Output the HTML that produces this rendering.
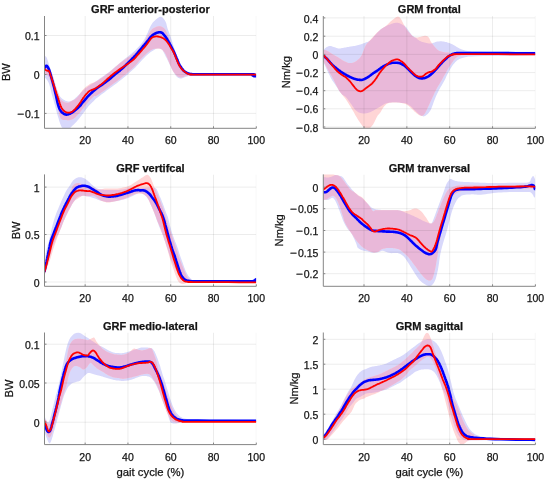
<!DOCTYPE html><html><head><meta charset="utf-8"><style>html,body{margin:0;padding:0;background:#fff;}svg{display:block;filter:blur(0.35px);}text{font-family:"Liberation Sans",sans-serif;fill:#141414;stroke:#141414;stroke-width:0.25px;}</style></head><body>
<svg width="550" height="484" viewBox="0 0 550 484">
<rect width="550" height="484" fill="#fff"/>
<defs>
<clipPath id="c0"><rect x="44.50" y="16.00" width="211.80" height="112.30"/></clipPath>
<clipPath id="bb0"><path d="M44.5,56.5 44.6,56.5 44.7,56.4 44.9,56.3 45.1,56.2 45.3,56.2 45.5,56.3 45.7,56.4 45.9,56.6 46.2,56.8 46.4,57.2 46.7,57.6 47.0,58.3 47.3,59.2 47.7,60.3 48.1,61.5 48.5,62.8 48.9,64.3 49.4,65.7 49.9,67.2 50.4,68.8 51.0,70.5 51.6,72.2 52.1,73.9 52.7,75.7 53.3,77.6 53.8,79.6 54.4,81.6 55.0,83.6 55.5,85.4 56.0,87.0 56.5,88.3 56.9,89.5 57.3,90.4 57.7,91.3 58.1,92.2 58.5,93.0 58.8,93.8 59.1,94.5 59.4,95.2 59.7,95.9 60.1,96.5 60.7,97.2 61.4,97.9 62.3,98.7 63.3,99.4 64.3,100.1 65.3,100.7 66.3,101.1 67.2,101.3 68.2,101.4 69.1,101.4 70.0,101.2 71.0,101.0 71.9,100.6 72.8,100.1 73.8,99.4 74.7,98.7 75.6,97.8 76.6,97.0 77.5,96.1 78.4,95.2 79.4,94.3 80.3,93.3 81.2,92.3 82.2,91.4 83.1,90.5 84.0,89.7 84.9,88.9 85.8,88.1 86.8,87.4 87.7,86.7 88.6,86.0 89.6,85.4 90.6,84.8 91.6,84.2 92.6,83.6 93.5,83.1 94.2,82.7 94.6,82.4 94.8,82.2 94.9,82.1 95.0,82.0 95.5,81.6 96.4,80.9 97.9,79.9 99.8,78.6 102.0,77.1 104.3,75.5 106.6,73.8 108.8,72.2 110.9,70.5 112.9,68.8 115.0,67.0 117.1,65.2 119.1,63.4 121.2,61.7 123.3,60.0 125.5,58.3 127.6,56.7 129.7,55.0 131.7,53.4 133.6,51.8 135.3,50.2 136.9,48.6 138.4,47.1 139.8,45.5 141.1,44.0 142.3,42.5 143.3,41.1 144.2,39.7 144.9,38.3 145.6,36.9 146.3,35.5 147.0,34.0 147.8,32.4 148.5,30.6 149.3,28.8 150.1,27.0 150.9,25.4 151.8,23.9 152.8,22.6 153.8,21.4 154.9,20.4 155.9,19.4 156.9,18.7 157.8,18.0 158.6,17.5 159.3,17.1 159.9,16.8 160.5,16.7 161.2,16.8 161.8,17.0 162.5,17.5 163.2,18.2 163.9,19.1 164.6,20.0 165.2,21.0 165.7,22.0 166.1,22.9 166.4,23.8 166.6,24.8 166.8,25.8 167.1,26.8 167.4,28.0 167.8,29.2 168.3,30.6 168.9,32.0 169.4,33.4 170.0,34.9 170.5,36.4 171.0,37.9 171.5,39.5 172.0,41.2 172.5,42.8 173.0,44.6 173.6,46.3 174.2,48.1 174.8,50.0 175.5,52.0 176.1,53.9 176.8,55.8 177.4,57.5 178.0,59.1 178.6,60.7 179.3,62.2 179.9,63.6 180.5,64.9 181.1,66.1 181.7,67.2 182.3,68.1 182.9,69.0 183.5,69.8 184.1,70.5 184.8,71.1 185.5,71.6 186.3,72.1 187.1,72.5 188.0,72.8 188.9,73.1 189.8,73.3 190.2,73.5 190.0,73.6 189.8,73.7 190.3,73.7 192.2,73.8 196.0,73.8 202.8,73.8 212.2,73.9 223.0,73.9 233.8,73.9 243.2,73.9 250.0,73.8 253.9,73.7 255.9,73.6 256.5,73.4 256.4,73.2 256.2,73.1 256.3,73.0 256.3,78.0 256.2,77.7 256.4,77.2 256.5,76.6 255.9,76.0 253.9,75.5 250.0,75.2 243.2,75.0 233.8,74.9 223.0,74.9 212.2,74.9 202.8,74.9 196.0,75.0 192.2,75.1 190.3,75.2 189.8,75.3 190.0,75.4 190.2,75.6 189.8,75.8 188.9,76.0 188.0,76.3 187.1,76.5 186.3,76.8 185.5,77.1 184.8,77.3 184.1,77.5 183.5,77.8 182.9,78.1 182.3,78.3 181.7,78.4 181.1,78.5 180.5,78.5 179.9,78.4 179.3,78.3 178.6,78.1 178.0,77.7 177.4,77.3 176.8,76.7 176.1,76.0 175.5,75.2 174.9,74.3 174.2,73.3 173.6,72.3 173.0,71.2 172.4,70.1 171.8,68.9 171.2,67.6 170.6,66.3 169.9,64.9 169.1,63.3 168.3,61.6 167.4,59.8 166.6,58.1 165.7,56.4 165.0,55.0 164.4,53.8 163.9,52.7 163.4,51.7 162.9,50.8 162.4,50.1 161.8,49.5 161.1,49.0 160.4,48.7 159.6,48.5 158.7,48.4 157.8,48.5 156.8,48.7 155.7,49.1 154.5,49.7 153.3,50.4 152.0,51.2 150.7,52.1 149.5,53.0 148.3,54.0 147.1,55.0 146.0,56.1 144.8,57.3 143.6,58.5 142.3,59.8 141.0,61.2 139.6,62.7 138.3,64.2 136.8,65.8 135.3,67.4 133.6,69.1 131.7,70.8 129.7,72.6 127.6,74.4 125.5,76.2 123.3,78.0 121.2,79.7 119.1,81.3 117.1,82.9 115.0,84.4 112.9,85.9 110.9,87.5 108.8,89.0 106.6,90.6 104.3,92.4 102.0,94.1 99.8,95.7 97.9,97.2 96.4,98.3 95.5,99.1 95.0,99.5 94.9,99.7 94.8,99.9 94.6,100.1 94.2,100.6 93.5,101.3 92.6,102.1 91.6,103.0 90.6,104.0 89.6,105.0 88.6,106.1 87.7,107.2 86.8,108.4 85.8,109.6 84.9,110.9 84.0,112.2 83.1,113.4 82.2,114.6 81.2,115.9 80.3,117.1 79.4,118.3 78.4,119.5 77.5,120.6 76.5,121.7 75.5,122.7 74.5,123.7 73.5,124.7 72.6,125.5 71.9,126.2 71.4,126.7 71.1,127.1 70.8,127.4 70.6,127.6 70.4,127.8 70.0,128.0 69.5,128.2 68.9,128.4 68.2,128.6 67.6,128.8 66.9,128.9 66.3,129.0 65.7,129.0 65.1,129.1 64.6,129.0 64.0,128.9 63.5,128.8 63.0,128.5 62.6,128.2 62.2,127.8 61.8,127.4 61.5,126.8 61.1,126.1 60.7,125.1 60.2,123.8 59.7,122.2 59.1,120.5 58.6,118.6 58.0,116.7 57.5,115.0 57.0,113.3 56.6,111.7 56.2,110.0 55.8,108.4 55.3,106.8 54.9,105.1 54.4,103.4 53.9,101.8 53.5,100.1 53.0,98.4 52.5,96.7 52.0,95.0 51.5,93.2 51.1,91.3 50.6,89.5 50.2,87.6 49.7,86.0 49.3,84.6 48.9,83.5 48.5,82.6 48.1,81.8 47.8,81.2 47.4,80.6 47.0,80.0 46.6,79.4 46.1,78.8 45.6,78.3 45.2,77.9 44.8,77.5 44.5,77.2Z"/></clipPath>
<clipPath id="c1"><rect x="323.30" y="16.00" width="212.10" height="112.30"/></clipPath>
<clipPath id="bb1"><path d="M323.3,50.0 323.6,49.7 324.1,49.3 324.6,48.7 325.2,48.2 325.8,47.7 326.4,47.3 326.9,47.0 327.5,46.7 328.0,46.4 328.5,46.2 329.1,46.0 329.6,45.9 330.1,45.9 330.6,46.0 331.1,46.1 331.6,46.3 332.2,46.5 332.9,46.7 333.7,47.0 334.6,47.3 335.5,47.6 336.5,48.0 337.5,48.2 338.4,48.4 339.3,48.4 340.2,48.4 341.1,48.3 342.0,48.1 342.9,48.0 343.8,47.8 344.7,47.6 345.6,47.5 346.6,47.3 347.5,47.1 348.4,46.9 349.3,46.7 350.2,46.6 351.1,46.4 352.0,46.3 352.9,46.2 353.8,46.1 354.7,45.9 355.6,45.7 356.5,45.5 357.4,45.3 358.4,45.0 359.3,44.8 360.2,44.5 361.1,44.2 362.0,43.9 363.0,43.6 363.9,43.3 364.8,42.9 365.6,42.6 366.4,42.3 367.1,42.1 367.8,41.9 368.5,41.6 369.2,41.2 370.0,40.6 370.9,39.8 371.8,38.9 372.7,37.9 373.6,36.8 374.6,35.7 375.5,34.7 376.4,33.7 377.3,32.8 378.2,31.8 379.1,30.9 380.0,30.1 380.9,29.3 381.8,28.6 382.7,28.0 383.6,27.4 384.6,26.9 385.5,26.5 386.4,26.0 387.3,25.6 388.2,25.1 389.2,24.8 390.1,24.4 391.0,24.1 391.8,23.8 392.6,23.5 393.4,23.3 394.1,23.1 394.9,22.9 395.5,22.8 396.2,22.7 396.8,22.7 397.4,22.7 397.9,22.8 398.4,23.0 399.0,23.1 399.5,23.3 400.0,23.5 400.6,23.7 401.1,24.0 401.6,24.3 402.2,24.6 402.7,24.9 403.2,25.2 403.7,25.4 404.2,25.6 404.7,25.9 405.3,26.4 406.0,27.1 406.8,28.1 407.7,29.4 408.7,30.8 409.7,32.3 410.6,33.6 411.5,34.7 412.3,35.5 413.1,36.1 413.8,36.6 414.5,37.0 415.2,37.4 415.8,37.8 416.4,38.3 416.9,38.8 417.4,39.2 417.9,39.7 418.4,40.1 419.1,40.5 419.9,40.9 420.7,41.3 421.6,41.7 422.5,42.0 423.5,42.3 424.5,42.6 425.5,42.8 426.6,43.1 427.7,43.3 428.8,43.4 429.9,43.5 430.9,43.5 431.9,43.4 432.8,43.1 433.7,42.7 434.6,42.4 435.5,42.0 436.4,41.8 437.3,41.6 438.2,41.5 439.1,41.4 440.0,41.3 440.9,41.3 441.8,41.3 442.7,41.4 443.6,41.5 444.6,41.7 445.5,41.9 446.4,42.1 447.3,42.4 448.2,42.7 449.1,43.0 450.0,43.3 450.9,43.7 451.8,44.1 452.7,44.5 453.6,45.0 454.5,45.6 455.4,46.1 456.4,46.7 457.3,47.3 458.2,47.8 459.1,48.2 460.0,48.7 460.9,49.0 461.8,49.4 462.7,49.7 463.6,50.0 464.4,50.3 465.2,50.5 466.0,50.7 466.9,50.8 467.9,51.0 469.1,51.1 470.1,51.2 470.7,51.3 471.4,51.4 472.9,51.5 475.5,51.5 480.0,51.6 487.3,51.7 497.2,51.7 508.4,51.7 519.4,51.8 528.9,51.8 535.4,51.8 535.4,55.5 528.4,55.6 518.2,55.7 506.4,55.8 494.4,56.0 483.8,56.1 476.0,56.3 471.3,56.4 468.6,56.6 467.3,56.8 466.7,56.9 466.2,57.1 465.3,57.3 464.1,57.5 463.1,57.7 462.3,57.9 461.5,58.2 460.8,58.5 460.1,58.8 459.4,59.1 458.7,59.5 458.0,59.9 457.3,60.3 456.7,60.8 456.0,61.4 455.3,62.1 454.6,62.9 453.9,63.7 453.2,64.6 452.5,65.6 451.8,66.6 451.1,67.7 450.4,68.8 449.7,70.0 449.1,71.2 448.4,72.5 447.7,73.8 447.0,75.1 446.3,76.5 445.7,78.0 445.0,79.4 444.3,80.8 443.6,82.1 442.9,83.3 442.2,84.5 441.5,85.7 440.8,86.8 440.1,88.0 439.4,89.3 438.7,90.6 438.1,92.0 437.4,93.3 436.7,94.8 436.0,96.3 435.3,98.0 434.5,99.9 433.7,102.1 432.9,104.4 432.1,106.6 431.3,108.7 430.4,110.4 429.5,111.8 428.6,113.0 427.7,114.0 426.7,114.8 425.8,115.5 425.0,116.0 424.2,116.3 423.5,116.4 422.9,116.3 422.2,116.1 421.5,115.9 420.8,115.5 420.0,115.1 419.2,114.5 418.4,113.8 417.6,113.1 416.8,112.3 416.0,111.6 415.2,110.8 414.4,110.0 413.6,109.2 412.8,108.3 412.0,107.5 411.2,106.8 410.4,106.1 409.6,105.5 408.8,104.9 408.0,104.4 407.2,104.0 406.4,103.6 405.6,103.3 404.8,103.2 404.1,103.1 403.3,103.0 402.5,103.0 401.6,102.9 400.7,102.8 399.7,102.6 398.7,102.5 397.6,102.4 396.6,102.3 395.6,102.2 394.6,102.2 393.6,102.2 392.5,102.3 391.5,102.4 390.5,102.5 389.6,102.6 388.7,102.7 387.9,102.9 387.1,103.0 386.4,103.2 385.6,103.5 384.8,103.8 384.0,104.2 383.2,104.7 382.4,105.2 381.6,105.7 380.8,106.3 380.0,106.8 379.2,107.3 378.3,107.8 377.4,108.3 376.5,108.8 375.6,109.3 374.8,109.8 374.0,110.2 373.2,110.7 372.4,111.1 371.6,111.5 370.8,111.9 370.0,112.2 369.2,112.5 368.4,112.7 367.6,113.0 366.8,113.2 366.0,113.3 365.2,113.4 364.4,113.5 363.6,113.5 362.8,113.4 362.0,113.3 361.2,113.2 360.4,113.0 359.6,112.7 358.8,112.4 358.1,111.9 357.3,111.5 356.6,111.0 356.0,110.5 355.4,110.0 355.0,109.5 354.5,108.9 354.1,108.3 353.7,107.7 353.2,107.0 352.6,106.3 352.1,105.4 351.5,104.6 350.8,103.7 350.2,102.8 349.6,102.0 349.0,101.2 348.4,100.3 347.9,99.5 347.3,98.7 346.7,97.9 346.0,97.2 345.3,96.6 344.5,96.0 343.7,95.5 342.8,95.0 342.0,94.4 341.2,93.6 340.4,92.6 339.6,91.5 338.8,90.2 338.0,88.9 337.2,87.6 336.4,86.4 335.6,85.2 334.8,84.0 333.9,82.8 333.1,81.6 332.3,80.4 331.6,79.2 330.9,78.0 330.4,76.9 329.8,75.8 329.2,74.6 328.6,73.4 328.0,72.0 327.2,70.4 326.3,68.5 325.4,66.5 324.6,64.7 323.8,63.1 323.3,62.0Z"/></clipPath>
<clipPath id="c2"><rect x="44.50" y="174.40" width="211.80" height="111.90"/></clipPath>
<clipPath id="bb2"><path d="M44.4,264.0 44.6,262.7 44.8,260.9 45.0,258.8 45.3,256.4 45.6,254.1 46.0,252.0 46.4,250.0 47.0,248.1 47.5,246.1 48.1,244.1 48.7,242.1 49.2,240.0 49.7,237.8 50.2,235.4 50.8,233.0 51.3,230.6 51.8,228.3 52.3,226.2 52.8,224.3 53.3,222.5 53.8,220.8 54.3,219.1 54.8,217.5 55.4,215.8 56.0,214.1 56.7,212.3 57.4,210.6 58.1,208.9 58.8,207.2 59.5,205.5 60.2,203.9 60.9,202.2 61.6,200.6 62.3,199.0 63.0,197.6 63.6,196.2 64.2,195.0 64.7,193.8 65.2,192.8 65.7,191.8 66.2,190.9 66.7,190.0 67.2,189.2 67.6,188.6 68.1,187.9 68.5,187.4 69.0,186.7 69.5,186.0 70.0,185.2 70.6,184.2 71.2,183.2 71.8,182.3 72.4,181.4 73.0,180.6 73.6,179.9 74.3,179.4 75.0,178.8 75.7,178.4 76.4,178.0 77.1,177.7 77.8,177.5 78.5,177.3 79.2,177.2 79.9,177.2 80.6,177.2 81.3,177.3 82.0,177.4 82.7,177.7 83.4,177.9 84.0,178.2 84.7,178.6 85.4,179.0 86.1,179.4 86.8,180.0 87.4,180.5 88.1,181.1 88.8,181.7 89.5,182.3 90.2,183.0 91.0,183.7 91.7,184.4 92.5,185.1 93.2,185.8 94.0,186.4 94.7,186.9 95.5,187.4 96.2,187.9 96.9,188.3 97.8,188.7 98.7,189.0 99.7,189.3 100.8,189.5 102.0,189.7 103.2,189.8 104.5,189.9 106.0,190.0 107.7,190.1 109.5,190.1 111.5,190.1 113.4,190.1 115.3,190.1 117.0,190.0 118.5,189.9 119.9,189.8 121.2,189.6 122.4,189.4 123.7,189.2 125.0,189.0 126.3,188.8 127.7,188.5 129.1,188.1 130.4,187.8 131.7,187.6 133.0,187.5 134.3,187.5 135.6,187.6 136.8,187.8 138.0,188.0 139.1,188.2 140.0,188.3 140.7,188.3 141.3,188.3 141.8,188.2 142.1,188.1 142.5,188.1 143.0,188.0 143.5,188.0 144.0,187.9 144.5,187.9 145.0,187.9 145.5,187.8 146.0,187.8 146.5,187.8 147.0,187.7 147.5,187.7 148.0,187.7 148.5,187.6 149.0,187.6 149.5,187.6 150.0,187.6 150.6,187.6 151.1,187.6 151.6,187.6 152.0,187.6 152.4,187.6 152.7,187.6 153.0,187.6 153.3,187.7 153.6,187.7 154.0,187.8 154.4,187.9 154.8,188.0 155.2,188.1 155.6,188.2 156.1,188.5 156.5,189.0 156.9,189.7 157.3,190.5 157.8,191.5 158.2,192.5 158.6,193.5 159.0,194.5 159.4,195.4 159.8,196.4 160.2,197.3 160.7,198.3 161.1,199.3 161.5,200.3 161.9,201.4 162.3,202.4 162.8,203.6 163.2,204.7 163.6,205.8 164.0,206.9 164.4,208.0 164.8,209.2 165.2,210.3 165.7,211.5 166.0,212.5 166.4,213.5 166.7,214.3 167.0,214.9 167.2,215.4 167.5,216.0 167.7,216.8 168.1,218.0 168.5,219.6 169.0,221.6 169.6,223.7 170.1,225.9 170.7,228.1 171.2,230.0 171.7,231.7 172.2,233.3 172.7,234.8 173.2,236.2 173.7,237.6 174.2,239.0 174.7,240.3 175.1,241.4 175.6,242.6 176.1,243.8 176.6,245.1 177.2,246.8 177.9,248.8 178.7,251.2 179.5,253.7 180.3,256.3 181.2,258.8 182.0,261.1 182.8,263.3 183.6,265.5 184.3,267.6 185.1,269.6 185.9,271.5 186.7,273.1 187.5,274.5 188.2,275.7 189.0,276.8 189.8,277.7 190.6,278.4 191.5,279.1 192.0,279.6 191.9,279.9 191.8,280.1 192.4,280.2 194.3,280.2 198.0,280.3 204.6,280.4 213.7,280.5 224.2,280.6 234.5,280.6 243.6,280.6 250.0,280.5 253.5,280.3 255.0,280.1 255.1,279.9 254.6,279.6 254.0,279.3 254.0,279.0 254.5,278.7 255.0,278.4 255.4,278.2 255.8,277.9 256.1,277.7 256.3,277.5 256.3,282.0 248.6,282.1 237.5,282.2 224.6,282.3 211.6,282.4 200.1,282.5 192.0,282.5 187.5,282.5 185.3,282.4 184.8,282.4 185.1,282.2 185.4,281.9 185.0,281.5 184.0,280.8 183.1,280.0 182.3,279.1 181.5,278.0 180.8,277.0 180.0,276.0 179.3,275.1 178.6,274.1 177.9,273.2 177.3,272.2 176.7,271.1 176.0,270.0 175.3,268.8 174.6,267.4 173.9,266.1 173.2,264.7 172.6,263.3 172.0,262.0 171.5,260.8 171.1,259.7 170.7,258.6 170.3,257.4 169.9,256.3 169.5,255.0 169.0,253.6 168.6,252.2 168.1,250.7 167.6,249.1 167.0,247.6 166.5,246.0 165.9,244.4 165.4,242.6 164.8,240.9 164.1,239.2 163.6,237.5 163.0,236.0 162.5,234.6 161.9,233.3 161.4,232.0 160.9,230.8 160.5,229.7 160.0,228.5 159.6,227.4 159.1,226.2 158.7,225.2 158.3,224.1 157.9,223.0 157.5,222.0 157.1,221.0 156.7,220.0 156.4,219.0 156.0,218.0 155.7,217.0 155.3,216.0 154.9,215.0 154.6,214.1 154.3,213.1 153.9,212.1 153.6,211.2 153.2,210.2 152.8,209.2 152.4,208.2 152.0,207.2 151.5,206.3 151.1,205.3 150.7,204.4 150.3,203.5 149.9,202.7 149.6,201.8 149.2,201.0 148.8,200.3 148.3,199.5 147.8,198.8 147.3,198.0 146.8,197.3 146.3,196.6 145.7,196.0 145.0,195.4 144.3,194.8 143.5,194.3 142.7,193.7 141.8,193.3 140.9,193.0 140.0,192.9 139.0,193.0 137.9,193.4 136.8,193.9 135.6,194.5 134.6,195.0 133.6,195.5 132.8,195.9 132.1,196.2 131.5,196.5 130.8,196.8 130.1,197.2 129.3,197.5 128.4,197.9 127.3,198.3 126.3,198.7 125.1,199.1 123.9,199.4 122.7,199.8 121.3,200.1 119.9,200.5 118.3,200.8 116.8,201.0 115.3,201.3 114.0,201.5 112.8,201.7 111.7,201.8 110.6,201.9 109.6,202.0 108.6,202.0 107.5,202.0 106.4,201.9 105.3,201.8 104.2,201.6 103.1,201.3 102.0,201.1 100.9,200.8 99.9,200.5 98.8,200.1 97.8,199.7 96.9,199.2 95.9,198.8 95.0,198.5 94.1,198.2 93.3,197.9 92.5,197.7 91.7,197.4 90.9,197.2 90.0,197.0 89.1,196.8 88.1,196.6 87.1,196.3 86.0,196.2 85.0,196.0 84.0,196.0 83.0,196.0 82.0,196.1 80.9,196.2 79.9,196.3 79.0,196.6 78.1,197.0 77.3,197.5 76.6,198.1 75.9,198.8 75.3,199.6 74.7,200.5 74.0,201.4 73.3,202.4 72.6,203.5 72.0,204.6 71.3,205.9 70.6,207.2 69.8,208.6 69.0,210.1 68.1,211.8 67.3,213.5 66.4,215.3 65.5,217.1 64.7,218.9 63.9,220.6 63.2,222.4 62.5,224.2 61.9,226.0 61.2,227.7 60.5,229.3 59.8,230.9 59.1,232.4 58.4,233.8 57.7,235.2 57.0,236.6 56.4,238.0 55.8,239.4 55.2,240.6 54.6,241.9 54.1,243.2 53.5,244.6 53.0,246.0 52.5,247.6 52.0,249.2 51.5,250.9 51.0,252.6 50.5,254.3 50.0,256.0 49.5,257.7 49.0,259.3 48.5,261.0 48.0,262.7 47.5,264.3 47.0,266.0 46.5,267.8 46.0,269.7 45.5,271.6 45.1,273.4 44.7,274.9 44.4,276.0Z"/></clipPath>
<clipPath id="c3"><rect x="323.30" y="174.40" width="212.10" height="111.90"/></clipPath>
<clipPath id="bb3"><path d="M323.3,177.0 323.8,177.1 324.5,177.2 325.4,177.3 326.3,177.4 327.2,177.5 328.0,177.5 328.7,177.4 329.4,177.3 330.1,177.1 330.7,176.9 331.4,176.7 332.0,176.5 332.6,176.3 333.2,176.0 333.8,175.7 334.3,175.4 334.9,175.1 335.4,175.0 335.9,175.0 336.4,175.0 336.9,175.0 337.4,175.2 337.9,175.3 338.5,175.5 339.1,175.7 339.8,175.8 340.5,175.9 341.2,176.2 341.9,176.6 342.7,177.2 343.5,178.1 344.3,179.2 345.2,180.5 346.1,181.9 346.9,183.2 347.8,184.4 348.7,185.5 349.5,186.6 350.4,187.6 351.3,188.7 352.1,189.7 353.0,190.6 353.9,191.5 354.7,192.4 355.6,193.3 356.4,194.1 357.2,194.8 358.0,195.5 358.7,196.0 359.4,196.5 360.1,196.8 360.7,197.2 361.4,197.6 362.0,198.0 362.6,198.5 363.2,199.1 363.7,199.7 364.3,200.3 364.8,200.9 365.4,201.5 366.0,202.1 366.6,202.7 367.3,203.3 367.9,203.9 368.5,204.5 369.0,205.0 369.5,205.5 369.9,206.0 370.3,206.4 370.7,206.8 371.1,207.2 371.5,207.5 371.9,207.8 372.2,208.0 372.5,208.2 372.9,208.4 373.4,208.6 374.0,208.8 374.8,209.0 375.6,209.2 376.5,209.4 377.6,209.5 378.7,209.7 380.0,209.8 381.5,209.9 383.1,209.9 384.9,210.0 386.7,210.0 388.4,210.0 390.0,210.0 391.5,210.0 392.9,209.9 394.2,209.9 395.6,209.9 396.8,209.9 398.0,210.0 399.1,210.2 399.9,210.4 400.8,210.7 401.7,211.0 402.7,211.5 404.0,212.0 405.6,212.7 407.5,213.5 409.6,214.3 411.7,215.2 413.7,216.1 415.4,216.9 416.9,217.6 418.3,218.3 419.6,219.0 420.8,219.6 421.9,220.2 423.0,220.7 424.0,221.2 424.9,221.6 425.8,221.9 426.6,222.3 427.3,222.5 428.0,222.8 428.6,223.0 429.1,223.3 429.5,223.4 429.9,223.6 430.2,223.6 430.6,223.6 430.9,223.5 431.2,223.5 431.5,223.3 431.8,223.0 432.1,222.5 432.5,221.7 433.0,220.5 433.6,219.0 434.2,217.2 434.9,215.4 435.6,213.5 436.2,211.8 436.8,210.2 437.4,208.5 438.0,206.9 438.7,205.2 439.3,203.6 439.9,201.9 440.5,200.2 441.2,198.5 441.8,196.8 442.4,195.2 443.0,193.5 443.6,192.0 444.1,190.5 444.6,189.0 445.1,187.6 445.6,186.3 446.0,185.1 446.5,184.0 447.0,183.1 447.5,182.3 447.9,181.7 448.4,181.1 448.8,180.6 449.1,180.2 449.3,179.8 449.4,179.5 449.5,179.2 449.6,179.0 449.7,178.8 450.0,178.8 450.4,178.9 451.0,179.1 451.6,179.3 452.2,179.6 452.9,179.9 453.6,180.2 454.3,180.4 454.9,180.7 455.6,180.9 456.3,181.1 457.2,181.3 458.2,181.5 459.5,181.6 460.9,181.7 462.5,181.8 464.1,181.9 465.7,181.9 467.3,182.0 468.8,182.1 470.2,182.2 471.6,182.3 473.0,182.3 474.6,182.4 476.4,182.5 478.3,182.6 480.3,182.7 482.4,182.7 484.7,182.8 487.2,182.9 490.0,182.9 493.2,182.9 496.9,182.9 500.9,182.9 504.8,182.9 508.6,182.8 512.0,182.8 515.2,182.8 518.3,182.8 521.2,182.8 523.8,182.8 526.1,182.7 528.0,182.4 529.3,181.9 530.1,181.3 530.5,180.5 530.7,179.7 530.9,179.0 531.2,178.4 531.6,177.8 531.9,177.2 532.3,176.7 532.6,176.3 532.9,176.0 533.2,176.0 533.6,176.3 534.0,177.0 534.4,177.8 534.8,178.7 535.2,179.5 535.4,180.0 535.4,195.2 535.3,195.5 535.2,196.1 535.0,196.7 534.9,197.2 534.7,197.5 534.4,197.6 534.1,197.3 533.8,196.7 533.4,195.8 533.0,195.0 532.5,194.2 532.0,193.6 531.6,193.2 531.2,192.8 530.9,192.6 530.3,192.3 529.4,192.1 528.0,192.0 526.0,191.9 523.6,191.9 520.8,191.9 517.8,191.9 514.8,191.9 512.0,192.0 509.3,192.1 506.6,192.2 503.9,192.3 501.3,192.4 498.6,192.6 496.0,192.8 493.4,193.1 490.7,193.4 488.0,193.8 485.5,194.2 483.1,194.5 480.9,194.7 479.0,194.8 477.4,194.7 476.0,194.6 474.6,194.4 473.2,194.3 471.8,194.3 470.2,194.4 468.5,194.5 466.8,194.6 465.3,194.8 463.8,195.0 462.7,195.2 461.9,195.4 461.3,195.7 461.0,196.0 460.7,196.3 460.4,196.7 460.0,197.0 459.6,197.3 459.1,197.6 458.7,197.8 458.3,198.2 457.8,198.7 457.3,199.4 456.7,200.3 456.1,201.4 455.4,202.7 454.8,204.0 454.1,205.5 453.5,206.9 452.9,208.4 452.4,209.9 451.9,211.5 451.4,213.2 450.9,215.0 450.4,216.8 449.9,218.7 449.4,220.7 448.9,222.8 448.4,225.0 447.9,227.1 447.3,229.2 446.7,231.3 446.1,233.4 445.5,235.5 444.8,237.5 444.2,239.6 443.6,241.6 443.0,243.5 442.5,245.3 442.0,247.1 441.5,249.0 441.0,250.9 440.5,253.0 440.1,255.4 439.7,257.9 439.3,260.6 439.0,263.3 438.6,265.8 438.2,268.2 437.8,270.4 437.3,272.5 436.9,274.5 436.4,276.4 435.9,278.2 435.4,279.7 434.8,281.1 434.2,282.2 433.6,283.3 433.0,284.1 432.3,284.8 431.6,285.4 430.9,285.8 430.2,286.0 429.4,286.1 428.6,286.0 427.8,285.8 426.8,285.4 425.7,284.8 424.5,284.1 423.2,283.3 421.8,282.2 420.5,281.1 419.2,279.7 417.9,278.1 416.7,276.3 415.4,274.3 414.1,272.2 412.9,270.2 411.6,268.2 410.3,266.2 409.0,264.1 407.7,262.0 406.4,260.0 405.2,258.3 404.0,256.8 402.9,255.7 401.8,254.9 400.8,254.2 399.8,253.8 398.8,253.4 397.7,253.1 396.5,252.9 395.3,252.9 394.1,253.0 392.8,253.1 391.6,253.2 390.3,253.1 389.0,252.8 387.7,252.4 386.4,251.9 385.1,251.4 383.9,251.0 382.8,250.8 381.8,250.8 381.0,251.1 380.2,251.4 379.5,251.7 378.8,252.1 378.0,252.3 377.2,252.5 376.3,252.6 375.5,252.7 374.7,252.8 373.8,252.8 373.0,252.8 372.2,252.7 371.3,252.5 370.5,252.2 369.7,252.0 368.8,251.7 368.0,251.5 367.2,251.3 366.3,251.2 365.5,251.1 364.7,250.9 363.8,250.8 363.0,250.5 362.1,250.2 361.2,249.9 360.3,249.5 359.4,249.1 358.7,248.6 358.0,248.0 357.5,247.4 357.2,246.7 357.0,245.9 356.7,245.1 356.4,244.1 356.0,243.0 355.4,241.7 354.8,240.2 354.0,238.6 353.2,236.9 352.5,235.4 351.7,234.0 350.9,232.8 350.1,231.8 349.3,230.8 348.5,229.9 347.7,229.0 347.0,228.0 346.4,227.0 345.8,226.0 345.2,225.0 344.7,224.0 344.2,223.0 343.7,222.0 343.3,221.1 342.9,220.2 342.6,219.3 342.3,218.4 342.0,217.5 341.6,216.4 341.1,215.2 340.6,213.8 340.1,212.4 339.6,211.0 339.0,209.5 338.5,208.2 338.0,206.9 337.5,205.5 336.9,204.2 336.4,203.0 335.9,201.9 335.4,200.9 334.9,200.1 334.4,199.4 333.9,198.8 333.4,198.3 332.9,198.0 332.3,197.8 331.7,197.9 331.0,198.2 330.4,198.7 329.7,199.2 328.9,199.6 328.2,199.9 327.4,200.0 326.4,200.1 325.5,200.1 324.6,200.0 323.8,200.0 323.3,200.0Z"/></clipPath>
<clipPath id="c4"><rect x="44.50" y="332.50" width="211.80" height="112.10"/></clipPath>
<clipPath id="bb4"><path d="M44.4,415.5 44.6,416.0 44.8,416.6 45.1,417.4 45.4,418.2 45.8,419.0 46.1,419.6 46.4,420.2 46.7,420.9 47.1,421.5 47.4,422.0 47.8,422.3 48.1,422.3 48.4,422.1 48.8,421.7 49.1,421.1 49.5,420.3 49.8,419.4 50.2,418.2 50.6,416.8 51.1,415.1 51.5,413.2 52.0,411.2 52.4,409.2 52.9,407.3 53.4,405.4 53.8,403.5 54.3,401.6 54.8,399.7 55.2,398.0 55.6,396.4 55.9,395.1 56.2,394.1 56.5,393.2 56.8,392.3 57.1,391.2 57.4,390.0 57.8,388.5 58.2,386.9 58.6,385.2 59.0,383.4 59.5,381.5 59.9,379.6 60.3,377.6 60.7,375.6 61.1,373.5 61.6,371.4 62.0,369.3 62.4,367.2 62.8,365.1 63.2,363.0 63.7,360.8 64.1,358.7 64.5,356.7 64.9,354.8 65.3,353.0 65.7,351.2 66.1,349.5 66.5,347.8 66.9,346.3 67.3,344.9 67.7,343.6 68.1,342.5 68.5,341.5 68.9,340.5 69.3,339.6 69.8,338.7 70.3,337.8 70.9,337.0 71.6,336.2 72.2,335.5 72.9,334.9 73.5,334.3 74.1,333.8 74.8,333.5 75.5,333.2 76.1,333.0 76.7,332.8 77.3,332.7 77.8,332.6 78.3,332.6 78.7,332.6 79.1,332.7 79.5,332.8 80.0,333.0 80.5,333.2 81.0,333.5 81.5,333.8 82.1,334.2 82.7,334.6 83.3,335.0 84.0,335.4 84.7,335.9 85.5,336.5 86.3,337.0 87.2,337.6 88.0,338.1 88.8,338.6 89.7,339.2 90.6,339.8 91.5,340.4 92.3,340.9 93.2,341.5 94.0,342.1 94.9,342.7 95.7,343.3 96.5,343.8 97.4,344.4 98.2,344.9 99.1,345.4 99.9,345.8 100.8,346.2 101.7,346.6 102.6,347.0 103.5,347.4 104.4,347.9 105.2,348.4 106.1,349.0 107.0,349.5 107.8,350.0 108.7,350.5 109.6,350.9 110.5,351.3 111.4,351.7 112.2,352.1 113.1,352.4 113.9,352.6 114.6,352.8 115.3,352.9 115.9,353.0 116.6,353.0 117.2,353.1 118.0,353.1 118.8,353.1 119.8,353.2 120.7,353.2 121.7,353.2 122.7,353.1 123.6,353.0 124.5,352.8 125.4,352.6 126.2,352.4 127.1,352.1 128.1,351.8 129.1,351.5 130.3,351.1 131.6,350.7 133.0,350.2 134.3,349.8 135.6,349.4 136.7,349.0 137.6,348.7 138.4,348.4 139.1,348.1 139.8,347.9 140.4,347.7 141.1,347.6 141.8,347.5 142.6,347.5 143.3,347.4 144.0,347.5 144.8,347.5 145.5,347.5 146.2,347.5 147.0,347.6 147.8,347.6 148.5,347.7 149.2,347.7 149.8,347.8 150.3,347.9 150.7,347.9 151.0,348.0 151.3,348.1 151.7,348.3 152.0,348.5 152.4,348.8 152.7,349.1 153.1,349.5 153.5,349.9 153.8,350.4 154.2,351.0 154.6,351.6 154.9,352.3 155.2,353.0 155.6,353.8 156.0,354.7 156.4,355.8 156.9,357.0 157.4,358.3 157.9,359.8 158.5,361.3 159.0,362.9 159.6,364.5 160.2,366.3 160.7,368.2 161.3,370.2 161.9,372.1 162.4,373.9 162.9,375.5 163.3,376.7 163.6,377.5 163.9,378.3 164.2,379.0 164.5,379.9 164.9,381.2 165.4,382.9 166.0,384.9 166.6,387.1 167.3,389.3 168.0,391.5 168.6,393.6 169.2,395.6 169.8,397.5 170.4,399.5 171.1,401.3 171.7,403.1 172.3,404.7 172.9,406.2 173.5,407.6 174.1,408.8 174.7,410.0 175.4,411.1 176.1,412.2 176.8,413.2 177.6,414.1 178.4,415.0 179.2,415.8 180.1,416.5 181.0,417.1 181.9,417.6 182.7,418.0 183.6,418.3 184.6,418.6 185.8,418.8 187.2,419.0 188.4,419.2 189.4,419.3 190.5,419.4 192.3,419.4 195.3,419.5 200.0,419.5 207.5,419.6 217.6,419.6 228.9,419.6 240.1,419.7 249.7,419.7 256.3,419.7 256.3,421.7 248.4,421.7 236.9,421.7 223.6,421.7 210.2,421.7 198.4,421.8 190.0,421.8 185.3,421.8 183.0,421.9 182.3,421.9 182.5,421.9 182.7,422.0 182.3,422.1 181.3,422.3 180.4,422.5 179.6,422.7 178.9,423.0 178.1,423.2 177.3,423.3 176.4,423.4 175.5,423.5 174.6,423.5 173.8,423.5 173.0,423.5 172.3,423.3 171.8,423.1 171.3,422.9 170.9,422.6 170.6,422.2 170.3,421.6 169.9,420.9 169.5,420.0 169.1,418.9 168.7,417.6 168.3,416.3 167.9,414.8 167.4,413.4 166.8,411.9 166.2,410.3 165.6,408.6 164.9,406.9 164.2,405.2 163.6,403.5 163.0,401.7 162.3,399.8 161.7,397.9 161.0,396.1 160.4,394.4 159.9,393.0 159.4,391.8 159.0,390.9 158.6,390.2 158.3,389.5 157.9,388.8 157.5,388.0 157.1,387.1 156.7,386.3 156.3,385.4 155.8,384.6 155.4,383.7 155.0,383.0 154.6,382.3 154.2,381.7 153.8,381.1 153.3,380.5 152.9,380.0 152.5,379.5 152.1,379.0 151.7,378.6 151.3,378.2 150.8,377.8 150.3,377.4 149.8,377.1 149.2,376.8 148.5,376.6 147.8,376.4 147.1,376.2 146.3,376.1 145.5,376.0 144.7,376.0 143.9,375.9 143.0,376.0 142.1,376.1 141.1,376.2 140.0,376.5 138.7,376.9 137.3,377.5 135.8,378.1 134.2,378.8 132.7,379.3 131.3,379.8 129.9,380.1 128.6,380.4 127.3,380.6 126.0,380.7 124.8,380.8 123.6,380.9 122.5,380.9 121.5,380.9 120.6,380.8 119.7,380.7 118.8,380.6 118.0,380.5 117.2,380.4 116.6,380.4 115.9,380.3 115.3,380.2 114.6,380.1 113.9,380.0 113.1,379.8 112.2,379.6 111.4,379.3 110.5,379.0 109.6,378.8 108.7,378.5 107.8,378.2 107.0,378.0 106.1,377.7 105.2,377.4 104.4,377.2 103.5,376.9 102.6,376.6 101.8,376.4 100.9,376.1 100.0,375.9 99.2,375.6 98.3,375.4 97.4,375.2 96.5,374.9 95.6,374.7 94.7,374.4 93.8,374.2 93.0,374.0 92.2,373.8 91.4,373.5 90.6,373.3 89.8,373.1 89.1,373.0 88.5,373.0 88.0,373.1 87.5,373.3 87.1,373.6 86.7,373.9 86.3,374.3 85.8,374.7 85.2,375.2 84.6,375.8 83.9,376.5 83.3,377.2 82.6,377.8 82.1,378.4 81.7,378.9 81.4,379.3 81.1,379.8 80.8,380.1 80.4,380.5 80.0,380.8 79.4,381.1 78.8,381.3 78.1,381.5 77.4,381.6 76.7,381.8 76.0,382.0 75.4,382.2 74.7,382.4 74.1,382.6 73.5,382.8 72.9,383.0 72.3,383.3 71.7,383.6 71.2,384.0 70.6,384.4 70.1,384.9 69.5,385.4 69.0,386.0 68.5,386.6 68.0,387.3 67.5,388.1 67.0,388.9 66.5,389.9 66.0,391.0 65.5,392.3 64.9,393.6 64.3,395.1 63.7,396.8 63.1,398.5 62.5,400.5 61.9,402.7 61.2,405.1 60.5,407.7 59.8,410.3 59.1,412.9 58.4,415.5 57.7,418.1 57.0,420.7 56.3,423.3 55.6,425.9 54.9,428.3 54.3,430.5 53.7,432.5 53.2,434.3 52.8,436.0 52.3,437.5 51.9,438.8 51.5,440.0 51.1,441.0 50.8,441.8 50.4,442.5 50.1,443.0 49.8,443.3 49.5,443.4 49.2,443.2 48.8,442.8 48.5,442.2 48.1,441.4 47.8,440.7 47.5,440.0 47.2,439.4 47.0,438.7 46.7,438.1 46.5,437.4 46.2,436.7 46.0,436.0 45.7,435.3 45.4,434.5 45.1,433.7 44.8,432.9 44.6,432.3 44.4,431.8Z"/></clipPath>
<clipPath id="c5"><rect x="323.30" y="332.50" width="212.10" height="112.10"/></clipPath>
<clipPath id="bb5"><path d="M323.3,435.0 323.4,435.0 323.5,435.1 323.6,435.2 323.8,435.1 324.1,434.8 324.6,434.2 325.2,433.2 326.0,431.8 326.9,430.2 327.9,428.5 328.9,426.7 329.9,425.0 330.9,423.2 332.0,421.2 333.1,419.2 334.2,417.2 335.2,415.4 336.0,414.0 336.6,412.9 337.1,412.2 337.4,411.6 337.8,411.2 338.1,410.7 338.5,410.0 339.0,409.2 339.5,408.3 340.0,407.5 340.5,406.6 341.0,405.7 341.5,404.8 341.9,404.0 342.3,403.1 342.7,402.3 343.1,401.5 343.5,400.7 343.9,399.9 344.3,399.1 344.7,398.2 345.1,397.4 345.6,396.5 346.0,395.7 346.4,394.9 346.8,394.1 347.3,393.3 347.7,392.6 348.1,391.8 348.5,391.1 348.9,390.5 349.3,389.9 349.6,389.5 349.9,389.0 350.2,388.6 350.6,388.1 350.9,387.5 351.2,386.8 351.6,386.1 351.9,385.4 352.3,384.6 352.6,383.8 353.0,383.0 353.4,382.1 353.8,381.2 354.2,380.3 354.7,379.3 355.2,378.4 355.7,377.5 356.3,376.6 356.9,375.7 357.5,374.8 358.2,374.0 358.9,373.2 359.5,372.5 360.1,371.9 360.8,371.4 361.4,371.0 362.0,370.6 362.6,370.3 363.2,370.0 363.7,369.8 364.1,369.6 364.5,369.5 364.9,369.4 365.4,369.2 366.0,369.0 366.7,368.7 367.5,368.3 368.3,367.9 369.2,367.5 370.1,367.2 370.9,366.9 371.7,366.7 372.5,366.5 373.3,366.4 374.2,366.3 375.0,366.2 375.8,366.1 376.6,365.9 377.5,365.8 378.3,365.6 379.1,365.5 380.0,365.3 380.8,365.1 381.6,364.9 382.4,364.7 383.2,364.5 384.1,364.3 384.9,364.1 385.7,363.8 386.5,363.5 387.4,363.1 388.2,362.6 389.0,362.2 389.9,361.7 390.7,361.3 391.5,360.9 392.4,360.5 393.2,360.1 394.0,359.7 394.9,359.3 395.7,358.9 396.5,358.5 397.3,358.1 398.2,357.7 399.0,357.3 399.8,356.9 400.6,356.4 401.4,355.9 402.3,355.4 403.1,354.9 404.0,354.4 404.8,353.8 405.6,353.3 406.4,352.7 407.1,352.2 407.8,351.6 408.5,351.0 409.2,350.4 410.0,349.8 410.8,349.2 411.6,348.6 412.5,348.0 413.3,347.3 414.2,346.7 415.0,346.1 415.8,345.5 416.6,344.8 417.4,344.2 418.3,343.5 419.1,342.9 419.9,342.4 420.7,341.9 421.6,341.4 422.4,341.0 423.2,340.6 424.1,340.3 424.9,340.0 425.7,339.7 426.5,339.5 427.3,339.3 428.2,339.2 429.0,339.2 429.8,339.3 430.6,339.5 431.5,339.8 432.4,340.2 433.2,340.7 434.0,341.2 434.8,341.8 435.5,342.4 436.1,343.0 436.7,343.6 437.3,344.4 437.9,345.2 438.5,346.1 439.1,347.1 439.7,348.2 440.4,349.4 441.0,350.7 441.6,352.1 442.2,353.5 442.8,355.0 443.5,356.7 444.1,358.4 444.7,360.2 445.3,361.9 445.9,363.5 446.4,365.0 446.9,366.4 447.3,367.8 447.7,369.1 448.1,370.5 448.5,372.0 448.9,373.6 449.3,375.1 449.7,376.8 450.1,378.5 450.6,380.2 451.0,382.0 451.5,383.9 451.9,385.9 452.4,388.0 452.9,390.1 453.4,392.1 454.0,394.0 454.6,395.8 455.2,397.5 455.8,399.2 456.5,400.8 457.2,402.4 457.8,404.0 458.4,405.6 459.1,407.1 459.7,408.6 460.3,410.1 461.0,411.5 461.6,413.0 462.2,414.5 462.9,415.9 463.6,417.4 464.2,418.8 464.9,420.2 465.5,421.5 466.1,422.7 466.7,423.9 467.2,425.0 467.8,426.1 468.4,427.1 469.0,428.0 469.6,428.9 470.3,429.7 470.9,430.5 471.6,431.2 472.3,431.9 473.0,432.5 473.7,433.1 474.3,433.6 475.0,434.2 475.8,434.6 476.8,435.1 478.0,435.5 479.2,435.9 480.2,436.3 481.5,436.6 483.3,436.9 486.0,437.2 490.0,437.5 496.2,437.7 504.3,437.9 513.5,438.1 522.4,438.3 530.1,438.4 535.4,438.5 535.4,440.5 528.4,440.5 518.1,440.4 506.3,440.4 494.3,440.4 483.7,440.3 476.0,440.3 471.5,440.3 469.1,440.4 468.0,440.5 467.7,440.5 467.5,440.5 466.8,440.4 465.7,440.2 464.7,440.0 463.9,439.7 463.1,439.4 462.3,439.0 461.6,438.5 460.9,438.0 460.2,437.4 459.6,436.7 459.0,435.9 458.4,435.0 457.8,434.0 457.2,432.8 456.5,431.5 455.9,430.0 455.3,428.4 454.6,426.8 454.0,425.0 453.4,423.1 452.7,421.1 452.1,419.0 451.4,416.8 450.7,414.5 450.1,412.2 449.5,409.7 448.8,407.0 448.2,404.3 447.6,401.6 446.9,399.1 446.3,397.0 445.7,395.2 445.0,393.8 444.3,392.5 443.7,391.3 443.1,390.2 442.5,389.0 442.0,387.8 441.5,386.6 441.1,385.4 440.6,384.3 440.2,383.1 439.7,382.0 439.2,380.9 438.7,379.7 438.2,378.6 437.6,377.5 437.1,376.4 436.6,375.5 436.1,374.7 435.6,373.9 435.1,373.2 434.6,372.6 434.1,372.0 433.5,371.5 432.9,371.0 432.4,370.7 431.8,370.3 431.1,370.0 430.5,369.8 429.8,369.6 429.1,369.4 428.3,369.3 427.4,369.3 426.6,369.3 425.7,369.3 424.9,369.3 424.1,369.3 423.2,369.4 422.4,369.5 421.6,369.6 420.7,369.8 419.9,370.0 419.1,370.3 418.3,370.5 417.4,370.9 416.6,371.2 415.8,371.6 415.0,372.1 414.2,372.6 413.3,373.2 412.5,373.9 411.6,374.6 410.8,375.2 410.0,375.8 409.2,376.3 408.5,376.8 407.8,377.2 407.1,377.7 406.4,378.2 405.6,378.7 404.8,379.3 404.0,379.9 403.1,380.6 402.3,381.2 401.4,381.8 400.6,382.4 399.8,382.9 399.0,383.3 398.2,383.7 397.3,384.1 396.5,384.5 395.7,384.9 394.9,385.3 394.0,385.7 393.2,386.2 392.4,386.6 391.5,387.0 390.7,387.4 389.9,387.8 389.0,388.2 388.2,388.7 387.4,389.1 386.5,389.5 385.7,389.8 384.9,390.1 384.1,390.3 383.2,390.5 382.4,390.7 381.6,390.9 380.8,391.1 380.0,391.3 379.1,391.5 378.3,391.7 377.5,391.9 376.6,392.1 375.8,392.3 375.0,392.4 374.2,392.6 373.3,392.7 372.5,392.8 371.7,392.9 370.9,393.0 370.1,393.1 369.2,393.1 368.4,393.2 367.6,393.2 366.7,393.4 365.9,393.6 365.1,394.0 364.3,394.4 363.4,394.9 362.6,395.5 361.8,396.0 361.0,396.5 360.1,396.9 359.2,397.3 358.3,397.7 357.5,398.1 356.7,398.6 356.0,399.0 355.5,399.4 355.1,399.8 354.9,400.2 354.6,400.7 354.2,401.3 353.7,402.0 353.0,402.9 352.2,403.8 351.3,404.9 350.3,406.0 349.4,407.2 348.5,408.5 347.6,409.9 346.7,411.4 345.9,413.0 345.0,414.6 344.1,416.1 343.2,417.5 342.3,418.8 341.4,420.0 340.5,421.1 339.7,422.2 338.8,423.3 337.9,424.5 337.0,425.7 336.1,427.0 335.3,428.2 334.4,429.5 333.5,430.8 332.6,432.0 331.7,433.3 330.7,434.6 329.7,435.9 328.7,437.1 327.8,438.2 327.0,439.0 326.2,439.5 325.5,439.8 324.8,439.9 324.2,440.0 323.7,440.0 323.3,440.0Z"/></clipPath>
</defs>
<g clip-path="url(#c0)">
<path d="M44.5,56.5 44.6,56.5 44.7,56.4 44.9,56.3 45.1,56.2 45.3,56.2 45.5,56.3 45.7,56.4 45.9,56.6 46.2,56.8 46.4,57.2 46.7,57.6 47.0,58.3 47.3,59.2 47.7,60.3 48.1,61.5 48.5,62.8 48.9,64.3 49.4,65.7 49.9,67.2 50.4,68.8 51.0,70.5 51.6,72.2 52.1,73.9 52.7,75.7 53.3,77.6 53.8,79.6 54.4,81.6 55.0,83.6 55.5,85.4 56.0,87.0 56.5,88.3 56.9,89.5 57.3,90.4 57.7,91.3 58.1,92.2 58.5,93.0 58.8,93.8 59.1,94.5 59.4,95.2 59.7,95.9 60.1,96.5 60.7,97.2 61.4,97.9 62.3,98.7 63.3,99.4 64.3,100.1 65.3,100.7 66.3,101.1 67.2,101.3 68.2,101.4 69.1,101.4 70.0,101.2 71.0,101.0 71.9,100.6 72.8,100.1 73.8,99.4 74.7,98.7 75.6,97.8 76.6,97.0 77.5,96.1 78.4,95.2 79.4,94.3 80.3,93.3 81.2,92.3 82.2,91.4 83.1,90.5 84.0,89.7 84.9,88.9 85.8,88.1 86.8,87.4 87.7,86.7 88.6,86.0 89.6,85.4 90.6,84.8 91.6,84.2 92.6,83.6 93.5,83.1 94.2,82.7 94.6,82.4 94.8,82.2 94.9,82.1 95.0,82.0 95.5,81.6 96.4,80.9 97.9,79.9 99.8,78.6 102.0,77.1 104.3,75.5 106.6,73.8 108.8,72.2 110.9,70.5 112.9,68.8 115.0,67.0 117.1,65.2 119.1,63.4 121.2,61.7 123.3,60.0 125.5,58.3 127.6,56.7 129.7,55.0 131.7,53.4 133.6,51.8 135.3,50.2 136.9,48.6 138.4,47.1 139.8,45.5 141.1,44.0 142.3,42.5 143.3,41.1 144.2,39.7 144.9,38.3 145.6,36.9 146.3,35.5 147.0,34.0 147.8,32.4 148.5,30.6 149.3,28.8 150.1,27.0 150.9,25.4 151.8,23.9 152.8,22.6 153.8,21.4 154.9,20.4 155.9,19.4 156.9,18.7 157.8,18.0 158.6,17.5 159.3,17.1 159.9,16.8 160.5,16.7 161.2,16.8 161.8,17.0 162.5,17.5 163.2,18.2 163.9,19.1 164.6,20.0 165.2,21.0 165.7,22.0 166.1,22.9 166.4,23.8 166.6,24.8 166.8,25.8 167.1,26.8 167.4,28.0 167.8,29.2 168.3,30.6 168.9,32.0 169.4,33.4 170.0,34.9 170.5,36.4 171.0,37.9 171.5,39.5 172.0,41.2 172.5,42.8 173.0,44.6 173.6,46.3 174.2,48.1 174.8,50.0 175.5,52.0 176.1,53.9 176.8,55.8 177.4,57.5 178.0,59.1 178.6,60.7 179.3,62.2 179.9,63.6 180.5,64.9 181.1,66.1 181.7,67.2 182.3,68.1 182.9,69.0 183.5,69.8 184.1,70.5 184.8,71.1 185.5,71.6 186.3,72.1 187.1,72.5 188.0,72.8 188.9,73.1 189.8,73.3 190.2,73.5 190.0,73.6 189.8,73.7 190.3,73.7 192.2,73.8 196.0,73.8 202.8,73.8 212.2,73.9 223.0,73.9 233.8,73.9 243.2,73.9 250.0,73.8 253.9,73.7 255.9,73.6 256.5,73.4 256.4,73.2 256.2,73.1 256.3,73.0 256.3,78.0 256.2,77.7 256.4,77.2 256.5,76.6 255.9,76.0 253.9,75.5 250.0,75.2 243.2,75.0 233.8,74.9 223.0,74.9 212.2,74.9 202.8,74.9 196.0,75.0 192.2,75.1 190.3,75.2 189.8,75.3 190.0,75.4 190.2,75.6 189.8,75.8 188.9,76.0 188.0,76.3 187.1,76.5 186.3,76.8 185.5,77.1 184.8,77.3 184.1,77.5 183.5,77.8 182.9,78.1 182.3,78.3 181.7,78.4 181.1,78.5 180.5,78.5 179.9,78.4 179.3,78.3 178.6,78.1 178.0,77.7 177.4,77.3 176.8,76.7 176.1,76.0 175.5,75.2 174.9,74.3 174.2,73.3 173.6,72.3 173.0,71.2 172.4,70.1 171.8,68.9 171.2,67.6 170.6,66.3 169.9,64.9 169.1,63.3 168.3,61.6 167.4,59.8 166.6,58.1 165.7,56.4 165.0,55.0 164.4,53.8 163.9,52.7 163.4,51.7 162.9,50.8 162.4,50.1 161.8,49.5 161.1,49.0 160.4,48.7 159.6,48.5 158.7,48.4 157.8,48.5 156.8,48.7 155.7,49.1 154.5,49.7 153.3,50.4 152.0,51.2 150.7,52.1 149.5,53.0 148.3,54.0 147.1,55.0 146.0,56.1 144.8,57.3 143.6,58.5 142.3,59.8 141.0,61.2 139.6,62.7 138.3,64.2 136.8,65.8 135.3,67.4 133.6,69.1 131.7,70.8 129.7,72.6 127.6,74.4 125.5,76.2 123.3,78.0 121.2,79.7 119.1,81.3 117.1,82.9 115.0,84.4 112.9,85.9 110.9,87.5 108.8,89.0 106.6,90.6 104.3,92.4 102.0,94.1 99.8,95.7 97.9,97.2 96.4,98.3 95.5,99.1 95.0,99.5 94.9,99.7 94.8,99.9 94.6,100.1 94.2,100.6 93.5,101.3 92.6,102.1 91.6,103.0 90.6,104.0 89.6,105.0 88.6,106.1 87.7,107.2 86.8,108.4 85.8,109.6 84.9,110.9 84.0,112.2 83.1,113.4 82.2,114.6 81.2,115.9 80.3,117.1 79.4,118.3 78.4,119.5 77.5,120.6 76.5,121.7 75.5,122.7 74.5,123.7 73.5,124.7 72.6,125.5 71.9,126.2 71.4,126.7 71.1,127.1 70.8,127.4 70.6,127.6 70.4,127.8 70.0,128.0 69.5,128.2 68.9,128.4 68.2,128.6 67.6,128.8 66.9,128.9 66.3,129.0 65.7,129.0 65.1,129.1 64.6,129.0 64.0,128.9 63.5,128.8 63.0,128.5 62.6,128.2 62.2,127.8 61.8,127.4 61.5,126.8 61.1,126.1 60.7,125.1 60.2,123.8 59.7,122.2 59.1,120.5 58.6,118.6 58.0,116.7 57.5,115.0 57.0,113.3 56.6,111.7 56.2,110.0 55.8,108.4 55.3,106.8 54.9,105.1 54.4,103.4 53.9,101.8 53.5,100.1 53.0,98.4 52.5,96.7 52.0,95.0 51.5,93.2 51.1,91.3 50.6,89.5 50.2,87.6 49.7,86.0 49.3,84.6 48.9,83.5 48.5,82.6 48.1,81.8 47.8,81.2 47.4,80.6 47.0,80.0 46.6,79.4 46.1,78.8 45.6,78.3 45.2,77.9 44.8,77.5 44.5,77.2Z" fill="#d8d8fb"/>
<path d="M44.5,64.0 44.8,64.2 45.2,64.5 45.6,64.8 46.1,65.2 46.6,65.6 47.0,66.0 47.4,66.4 47.8,66.7 48.1,67.0 48.5,67.4 48.9,67.9 49.3,68.5 49.7,69.2 50.2,70.0 50.6,70.8 51.1,71.8 51.5,72.8 52.0,74.0 52.5,75.3 53.0,76.7 53.5,78.2 54.0,79.8 54.5,81.4 55.0,83.0 55.5,84.7 56.0,86.4 56.5,88.2 57.0,89.9 57.5,91.5 58.0,93.0 58.4,94.3 58.8,95.5 59.2,96.6 59.6,97.6 60.1,98.5 60.7,99.4 61.5,100.2 62.4,100.9 63.3,101.6 64.3,102.2 65.3,102.6 66.3,102.8 67.2,102.8 68.2,102.7 69.1,102.4 70.0,102.0 71.0,101.6 71.9,101.1 72.8,100.6 73.8,100.1 74.7,99.5 75.6,98.9 76.6,98.1 77.5,97.2 78.4,96.1 79.4,94.8 80.3,93.3 81.2,91.9 82.2,90.6 83.1,89.4 84.1,88.4 85.1,87.5 86.0,86.8 87.0,86.0 87.9,85.4 88.6,84.9 89.2,84.5 89.6,84.2 89.9,84.0 90.3,83.8 90.6,83.7 91.0,83.5 91.5,83.3 92.0,83.1 92.5,82.9 93.1,82.7 93.6,82.5 94.2,82.3 94.7,82.1 95.2,82.0 95.6,81.8 96.2,81.6 97.0,81.1 98.0,80.5 99.4,79.6 101.0,78.5 102.9,77.2 104.8,75.8 106.8,74.3 108.8,72.8 110.8,71.2 112.8,69.4 114.9,67.6 117.0,65.8 119.1,64.0 121.2,62.3 123.3,60.7 125.5,59.3 127.6,57.8 129.7,56.4 131.7,55.0 133.6,53.6 135.3,52.2 136.9,50.7 138.4,49.3 139.8,47.8 141.1,46.4 142.3,45.0 143.3,43.6 144.2,42.3 144.9,40.9 145.6,39.6 146.3,38.3 147.0,37.0 147.8,35.7 148.6,34.3 149.4,32.9 150.2,31.6 151.0,30.5 151.8,29.5 152.6,28.7 153.4,28.2 154.3,27.7 155.1,27.4 155.9,27.1 156.6,26.8 157.3,26.6 158.0,26.4 158.6,26.3 159.2,26.3 159.8,26.3 160.3,26.3 160.8,26.4 161.3,26.5 161.7,26.7 162.2,26.9 162.6,27.2 163.0,27.5 163.4,27.8 163.8,28.1 164.2,28.4 164.6,28.8 165.0,29.3 165.5,30.0 166.0,30.9 166.5,31.9 167.0,33.0 167.6,34.2 168.1,35.6 168.7,37.0 169.3,38.6 169.9,40.2 170.5,42.0 171.1,43.9 171.8,45.8 172.4,47.6 173.0,49.4 173.6,51.4 174.2,53.3 174.9,55.2 175.5,57.0 176.1,58.7 176.7,60.3 177.3,61.9 177.9,63.4 178.5,64.8 179.1,66.2 179.8,67.4 180.6,68.6 181.4,69.7 182.2,70.7 183.1,71.6 183.9,72.4 184.8,73.0 184.9,73.4 184.3,73.7 183.6,73.8 183.7,73.9 185.6,73.9 190.0,74.0 198.3,74.1 210.0,74.1 223.5,74.1 236.8,74.0 248.4,74.0 256.3,74.0 256.3,75.0 248.4,75.0 236.8,75.1 223.5,75.2 210.0,75.3 198.3,75.4 190.0,75.5 185.6,75.7 183.7,75.9 183.6,76.1 184.3,76.3 184.9,76.5 184.8,76.7 183.9,76.9 183.1,77.1 182.2,77.2 181.4,77.4 180.6,77.4 179.8,77.3 179.1,77.1 178.5,76.8 177.9,76.4 177.3,75.9 176.7,75.4 176.1,74.8 175.5,74.2 174.9,73.5 174.2,72.7 173.6,71.9 173.0,71.0 172.4,69.9 171.8,68.7 171.2,67.3 170.5,65.8 169.9,64.2 169.3,62.7 168.7,61.2 168.1,59.8 167.5,58.3 166.9,56.9 166.3,55.5 165.7,54.2 165.0,53.1 164.3,52.1 163.5,51.2 162.7,50.3 161.8,49.6 160.8,49.1 159.8,48.7 158.6,48.5 157.4,48.4 156.1,48.4 154.7,48.7 153.3,49.1 151.8,49.7 150.3,50.6 148.7,51.7 147.1,53.0 145.5,54.4 143.9,55.9 142.3,57.4 140.8,58.9 139.5,60.5 138.1,62.2 136.7,63.9 135.3,65.6 133.6,67.3 131.7,69.0 129.7,70.8 127.6,72.6 125.5,74.4 123.3,76.1 121.2,77.8 119.1,79.4 117.1,81.0 115.0,82.6 112.9,84.1 110.9,85.6 108.8,87.1 106.6,88.7 104.3,90.4 102.0,92.0 99.8,93.5 97.9,94.8 96.4,95.8 95.5,96.3 95.0,96.3 94.9,96.1 94.8,95.9 94.6,95.8 94.2,96.1 93.5,96.7 92.6,97.5 91.6,98.5 90.6,99.6 89.6,100.6 88.6,101.7 87.7,102.8 86.8,103.9 85.8,105.0 84.9,106.1 84.0,107.3 83.1,108.4 82.2,109.5 81.2,110.7 80.3,111.9 79.4,113.0 78.4,114.1 77.5,115.1 76.6,116.0 75.6,116.9 74.7,117.7 73.8,118.4 72.8,119.0 71.9,119.5 71.0,119.8 70.0,120.1 69.1,120.2 68.2,120.2 67.2,120.2 66.3,120.1 65.3,120.1 64.3,120.0 63.3,119.9 62.4,119.7 61.5,119.2 60.7,118.4 60.1,117.2 59.6,115.6 59.2,113.8 58.8,111.8 58.4,109.9 58.0,108.0 57.5,106.2 57.0,104.4 56.5,102.5 56.0,100.7 55.5,98.8 55.0,97.0 54.5,95.1 54.0,93.2 53.5,91.3 53.0,89.4 52.5,87.7 52.0,86.0 51.5,84.4 51.1,82.9 50.6,81.5 50.2,80.2 49.7,79.0 49.3,78.0 48.9,77.2 48.5,76.5 48.1,76.0 47.8,75.6 47.4,75.3 47.0,75.0 46.6,74.8 46.1,74.6 45.6,74.5 45.2,74.5 44.8,74.4 44.5,74.4Z" fill="#ffd5d6"/>
<g clip-path="url(#bb0)"><path d="M44.5,64.0 44.8,64.2 45.2,64.5 45.6,64.8 46.1,65.2 46.6,65.6 47.0,66.0 47.4,66.4 47.8,66.7 48.1,67.0 48.5,67.4 48.9,67.9 49.3,68.5 49.7,69.2 50.2,70.0 50.6,70.8 51.1,71.8 51.5,72.8 52.0,74.0 52.5,75.3 53.0,76.7 53.5,78.2 54.0,79.8 54.5,81.4 55.0,83.0 55.5,84.7 56.0,86.4 56.5,88.2 57.0,89.9 57.5,91.5 58.0,93.0 58.4,94.3 58.8,95.5 59.2,96.6 59.6,97.6 60.1,98.5 60.7,99.4 61.5,100.2 62.4,100.9 63.3,101.6 64.3,102.2 65.3,102.6 66.3,102.8 67.2,102.8 68.2,102.7 69.1,102.4 70.0,102.0 71.0,101.6 71.9,101.1 72.8,100.6 73.8,100.1 74.7,99.5 75.6,98.9 76.6,98.1 77.5,97.2 78.4,96.1 79.4,94.8 80.3,93.3 81.2,91.9 82.2,90.6 83.1,89.4 84.1,88.4 85.1,87.5 86.0,86.8 87.0,86.0 87.9,85.4 88.6,84.9 89.2,84.5 89.6,84.2 89.9,84.0 90.3,83.8 90.6,83.7 91.0,83.5 91.5,83.3 92.0,83.1 92.5,82.9 93.1,82.7 93.6,82.5 94.2,82.3 94.7,82.1 95.2,82.0 95.6,81.8 96.2,81.6 97.0,81.1 98.0,80.5 99.4,79.6 101.0,78.5 102.9,77.2 104.8,75.8 106.8,74.3 108.8,72.8 110.8,71.2 112.8,69.4 114.9,67.6 117.0,65.8 119.1,64.0 121.2,62.3 123.3,60.7 125.5,59.3 127.6,57.8 129.7,56.4 131.7,55.0 133.6,53.6 135.3,52.2 136.9,50.7 138.4,49.3 139.8,47.8 141.1,46.4 142.3,45.0 143.3,43.6 144.2,42.3 144.9,40.9 145.6,39.6 146.3,38.3 147.0,37.0 147.8,35.7 148.6,34.3 149.4,32.9 150.2,31.6 151.0,30.5 151.8,29.5 152.6,28.7 153.4,28.2 154.3,27.7 155.1,27.4 155.9,27.1 156.6,26.8 157.3,26.6 158.0,26.4 158.6,26.3 159.2,26.3 159.8,26.3 160.3,26.3 160.8,26.4 161.3,26.5 161.7,26.7 162.2,26.9 162.6,27.2 163.0,27.5 163.4,27.8 163.8,28.1 164.2,28.4 164.6,28.8 165.0,29.3 165.5,30.0 166.0,30.9 166.5,31.9 167.0,33.0 167.6,34.2 168.1,35.6 168.7,37.0 169.3,38.6 169.9,40.2 170.5,42.0 171.1,43.9 171.8,45.8 172.4,47.6 173.0,49.4 173.6,51.4 174.2,53.3 174.9,55.2 175.5,57.0 176.1,58.7 176.7,60.3 177.3,61.9 177.9,63.4 178.5,64.8 179.1,66.2 179.8,67.4 180.6,68.6 181.4,69.7 182.2,70.7 183.1,71.6 183.9,72.4 184.8,73.0 184.9,73.4 184.3,73.7 183.6,73.8 183.7,73.9 185.6,73.9 190.0,74.0 198.3,74.1 210.0,74.1 223.5,74.1 236.8,74.0 248.4,74.0 256.3,74.0 256.3,75.0 248.4,75.0 236.8,75.1 223.5,75.2 210.0,75.3 198.3,75.4 190.0,75.5 185.6,75.7 183.7,75.9 183.6,76.1 184.3,76.3 184.9,76.5 184.8,76.7 183.9,76.9 183.1,77.1 182.2,77.2 181.4,77.4 180.6,77.4 179.8,77.3 179.1,77.1 178.5,76.8 177.9,76.4 177.3,75.9 176.7,75.4 176.1,74.8 175.5,74.2 174.9,73.5 174.2,72.7 173.6,71.9 173.0,71.0 172.4,69.9 171.8,68.7 171.2,67.3 170.5,65.8 169.9,64.2 169.3,62.7 168.7,61.2 168.1,59.8 167.5,58.3 166.9,56.9 166.3,55.5 165.7,54.2 165.0,53.1 164.3,52.1 163.5,51.2 162.7,50.3 161.8,49.6 160.8,49.1 159.8,48.7 158.6,48.5 157.4,48.4 156.1,48.4 154.7,48.7 153.3,49.1 151.8,49.7 150.3,50.6 148.7,51.7 147.1,53.0 145.5,54.4 143.9,55.9 142.3,57.4 140.8,58.9 139.5,60.5 138.1,62.2 136.7,63.9 135.3,65.6 133.6,67.3 131.7,69.0 129.7,70.8 127.6,72.6 125.5,74.4 123.3,76.1 121.2,77.8 119.1,79.4 117.1,81.0 115.0,82.6 112.9,84.1 110.9,85.6 108.8,87.1 106.6,88.7 104.3,90.4 102.0,92.0 99.8,93.5 97.9,94.8 96.4,95.8 95.5,96.3 95.0,96.3 94.9,96.1 94.8,95.9 94.6,95.8 94.2,96.1 93.5,96.7 92.6,97.5 91.6,98.5 90.6,99.6 89.6,100.6 88.6,101.7 87.7,102.8 86.8,103.9 85.8,105.0 84.9,106.1 84.0,107.3 83.1,108.4 82.2,109.5 81.2,110.7 80.3,111.9 79.4,113.0 78.4,114.1 77.5,115.1 76.6,116.0 75.6,116.9 74.7,117.7 73.8,118.4 72.8,119.0 71.9,119.5 71.0,119.8 70.0,120.1 69.1,120.2 68.2,120.2 67.2,120.2 66.3,120.1 65.3,120.1 64.3,120.0 63.3,119.9 62.4,119.7 61.5,119.2 60.7,118.4 60.1,117.2 59.6,115.6 59.2,113.8 58.8,111.8 58.4,109.9 58.0,108.0 57.5,106.2 57.0,104.4 56.5,102.5 56.0,100.7 55.5,98.8 55.0,97.0 54.5,95.1 54.0,93.2 53.5,91.3 53.0,89.4 52.5,87.7 52.0,86.0 51.5,84.4 51.1,82.9 50.6,81.5 50.2,80.2 49.7,79.0 49.3,78.0 48.9,77.2 48.5,76.5 48.1,76.0 47.8,75.6 47.4,75.3 47.0,75.0 46.6,74.8 46.1,74.6 45.6,74.5 45.2,74.5 44.8,74.4 44.5,74.4Z" fill="#e9b8d9"/></g>
<path d="M85.15,16.00V128.30M127.94,16.00V128.30M170.72,16.00V128.30M213.51,16.00V128.30M256.30,16.00V128.30M44.50,35.50H256.30M44.50,74.50H256.30M44.50,113.40H256.30" stroke="rgba(0,0,0,0.075)" stroke-width="1" fill="none"/>
<path d="M44.5,68.2 44.7,67.9 45.0,67.3 45.3,66.7 45.7,66.2 46.1,65.8 46.5,65.7 46.9,65.9 47.3,66.4 47.7,67.0 48.2,67.8 48.6,68.6 49.0,69.5 49.4,70.5 49.7,71.5 50.0,72.7 50.4,73.9 50.7,75.2 51.1,76.5 51.5,77.9 51.9,79.4 52.4,81.0 52.8,82.6 53.2,84.1 53.6,85.6 54.0,87.0 54.3,88.3 54.6,89.6 54.9,90.9 55.2,92.3 55.6,93.8 56.0,95.5 56.4,97.4 56.8,99.3 57.2,101.2 57.6,103.0 58.0,104.5 58.4,105.7 58.7,106.8 59.0,107.6 59.3,108.4 59.6,109.1 60.0,109.8 60.4,110.4 60.7,111.0 61.1,111.5 61.5,112.0 62.0,112.4 62.4,112.8 62.9,113.2 63.4,113.5 63.9,113.8 64.4,114.1 64.9,114.3 65.4,114.5 65.9,114.6 66.4,114.6 66.9,114.6 67.4,114.5 67.9,114.4 68.4,114.3 68.9,114.1 69.4,113.9 69.9,113.7 70.4,113.5 70.9,113.2 71.4,112.9 71.9,112.6 72.4,112.3 72.9,112.0 73.3,111.6 73.8,111.3 74.3,110.9 74.8,110.5 75.3,110.1 75.8,109.7 76.3,109.3 76.8,108.8 77.3,108.4 77.8,108.0 78.2,107.6 78.7,107.2 79.2,106.7 79.6,106.3 80.0,105.9 80.4,105.5 80.7,105.1 81.0,104.7 81.3,104.2 81.6,103.8 82.0,103.3 82.4,102.8 82.9,102.2 83.4,101.6 84.0,101.0 84.5,100.4 85.0,99.8 85.5,99.2 86.0,98.6 86.5,98.1 86.9,97.5 87.4,96.9 87.9,96.4 88.4,95.9 88.9,95.4 89.4,94.9 89.9,94.4 90.4,93.9 90.9,93.4 91.4,92.9 91.9,92.5 92.4,92.0 92.9,91.6 93.4,91.1 93.9,90.7 94.4,90.3 94.9,89.8 95.4,89.4 95.9,89.0 96.4,88.6 96.9,88.2 97.4,87.8 97.9,87.5 98.4,87.2 98.8,86.8 99.3,86.5 99.8,86.2 100.2,85.9 100.6,85.7 101.0,85.4 101.5,85.1 102.1,84.7 102.8,84.2 103.7,83.5 104.9,82.7 106.1,81.8 107.4,80.8 108.6,79.9 109.7,79.0 110.7,78.2 111.6,77.4 112.4,76.7 113.2,75.9 114.1,75.2 114.9,74.5 115.8,73.8 116.6,73.1 117.5,72.5 118.4,71.8 119.2,71.1 120.1,70.4 121.0,69.6 121.9,68.8 122.7,68.0 123.6,67.2 124.5,66.4 125.3,65.6 126.1,64.8 126.9,64.1 127.6,63.3 128.3,62.6 129.1,61.8 129.8,61.1 130.6,60.3 131.3,59.6 132.1,58.8 132.9,58.1 133.6,57.4 134.2,56.7 134.7,56.2 135.2,55.7 135.6,55.3 136.0,54.9 136.4,54.4 137.0,53.7 137.7,52.9 138.5,51.9 139.3,50.9 140.2,49.8 141.1,48.7 141.9,47.7 142.7,46.7 143.6,45.7 144.4,44.8 145.2,43.8 146.1,42.8 146.9,41.8 147.7,40.8 148.6,39.7 149.4,38.6 150.2,37.6 151.0,36.6 151.8,35.8 152.5,35.1 153.3,34.6 154.0,34.2 154.6,33.8 155.2,33.5 155.8,33.2 156.3,33.0 156.8,32.8 157.2,32.7 157.6,32.6 157.9,32.5 158.3,32.4 158.7,32.3 159.0,32.3 159.3,32.2 159.7,32.2 160.0,32.2 160.3,32.2 160.6,32.3 160.9,32.4 161.3,32.5 161.6,32.6 161.9,32.8 162.2,33.0 162.5,33.2 162.7,33.4 163.0,33.7 163.2,34.0 163.5,34.3 163.9,34.8 164.3,35.3 164.8,36.0 165.4,36.6 165.9,37.4 166.5,38.2 167.0,39.0 167.5,39.9 168.1,40.8 168.7,41.9 169.3,42.9 169.8,43.9 170.3,44.8 170.8,45.7 171.2,46.5 171.6,47.3 172.0,48.2 172.4,48.9 172.8,49.7 173.2,50.4 173.5,51.1 173.8,51.8 174.1,52.5 174.5,53.2 174.8,53.9 175.1,54.7 175.5,55.5 175.8,56.3 176.2,57.1 176.5,58.0 176.9,58.8 177.2,59.6 177.6,60.5 177.9,61.3 178.3,62.2 178.6,63.0 179.0,63.8 179.4,64.5 179.8,65.3 180.2,66.0 180.6,66.6 181.1,67.3 181.5,67.9 181.9,68.5 182.4,69.1 182.9,69.7 183.3,70.3 183.8,70.8 184.4,71.3 185.0,71.8 185.7,72.2 186.4,72.6 187.1,73.0 187.8,73.3 188.5,73.6 189.1,73.8 189.7,73.9 190.3,74.0 190.8,74.0 191.4,74.1 192.0,74.1 192.1,74.2 191.5,74.2 190.9,74.2 191.0,74.3 192.4,74.3 196.0,74.3 202.7,74.3 212.1,74.2 223.0,74.2 233.8,74.2 243.2,74.2 249.8,74.2 253.2,74.3 254.5,74.5 254.4,74.7 253.6,74.9 252.7,75.1 252.5,75.3 252.9,75.5 253.2,75.7 253.5,75.9 253.8,76.1 254.1,76.2 254.4,76.3 254.7,76.3 255.1,76.3 255.5,76.3 255.8,76.3 256.1,76.2 256.3,76.2" stroke="#0000ff" stroke-width="2.6" fill="none" stroke-linejoin="round"/>
<path d="M44.5,69.2 44.8,69.4 45.2,69.6 45.6,69.9 46.1,70.2 46.6,70.5 47.0,70.7 47.4,70.8 47.7,70.8 48.1,70.7 48.4,70.7 48.7,70.8 49.0,71.1 49.3,71.6 49.6,72.2 49.8,73.0 50.1,73.8 50.4,74.7 50.7,75.7 51.1,76.8 51.5,77.9 51.9,79.2 52.3,80.5 52.8,81.8 53.2,83.1 53.6,84.5 54.1,85.9 54.5,87.3 55.0,88.7 55.4,90.1 55.8,91.4 56.2,92.6 56.6,93.8 57.0,94.9 57.4,96.0 57.8,97.0 58.1,98.0 58.4,98.9 58.6,99.8 58.9,100.5 59.1,101.3 59.3,102.1 59.6,102.9 59.9,103.8 60.2,104.6 60.5,105.5 60.9,106.4 61.2,107.2 61.6,107.9 62.0,108.5 62.4,109.1 62.8,109.6 63.2,110.1 63.6,110.5 64.0,110.9 64.4,111.3 64.8,111.6 65.2,111.8 65.6,112.0 66.1,112.2 66.5,112.4 66.9,112.5 67.4,112.6 67.8,112.7 68.3,112.7 68.7,112.7 69.2,112.7 69.7,112.6 70.2,112.5 70.7,112.4 71.1,112.2 71.6,112.0 72.1,111.7 72.6,111.4 73.0,111.1 73.4,110.7 73.9,110.3 74.3,109.9 74.8,109.4 75.3,108.9 75.8,108.3 76.3,107.7 76.8,107.1 77.3,106.5 77.8,105.9 78.3,105.3 78.7,104.7 79.2,104.1 79.6,103.5 80.1,102.9 80.5,102.3 80.9,101.7 81.3,101.0 81.7,100.3 82.1,99.6 82.6,99.0 83.0,98.3 83.5,97.6 84.0,97.0 84.5,96.3 85.0,95.6 85.5,95.0 86.0,94.4 86.5,93.8 87.0,93.3 87.5,92.8 87.9,92.3 88.4,91.8 88.9,91.4 89.4,91.1 89.9,90.8 90.4,90.5 90.9,90.3 91.4,90.1 91.9,89.9 92.4,89.7 92.9,89.5 93.4,89.3 93.9,89.1 94.4,88.9 94.9,88.7 95.4,88.4 95.9,88.2 96.4,87.9 96.8,87.6 97.3,87.2 97.8,86.9 98.3,86.6 98.8,86.2 99.3,85.8 99.8,85.4 100.3,85.1 100.8,84.7 101.2,84.4 101.6,84.1 102.0,83.8 102.4,83.5 102.8,83.1 103.3,82.7 103.9,82.2 104.5,81.6 105.2,81.0 105.9,80.4 106.6,79.7 107.4,79.0 108.2,78.3 109.0,77.6 109.9,76.8 110.8,76.0 111.7,75.3 112.6,74.5 113.6,73.7 114.5,73.0 115.5,72.2 116.6,71.5 117.6,70.7 118.6,70.0 119.6,69.3 120.6,68.6 121.6,67.9 122.7,67.3 123.6,66.6 124.6,66.0 125.5,65.4 126.4,64.8 127.3,64.2 128.2,63.6 129.0,63.0 129.8,62.4 130.6,61.8 131.4,61.2 132.2,60.6 132.9,60.0 133.6,59.5 134.2,58.9 134.7,58.4 135.2,57.9 135.6,57.4 136.0,56.9 136.4,56.4 137.0,55.7 137.7,54.9 138.5,54.1 139.3,53.1 140.2,52.1 141.1,51.2 141.9,50.2 142.7,49.2 143.6,48.2 144.5,47.3 145.3,46.3 146.1,45.3 146.9,44.3 147.6,43.3 148.3,42.3 149.0,41.3 149.6,40.4 150.2,39.5 150.8,38.8 151.3,38.2 151.8,37.8 152.3,37.5 152.8,37.2 153.3,37.0 153.8,36.8 154.4,36.6 155.1,36.5 155.7,36.4 156.4,36.4 157.1,36.4 157.8,36.5 158.5,36.6 159.2,36.8 159.9,37.0 160.7,37.2 161.3,37.4 162.0,37.7 162.6,38.0 163.2,38.3 163.7,38.6 164.2,38.9 164.8,39.3 165.3,39.8 165.9,40.4 166.4,41.0 167.0,41.7 167.6,42.5 168.1,43.2 168.6,43.9 169.1,44.6 169.5,45.3 169.9,46.0 170.3,46.7 170.7,47.4 171.1,48.1 171.5,48.8 171.9,49.4 172.4,50.1 172.8,50.8 173.2,51.5 173.6,52.2 174.0,53.0 174.3,53.8 174.7,54.6 175.0,55.5 175.4,56.4 175.7,57.2 176.0,58.0 176.4,58.9 176.7,59.7 177.0,60.5 177.4,61.3 177.7,62.1 178.0,62.9 178.4,63.6 178.7,64.3 179.1,65.0 179.4,65.7 179.8,66.3 180.2,66.9 180.6,67.5 181.0,68.1 181.4,68.6 181.9,69.1 182.3,69.6 182.8,70.1 183.2,70.5 183.7,70.9 184.2,71.3 184.7,71.7 185.2,72.1 185.7,72.5 186.3,72.8 186.8,73.2 187.4,73.5 187.9,73.8 188.5,74.0 189.1,74.2 189.6,74.3 190.2,74.4 190.8,74.4 191.4,74.5 192.0,74.5 192.0,74.6 191.2,74.6 190.5,74.6 190.5,74.7 192.1,74.7 196.0,74.7 203.5,74.7 214.2,74.7 226.4,74.7 238.6,74.7 249.1,74.7 256.3,74.7" stroke="#ff0000" stroke-width="1.8" fill="none" stroke-linejoin="round"/>
</g>
<path d="M44.50,16.00V128.30H256.30" stroke="#858585" stroke-width="1" fill="none"/>
<path d="M85.15,128.30V126.30M127.94,128.30V126.30M170.72,128.30V126.30M213.51,128.30V126.30M256.30,128.30V126.30M44.50,35.50H46.50M44.50,74.50H46.50M44.50,113.40H46.50" stroke="#858585" stroke-width="1" fill="none"/>
<text x="85.15" y="144.20" font-size="10.5" text-anchor="middle">20</text>
<text x="127.94" y="144.20" font-size="10.5" text-anchor="middle">40</text>
<text x="170.72" y="144.20" font-size="10.5" text-anchor="middle">60</text>
<text x="213.51" y="144.20" font-size="10.5" text-anchor="middle">80</text>
<text x="256.30" y="144.20" font-size="10.5" text-anchor="middle">100</text>
<text x="39.60" y="40.10" font-size="10.5" text-anchor="end">0.1</text>
<text x="39.60" y="79.10" font-size="10.5" text-anchor="end">0</text>
<text x="39.60" y="118.00" font-size="10.5" text-anchor="end"><tspan font-size="12">−</tspan><tspan dx="1.1">0.1</tspan></text>
<text x="150.40" y="13.30" font-size="11" font-weight="bold" text-anchor="middle">GRF anterior-posterior</text>
<text transform="translate(10.10,72.15) rotate(-90)" font-size="11.1" text-anchor="middle">BW</text>
<g clip-path="url(#c1)">
<path d="M323.3,50.0 323.6,49.7 324.1,49.3 324.6,48.7 325.2,48.2 325.8,47.7 326.4,47.3 326.9,47.0 327.5,46.7 328.0,46.4 328.5,46.2 329.1,46.0 329.6,45.9 330.1,45.9 330.6,46.0 331.1,46.1 331.6,46.3 332.2,46.5 332.9,46.7 333.7,47.0 334.6,47.3 335.5,47.6 336.5,48.0 337.5,48.2 338.4,48.4 339.3,48.4 340.2,48.4 341.1,48.3 342.0,48.1 342.9,48.0 343.8,47.8 344.7,47.6 345.6,47.5 346.6,47.3 347.5,47.1 348.4,46.9 349.3,46.7 350.2,46.6 351.1,46.4 352.0,46.3 352.9,46.2 353.8,46.1 354.7,45.9 355.6,45.7 356.5,45.5 357.4,45.3 358.4,45.0 359.3,44.8 360.2,44.5 361.1,44.2 362.0,43.9 363.0,43.6 363.9,43.3 364.8,42.9 365.6,42.6 366.4,42.3 367.1,42.1 367.8,41.9 368.5,41.6 369.2,41.2 370.0,40.6 370.9,39.8 371.8,38.9 372.7,37.9 373.6,36.8 374.6,35.7 375.5,34.7 376.4,33.7 377.3,32.8 378.2,31.8 379.1,30.9 380.0,30.1 380.9,29.3 381.8,28.6 382.7,28.0 383.6,27.4 384.6,26.9 385.5,26.5 386.4,26.0 387.3,25.6 388.2,25.1 389.2,24.8 390.1,24.4 391.0,24.1 391.8,23.8 392.6,23.5 393.4,23.3 394.1,23.1 394.9,22.9 395.5,22.8 396.2,22.7 396.8,22.7 397.4,22.7 397.9,22.8 398.4,23.0 399.0,23.1 399.5,23.3 400.0,23.5 400.6,23.7 401.1,24.0 401.6,24.3 402.2,24.6 402.7,24.9 403.2,25.2 403.7,25.4 404.2,25.6 404.7,25.9 405.3,26.4 406.0,27.1 406.8,28.1 407.7,29.4 408.7,30.8 409.7,32.3 410.6,33.6 411.5,34.7 412.3,35.5 413.1,36.1 413.8,36.6 414.5,37.0 415.2,37.4 415.8,37.8 416.4,38.3 416.9,38.8 417.4,39.2 417.9,39.7 418.4,40.1 419.1,40.5 419.9,40.9 420.7,41.3 421.6,41.7 422.5,42.0 423.5,42.3 424.5,42.6 425.5,42.8 426.6,43.1 427.7,43.3 428.8,43.4 429.9,43.5 430.9,43.5 431.9,43.4 432.8,43.1 433.7,42.7 434.6,42.4 435.5,42.0 436.4,41.8 437.3,41.6 438.2,41.5 439.1,41.4 440.0,41.3 440.9,41.3 441.8,41.3 442.7,41.4 443.6,41.5 444.6,41.7 445.5,41.9 446.4,42.1 447.3,42.4 448.2,42.7 449.1,43.0 450.0,43.3 450.9,43.7 451.8,44.1 452.7,44.5 453.6,45.0 454.5,45.6 455.4,46.1 456.4,46.7 457.3,47.3 458.2,47.8 459.1,48.2 460.0,48.7 460.9,49.0 461.8,49.4 462.7,49.7 463.6,50.0 464.4,50.3 465.2,50.5 466.0,50.7 466.9,50.8 467.9,51.0 469.1,51.1 470.1,51.2 470.7,51.3 471.4,51.4 472.9,51.5 475.5,51.5 480.0,51.6 487.3,51.7 497.2,51.7 508.4,51.7 519.4,51.8 528.9,51.8 535.4,51.8 535.4,55.5 528.4,55.6 518.2,55.7 506.4,55.8 494.4,56.0 483.8,56.1 476.0,56.3 471.3,56.4 468.6,56.6 467.3,56.8 466.7,56.9 466.2,57.1 465.3,57.3 464.1,57.5 463.1,57.7 462.3,57.9 461.5,58.2 460.8,58.5 460.1,58.8 459.4,59.1 458.7,59.5 458.0,59.9 457.3,60.3 456.7,60.8 456.0,61.4 455.3,62.1 454.6,62.9 453.9,63.7 453.2,64.6 452.5,65.6 451.8,66.6 451.1,67.7 450.4,68.8 449.7,70.0 449.1,71.2 448.4,72.5 447.7,73.8 447.0,75.1 446.3,76.5 445.7,78.0 445.0,79.4 444.3,80.8 443.6,82.1 442.9,83.3 442.2,84.5 441.5,85.7 440.8,86.8 440.1,88.0 439.4,89.3 438.7,90.6 438.1,92.0 437.4,93.3 436.7,94.8 436.0,96.3 435.3,98.0 434.5,99.9 433.7,102.1 432.9,104.4 432.1,106.6 431.3,108.7 430.4,110.4 429.5,111.8 428.6,113.0 427.7,114.0 426.7,114.8 425.8,115.5 425.0,116.0 424.2,116.3 423.5,116.4 422.9,116.3 422.2,116.1 421.5,115.9 420.8,115.5 420.0,115.1 419.2,114.5 418.4,113.8 417.6,113.1 416.8,112.3 416.0,111.6 415.2,110.8 414.4,110.0 413.6,109.2 412.8,108.3 412.0,107.5 411.2,106.8 410.4,106.1 409.6,105.5 408.8,104.9 408.0,104.4 407.2,104.0 406.4,103.6 405.6,103.3 404.8,103.2 404.1,103.1 403.3,103.0 402.5,103.0 401.6,102.9 400.7,102.8 399.7,102.6 398.7,102.5 397.6,102.4 396.6,102.3 395.6,102.2 394.6,102.2 393.6,102.2 392.5,102.3 391.5,102.4 390.5,102.5 389.6,102.6 388.7,102.7 387.9,102.9 387.1,103.0 386.4,103.2 385.6,103.5 384.8,103.8 384.0,104.2 383.2,104.7 382.4,105.2 381.6,105.7 380.8,106.3 380.0,106.8 379.2,107.3 378.3,107.8 377.4,108.3 376.5,108.8 375.6,109.3 374.8,109.8 374.0,110.2 373.2,110.7 372.4,111.1 371.6,111.5 370.8,111.9 370.0,112.2 369.2,112.5 368.4,112.7 367.6,113.0 366.8,113.2 366.0,113.3 365.2,113.4 364.4,113.5 363.6,113.5 362.8,113.4 362.0,113.3 361.2,113.2 360.4,113.0 359.6,112.7 358.8,112.4 358.1,111.9 357.3,111.5 356.6,111.0 356.0,110.5 355.4,110.0 355.0,109.5 354.5,108.9 354.1,108.3 353.7,107.7 353.2,107.0 352.6,106.3 352.1,105.4 351.5,104.6 350.8,103.7 350.2,102.8 349.6,102.0 349.0,101.2 348.4,100.3 347.9,99.5 347.3,98.7 346.7,97.9 346.0,97.2 345.3,96.6 344.5,96.0 343.7,95.5 342.8,95.0 342.0,94.4 341.2,93.6 340.4,92.6 339.6,91.5 338.8,90.2 338.0,88.9 337.2,87.6 336.4,86.4 335.6,85.2 334.8,84.0 333.9,82.8 333.1,81.6 332.3,80.4 331.6,79.2 330.9,78.0 330.4,76.9 329.8,75.8 329.2,74.6 328.6,73.4 328.0,72.0 327.2,70.4 326.3,68.5 325.4,66.5 324.6,64.7 323.8,63.1 323.3,62.0Z" fill="#d8d8fb"/>
<path d="M323.3,50.0 323.6,50.0 324.0,50.0 324.4,50.0 325.0,50.1 325.7,50.2 326.4,50.5 327.3,51.0 328.4,51.6 329.5,52.3 330.7,53.0 331.8,53.8 332.9,54.4 333.9,55.0 334.8,55.5 335.7,56.0 336.6,56.6 337.5,57.1 338.4,57.6 339.3,58.2 340.2,58.7 341.1,59.3 342.0,59.9 342.9,60.4 343.8,60.9 344.7,61.4 345.6,61.8 346.6,62.3 347.5,62.7 348.4,62.9 349.3,63.1 350.2,63.1 351.1,63.1 352.0,63.0 352.9,62.7 353.8,62.4 354.7,62.0 355.6,61.5 356.6,60.9 357.6,60.1 358.5,59.3 359.4,58.5 360.2,57.6 360.9,56.6 361.5,55.6 362.1,54.4 362.6,53.3 363.0,52.1 363.5,51.1 363.9,50.1 364.2,49.1 364.6,48.2 364.9,47.3 365.2,46.4 365.6,45.6 366.1,44.9 366.5,44.2 367.0,43.6 367.6,43.0 368.2,42.4 368.9,41.6 369.7,40.7 370.6,39.7 371.5,38.6 372.5,37.6 373.5,36.5 374.4,35.5 375.3,34.5 376.2,33.6 377.1,32.6 378.1,31.7 379.0,30.9 380.0,30.0 381.0,29.2 382.1,28.4 383.2,27.7 384.3,27.0 385.4,26.3 386.4,25.5 387.4,24.7 388.3,23.8 389.2,23.0 390.0,22.1 390.9,21.3 391.8,20.5 392.7,19.7 393.7,18.9 394.7,18.2 395.6,17.5 396.5,17.0 397.3,16.7 398.0,16.6 398.5,16.7 399.1,17.0 399.5,17.3 400.0,17.8 400.5,18.4 401.0,19.1 401.5,20.0 402.0,21.0 402.5,22.1 403.0,23.1 403.5,24.0 403.9,24.8 404.3,25.6 404.7,26.3 405.1,27.1 405.5,27.8 406.0,28.5 406.5,29.2 407.0,30.0 407.5,30.7 408.1,31.4 408.7,32.1 409.3,32.8 410.0,33.5 410.7,34.3 411.5,35.1 412.2,35.9 412.9,36.5 413.6,37.0 414.2,37.3 414.8,37.5 415.3,37.5 415.9,37.6 416.4,37.5 416.9,37.5 417.4,37.5 417.9,37.4 418.3,37.3 418.8,37.2 419.3,37.0 420.0,36.9 420.8,36.7 421.7,36.5 422.7,36.2 423.7,36.0 424.7,35.8 425.5,35.8 426.2,35.9 426.8,36.1 427.3,36.3 427.8,36.6 428.3,37.0 428.7,37.5 429.1,38.1 429.5,38.7 429.8,39.5 430.1,40.3 430.5,41.0 430.9,41.8 431.4,42.5 431.9,43.3 432.4,44.0 433.0,44.7 433.6,45.5 434.2,46.2 434.8,47.0 435.5,47.7 436.2,48.5 436.9,49.3 437.7,49.9 438.5,50.5 439.3,50.9 440.2,51.3 441.2,51.6 442.1,51.8 443.1,52.0 444.0,52.2 444.9,52.4 445.8,52.5 446.8,52.5 447.7,52.6 448.6,52.6 449.5,52.7 449.5,52.8 448.6,52.9 447.6,53.0 447.6,53.0 449.7,53.1 455.0,53.2 465.0,53.3 479.2,53.3 495.5,53.4 511.8,53.4 525.8,53.5 535.4,53.5 535.4,55.0 527.6,55.0 516.4,55.0 503.3,55.0 490.1,54.9 478.5,55.0 470.0,55.0 465.1,55.1 462.3,55.2 461.2,55.3 460.8,55.4 460.7,55.6 460.0,55.8 459.0,56.0 458.2,56.3 457.6,56.6 457.0,57.0 456.5,57.4 456.0,57.8 455.4,58.3 454.9,58.8 454.5,59.3 454.0,59.9 453.5,60.6 452.9,61.4 452.3,62.3 451.6,63.2 450.9,64.3 450.1,65.4 449.4,66.5 448.7,67.6 448.0,68.8 447.3,70.0 446.6,71.2 446.0,72.4 445.3,73.7 444.6,74.9 443.9,76.1 443.2,77.3 442.6,78.5 441.9,79.7 441.2,80.9 440.5,82.1 439.8,83.3 439.1,84.4 438.4,85.6 437.7,86.8 437.0,88.0 436.3,89.3 435.6,90.7 434.9,92.1 434.2,93.5 433.6,95.0 432.9,96.5 432.2,98.0 431.5,99.5 430.8,101.1 430.1,102.6 429.4,104.1 428.7,105.6 428.0,107.0 427.4,108.3 426.8,109.7 426.2,111.0 425.6,112.1 425.0,113.2 424.4,114.0 423.8,114.7 423.2,115.2 422.7,115.5 422.1,115.7 421.5,115.8 420.8,115.8 420.1,115.6 419.3,115.2 418.5,114.7 417.6,114.1 416.8,113.4 416.0,112.8 415.2,112.1 414.4,111.4 413.6,110.6 412.8,109.7 412.0,108.9 411.2,108.2 410.4,107.5 409.6,106.8 408.8,106.1 408.0,105.5 407.2,104.9 406.4,104.4 405.6,104.0 404.8,103.8 404.1,103.6 403.3,103.4 402.5,103.3 401.6,103.1 400.7,102.9 399.7,102.8 398.7,102.6 397.6,102.5 396.6,102.4 395.6,102.4 394.6,102.4 393.5,102.4 392.5,102.5 391.4,102.5 390.5,102.7 389.6,102.8 388.9,103.0 388.2,103.2 387.6,103.4 387.1,103.7 386.5,104.0 386.0,104.4 385.5,104.9 385.0,105.4 384.5,106.0 384.0,106.6 383.5,107.3 383.0,108.0 382.5,108.8 382.0,109.6 381.5,110.5 381.0,111.4 380.5,112.2 380.0,113.0 379.5,113.6 379.1,114.1 378.6,114.6 378.2,115.0 377.7,115.6 377.2,116.4 376.6,117.4 376.0,118.7 375.4,120.0 374.8,121.3 374.2,122.6 373.6,123.6 373.1,124.4 372.7,125.0 372.3,125.6 371.9,126.1 371.4,126.5 371.0,127.0 370.5,127.5 370.0,128.0 369.5,128.5 369.0,129.0 368.5,129.3 368.0,129.5 367.5,129.6 367.1,129.6 366.6,129.4 366.2,129.2 365.7,129.0 365.2,128.6 364.7,128.2 364.1,127.7 363.5,127.1 362.9,126.4 362.3,125.7 361.6,124.8 360.9,123.8 360.1,122.7 359.3,121.5 358.4,120.2 357.6,118.9 356.8,117.6 356.0,116.3 355.2,114.9 354.5,113.5 353.7,112.1 352.9,110.7 352.0,109.2 351.1,107.7 350.1,106.1 349.1,104.5 348.1,102.8 347.1,101.2 346.0,99.6 344.9,98.0 343.6,96.5 342.4,94.9 341.1,93.3 339.9,91.7 338.8,90.0 337.7,88.1 336.7,86.1 335.7,84.1 334.7,82.0 333.8,80.1 333.0,78.5 332.3,77.2 331.7,76.1 331.1,75.2 330.5,74.3 329.9,73.3 329.2,72.0 328.3,70.3 327.2,68.3 326.0,66.1 324.9,64.0 324.0,62.2 323.3,61.0Z" fill="#ffd5d6"/>
<g clip-path="url(#bb1)"><path d="M323.3,50.0 323.6,50.0 324.0,50.0 324.4,50.0 325.0,50.1 325.7,50.2 326.4,50.5 327.3,51.0 328.4,51.6 329.5,52.3 330.7,53.0 331.8,53.8 332.9,54.4 333.9,55.0 334.8,55.5 335.7,56.0 336.6,56.6 337.5,57.1 338.4,57.6 339.3,58.2 340.2,58.7 341.1,59.3 342.0,59.9 342.9,60.4 343.8,60.9 344.7,61.4 345.6,61.8 346.6,62.3 347.5,62.7 348.4,62.9 349.3,63.1 350.2,63.1 351.1,63.1 352.0,63.0 352.9,62.7 353.8,62.4 354.7,62.0 355.6,61.5 356.6,60.9 357.6,60.1 358.5,59.3 359.4,58.5 360.2,57.6 360.9,56.6 361.5,55.6 362.1,54.4 362.6,53.3 363.0,52.1 363.5,51.1 363.9,50.1 364.2,49.1 364.6,48.2 364.9,47.3 365.2,46.4 365.6,45.6 366.1,44.9 366.5,44.2 367.0,43.6 367.6,43.0 368.2,42.4 368.9,41.6 369.7,40.7 370.6,39.7 371.5,38.6 372.5,37.6 373.5,36.5 374.4,35.5 375.3,34.5 376.2,33.6 377.1,32.6 378.1,31.7 379.0,30.9 380.0,30.0 381.0,29.2 382.1,28.4 383.2,27.7 384.3,27.0 385.4,26.3 386.4,25.5 387.4,24.7 388.3,23.8 389.2,23.0 390.0,22.1 390.9,21.3 391.8,20.5 392.7,19.7 393.7,18.9 394.7,18.2 395.6,17.5 396.5,17.0 397.3,16.7 398.0,16.6 398.5,16.7 399.1,17.0 399.5,17.3 400.0,17.8 400.5,18.4 401.0,19.1 401.5,20.0 402.0,21.0 402.5,22.1 403.0,23.1 403.5,24.0 403.9,24.8 404.3,25.6 404.7,26.3 405.1,27.1 405.5,27.8 406.0,28.5 406.5,29.2 407.0,30.0 407.5,30.7 408.1,31.4 408.7,32.1 409.3,32.8 410.0,33.5 410.7,34.3 411.5,35.1 412.2,35.9 412.9,36.5 413.6,37.0 414.2,37.3 414.8,37.5 415.3,37.5 415.9,37.6 416.4,37.5 416.9,37.5 417.4,37.5 417.9,37.4 418.3,37.3 418.8,37.2 419.3,37.0 420.0,36.9 420.8,36.7 421.7,36.5 422.7,36.2 423.7,36.0 424.7,35.8 425.5,35.8 426.2,35.9 426.8,36.1 427.3,36.3 427.8,36.6 428.3,37.0 428.7,37.5 429.1,38.1 429.5,38.7 429.8,39.5 430.1,40.3 430.5,41.0 430.9,41.8 431.4,42.5 431.9,43.3 432.4,44.0 433.0,44.7 433.6,45.5 434.2,46.2 434.8,47.0 435.5,47.7 436.2,48.5 436.9,49.3 437.7,49.9 438.5,50.5 439.3,50.9 440.2,51.3 441.2,51.6 442.1,51.8 443.1,52.0 444.0,52.2 444.9,52.4 445.8,52.5 446.8,52.5 447.7,52.6 448.6,52.6 449.5,52.7 449.5,52.8 448.6,52.9 447.6,53.0 447.6,53.0 449.7,53.1 455.0,53.2 465.0,53.3 479.2,53.3 495.5,53.4 511.8,53.4 525.8,53.5 535.4,53.5 535.4,55.0 527.6,55.0 516.4,55.0 503.3,55.0 490.1,54.9 478.5,55.0 470.0,55.0 465.1,55.1 462.3,55.2 461.2,55.3 460.8,55.4 460.7,55.6 460.0,55.8 459.0,56.0 458.2,56.3 457.6,56.6 457.0,57.0 456.5,57.4 456.0,57.8 455.4,58.3 454.9,58.8 454.5,59.3 454.0,59.9 453.5,60.6 452.9,61.4 452.3,62.3 451.6,63.2 450.9,64.3 450.1,65.4 449.4,66.5 448.7,67.6 448.0,68.8 447.3,70.0 446.6,71.2 446.0,72.4 445.3,73.7 444.6,74.9 443.9,76.1 443.2,77.3 442.6,78.5 441.9,79.7 441.2,80.9 440.5,82.1 439.8,83.3 439.1,84.4 438.4,85.6 437.7,86.8 437.0,88.0 436.3,89.3 435.6,90.7 434.9,92.1 434.2,93.5 433.6,95.0 432.9,96.5 432.2,98.0 431.5,99.5 430.8,101.1 430.1,102.6 429.4,104.1 428.7,105.6 428.0,107.0 427.4,108.3 426.8,109.7 426.2,111.0 425.6,112.1 425.0,113.2 424.4,114.0 423.8,114.7 423.2,115.2 422.7,115.5 422.1,115.7 421.5,115.8 420.8,115.8 420.1,115.6 419.3,115.2 418.5,114.7 417.6,114.1 416.8,113.4 416.0,112.8 415.2,112.1 414.4,111.4 413.6,110.6 412.8,109.7 412.0,108.9 411.2,108.2 410.4,107.5 409.6,106.8 408.8,106.1 408.0,105.5 407.2,104.9 406.4,104.4 405.6,104.0 404.8,103.8 404.1,103.6 403.3,103.4 402.5,103.3 401.6,103.1 400.7,102.9 399.7,102.8 398.7,102.6 397.6,102.5 396.6,102.4 395.6,102.4 394.6,102.4 393.5,102.4 392.5,102.5 391.4,102.5 390.5,102.7 389.6,102.8 388.9,103.0 388.2,103.2 387.6,103.4 387.1,103.7 386.5,104.0 386.0,104.4 385.5,104.9 385.0,105.4 384.5,106.0 384.0,106.6 383.5,107.3 383.0,108.0 382.5,108.8 382.0,109.6 381.5,110.5 381.0,111.4 380.5,112.2 380.0,113.0 379.5,113.6 379.1,114.1 378.6,114.6 378.2,115.0 377.7,115.6 377.2,116.4 376.6,117.4 376.0,118.7 375.4,120.0 374.8,121.3 374.2,122.6 373.6,123.6 373.1,124.4 372.7,125.0 372.3,125.6 371.9,126.1 371.4,126.5 371.0,127.0 370.5,127.5 370.0,128.0 369.5,128.5 369.0,129.0 368.5,129.3 368.0,129.5 367.5,129.6 367.1,129.6 366.6,129.4 366.2,129.2 365.7,129.0 365.2,128.6 364.7,128.2 364.1,127.7 363.5,127.1 362.9,126.4 362.3,125.7 361.6,124.8 360.9,123.8 360.1,122.7 359.3,121.5 358.4,120.2 357.6,118.9 356.8,117.6 356.0,116.3 355.2,114.9 354.5,113.5 353.7,112.1 352.9,110.7 352.0,109.2 351.1,107.7 350.1,106.1 349.1,104.5 348.1,102.8 347.1,101.2 346.0,99.6 344.9,98.0 343.6,96.5 342.4,94.9 341.1,93.3 339.9,91.7 338.8,90.0 337.7,88.1 336.7,86.1 335.7,84.1 334.7,82.0 333.8,80.1 333.0,78.5 332.3,77.2 331.7,76.1 331.1,75.2 330.5,74.3 329.9,73.3 329.2,72.0 328.3,70.3 327.2,68.3 326.0,66.1 324.9,64.0 324.0,62.2 323.3,61.0Z" fill="#e9b8d9"/></g>
<path d="M364.01,16.00V128.30M406.85,16.00V128.30M449.70,16.00V128.30M492.55,16.00V128.30M535.40,16.00V128.30M323.30,17.90H535.40M323.30,36.20H535.40M323.30,54.40H535.40M323.30,72.60H535.40M323.30,90.70H535.40M323.30,108.80H535.40M323.30,127.00H535.40" stroke="rgba(0,0,0,0.075)" stroke-width="1" fill="none"/>
<path d="M323.3,55.4 323.7,55.8 324.2,56.2 324.8,56.8 325.5,57.5 326.3,58.2 327.0,58.9 327.7,59.7 328.5,60.6 329.4,61.6 330.2,62.6 331.1,63.5 331.9,64.4 332.7,65.2 333.6,66.0 334.4,66.7 335.2,67.4 336.1,68.1 336.9,68.8 337.7,69.4 338.5,70.1 339.3,70.6 340.2,71.2 341.0,71.8 341.8,72.3 342.6,72.8 343.5,73.4 344.3,73.9 345.1,74.4 346.0,74.8 346.8,75.3 347.6,75.8 348.5,76.2 349.3,76.6 350.1,77.0 351.0,77.4 351.8,77.8 352.6,78.1 353.5,78.5 354.4,78.8 355.2,79.1 356.0,79.3 356.7,79.5 357.4,79.6 358.0,79.7 358.5,79.8 359.1,79.8 359.5,79.9 360.0,79.9 360.4,79.9 360.7,80.0 361.0,80.0 361.2,80.0 361.6,80.0 362.0,79.9 362.5,79.7 363.2,79.5 363.8,79.3 364.5,79.0 365.2,78.6 365.9,78.3 366.6,77.9 367.2,77.6 367.9,77.1 368.6,76.7 369.2,76.3 369.9,75.8 370.6,75.3 371.2,74.8 371.9,74.3 372.6,73.8 373.2,73.3 373.9,72.8 374.6,72.4 375.2,71.9 375.8,71.5 376.5,71.2 377.1,70.7 377.8,70.3 378.5,69.8 379.1,69.3 379.8,68.8 380.5,68.3 381.1,67.8 381.8,67.3 382.5,66.9 383.1,66.5 383.8,66.1 384.5,65.8 385.1,65.4 385.8,65.1 386.5,64.8 387.1,64.5 387.7,64.2 388.4,63.9 389.0,63.6 389.7,63.4 390.4,63.2 391.0,63.1 391.7,62.9 392.3,62.8 393.0,62.8 393.7,62.7 394.4,62.7 395.2,62.7 396.0,62.7 396.7,62.8 397.4,62.8 398.0,62.9 398.4,62.9 398.8,63.0 399.0,63.0 399.3,63.0 399.6,63.1 400.0,63.3 400.5,63.5 401.2,63.8 401.8,64.1 402.5,64.5 403.2,64.9 403.9,65.3 404.6,65.8 405.2,66.3 405.9,66.9 406.6,67.5 407.2,68.2 407.9,68.8 408.6,69.4 409.2,70.1 409.9,70.8 410.6,71.5 411.2,72.2 411.9,72.8 412.6,73.4 413.2,74.0 413.8,74.6 414.5,75.2 415.1,75.7 415.8,76.2 416.5,76.6 417.1,77.0 417.8,77.4 418.5,77.7 419.1,78.0 419.8,78.2 420.5,78.3 421.1,78.4 421.8,78.4 422.5,78.4 423.1,78.3 423.8,78.2 424.5,78.1 425.1,77.9 425.7,77.6 426.4,77.4 427.0,77.0 427.7,76.7 428.4,76.3 429.0,75.9 429.7,75.4 430.4,74.9 431.1,74.3 431.7,73.8 432.3,73.2 432.9,72.7 433.5,72.1 434.1,71.4 434.7,70.8 435.3,70.2 435.9,69.6 436.4,68.9 437.0,68.3 437.5,67.7 438.1,67.0 438.6,66.4 439.2,65.8 439.7,65.1 440.2,64.5 440.8,63.9 441.4,63.3 441.9,62.7 442.4,62.1 443.0,61.6 443.5,61.0 444.1,60.5 444.6,59.9 445.2,59.4 445.8,58.9 446.3,58.4 446.9,57.9 447.4,57.4 447.9,56.9 448.5,56.5 449.1,56.1 449.6,55.7 450.1,55.4 450.7,55.1 451.2,54.8 451.8,54.5 452.3,54.3 452.9,54.0 453.4,53.8 453.9,53.7 454.5,53.5 455.1,53.4 455.7,53.3 456.2,53.2 456.7,53.1 457.4,53.1 458.2,53.0 459.3,53.0 460.1,53.0 460.4,53.0 460.8,53.0 462.1,53.0 465.0,53.0 470.0,53.0 478.5,53.0 490.2,53.1 503.4,53.1 516.4,53.2 527.7,53.3 535.4,53.3" stroke="#0000ff" stroke-width="2.6" fill="none" stroke-linejoin="round"/>
<path d="M323.3,54.9 323.7,55.3 324.2,55.9 324.8,56.5 325.5,57.3 326.3,58.1 327.0,58.9 327.7,59.8 328.5,60.8 329.4,61.8 330.2,62.8 331.1,63.9 331.9,64.9 332.7,65.9 333.6,66.9 334.4,68.0 335.2,69.0 336.1,69.9 336.9,70.8 337.7,71.6 338.6,72.3 339.4,73.0 340.2,73.6 341.0,74.2 341.8,74.8 342.5,75.3 343.2,75.7 343.9,76.1 344.5,76.4 345.1,76.8 345.8,77.3 346.5,77.9 347.1,78.5 347.8,79.1 348.5,79.8 349.1,80.5 349.8,81.2 350.5,82.0 351.1,82.8 351.8,83.7 352.5,84.6 353.1,85.4 353.7,86.2 354.3,86.9 354.8,87.6 355.3,88.2 355.7,88.7 356.2,89.2 356.7,89.7 357.2,90.1 357.7,90.4 358.2,90.7 358.8,90.9 359.2,91.1 359.7,91.2 360.1,91.3 360.5,91.3 360.9,91.3 361.3,91.2 361.6,91.1 362.0,91.0 362.3,90.9 362.6,90.7 362.9,90.5 363.2,90.3 363.6,90.0 364.0,89.7 364.5,89.3 365.2,88.8 365.8,88.3 366.5,87.8 367.2,87.2 367.9,86.7 368.6,86.2 369.2,85.8 369.9,85.3 370.6,84.8 371.2,84.3 371.9,83.7 372.6,83.0 373.2,82.2 373.9,81.4 374.6,80.6 375.2,79.7 375.9,78.8 376.6,77.9 377.2,76.8 377.8,75.8 378.5,74.8 379.1,73.8 379.8,72.8 380.5,71.9 381.1,71.0 381.8,70.2 382.5,69.3 383.1,68.6 383.8,67.8 384.5,67.1 385.1,66.4 385.8,65.7 386.5,65.1 387.1,64.5 387.8,63.9 388.5,63.3 389.1,62.8 389.7,62.2 390.4,61.7 391.0,61.3 391.7,60.9 392.4,60.6 393.1,60.3 393.8,60.0 394.5,59.8 395.1,59.6 395.7,59.5 396.2,59.4 396.6,59.4 397.0,59.4 397.3,59.4 397.7,59.4 398.0,59.5 398.3,59.6 398.6,59.7 398.9,59.8 399.2,59.9 399.6,60.1 400.0,60.4 400.5,60.7 401.2,61.2 401.8,61.6 402.5,62.1 403.2,62.7 403.9,63.3 404.6,64.0 405.2,64.7 405.9,65.5 406.6,66.3 407.2,67.1 407.9,67.8 408.6,68.5 409.2,69.2 409.9,69.9 410.6,70.5 411.2,71.2 411.9,71.8 412.6,72.4 413.2,73.1 413.8,73.7 414.5,74.3 415.1,74.8 415.8,75.3 416.5,75.7 417.2,76.0 417.9,76.3 418.5,76.5 419.2,76.6 419.8,76.7 420.4,76.7 420.9,76.7 421.4,76.7 421.8,76.6 422.3,76.4 422.8,76.2 423.3,75.9 423.8,75.5 424.3,75.1 424.8,74.6 425.3,74.2 425.8,73.8 426.3,73.5 426.8,73.2 427.2,72.9 427.7,72.7 428.2,72.5 428.7,72.3 429.2,72.1 429.7,72.0 430.3,71.9 430.8,71.8 431.3,71.7 431.7,71.6 432.1,71.4 432.4,71.2 432.7,71.0 433.0,70.8 433.4,70.5 433.7,70.3 434.1,70.1 434.4,69.8 434.8,69.6 435.2,69.3 435.6,69.0 436.0,68.6 436.4,68.1 436.8,67.6 437.2,67.0 437.7,66.4 438.1,65.8 438.6,65.2 439.1,64.6 439.6,64.1 440.2,63.5 440.8,63.0 441.3,62.4 441.9,61.9 442.4,61.3 443.0,60.8 443.5,60.2 444.1,59.6 444.6,59.1 445.2,58.6 445.8,58.1 446.3,57.7 446.9,57.2 447.4,56.8 447.9,56.4 448.5,56.1 449.1,55.8 449.6,55.6 450.1,55.4 450.7,55.2 451.2,55.1 451.8,54.9 452.3,54.8 452.9,54.6 453.4,54.5 453.9,54.4 454.5,54.4 455.1,54.3 454.9,54.2 453.8,54.2 452.7,54.1 452.5,54.1 454.4,54.1 459.3,54.1 468.7,54.1 482.2,54.2 497.6,54.2 513.0,54.3 526.3,54.4 535.4,54.4" stroke="#ff0000" stroke-width="1.8" fill="none" stroke-linejoin="round"/>
</g>
<path d="M323.30,16.00V128.30H535.40" stroke="#858585" stroke-width="1" fill="none"/>
<path d="M364.01,128.30V126.30M406.85,128.30V126.30M449.70,128.30V126.30M492.55,128.30V126.30M535.40,128.30V126.30M323.30,17.90H325.30M323.30,36.20H325.30M323.30,54.40H325.30M323.30,72.60H325.30M323.30,90.70H325.30M323.30,108.80H325.30M323.30,127.00H325.30" stroke="#858585" stroke-width="1" fill="none"/>
<text x="364.01" y="144.20" font-size="10.5" text-anchor="middle">20</text>
<text x="406.85" y="144.20" font-size="10.5" text-anchor="middle">40</text>
<text x="449.70" y="144.20" font-size="10.5" text-anchor="middle">60</text>
<text x="492.55" y="144.20" font-size="10.5" text-anchor="middle">80</text>
<text x="535.40" y="144.20" font-size="10.5" text-anchor="middle">100</text>
<text x="318.40" y="22.50" font-size="10.5" text-anchor="end">0.4</text>
<text x="318.40" y="40.80" font-size="10.5" text-anchor="end">0.2</text>
<text x="318.40" y="59.00" font-size="10.5" text-anchor="end">0</text>
<text x="318.40" y="77.20" font-size="10.5" text-anchor="end"><tspan font-size="12">−</tspan><tspan dx="1.1">0.2</tspan></text>
<text x="318.40" y="95.30" font-size="10.5" text-anchor="end"><tspan font-size="12">−</tspan><tspan dx="1.1">0.4</tspan></text>
<text x="318.40" y="113.40" font-size="10.5" text-anchor="end"><tspan font-size="12">−</tspan><tspan dx="1.1">0.6</tspan></text>
<text x="318.40" y="131.60" font-size="10.5" text-anchor="end"><tspan font-size="12">−</tspan><tspan dx="1.1">0.8</tspan></text>
<text x="429.35" y="13.30" font-size="11" font-weight="bold" text-anchor="middle">GRM frontal</text>
<text transform="translate(289.70,72.15) rotate(-90)" font-size="11.1" text-anchor="middle">Nm/kg</text>
<g clip-path="url(#c2)">
<path d="M44.4,264.0 44.6,262.7 44.8,260.9 45.0,258.8 45.3,256.4 45.6,254.1 46.0,252.0 46.4,250.0 47.0,248.1 47.5,246.1 48.1,244.1 48.7,242.1 49.2,240.0 49.7,237.8 50.2,235.4 50.8,233.0 51.3,230.6 51.8,228.3 52.3,226.2 52.8,224.3 53.3,222.5 53.8,220.8 54.3,219.1 54.8,217.5 55.4,215.8 56.0,214.1 56.7,212.3 57.4,210.6 58.1,208.9 58.8,207.2 59.5,205.5 60.2,203.9 60.9,202.2 61.6,200.6 62.3,199.0 63.0,197.6 63.6,196.2 64.2,195.0 64.7,193.8 65.2,192.8 65.7,191.8 66.2,190.9 66.7,190.0 67.2,189.2 67.6,188.6 68.1,187.9 68.5,187.4 69.0,186.7 69.5,186.0 70.0,185.2 70.6,184.2 71.2,183.2 71.8,182.3 72.4,181.4 73.0,180.6 73.6,179.9 74.3,179.4 75.0,178.8 75.7,178.4 76.4,178.0 77.1,177.7 77.8,177.5 78.5,177.3 79.2,177.2 79.9,177.2 80.6,177.2 81.3,177.3 82.0,177.4 82.7,177.7 83.4,177.9 84.0,178.2 84.7,178.6 85.4,179.0 86.1,179.4 86.8,180.0 87.4,180.5 88.1,181.1 88.8,181.7 89.5,182.3 90.2,183.0 91.0,183.7 91.7,184.4 92.5,185.1 93.2,185.8 94.0,186.4 94.7,186.9 95.5,187.4 96.2,187.9 96.9,188.3 97.8,188.7 98.7,189.0 99.7,189.3 100.8,189.5 102.0,189.7 103.2,189.8 104.5,189.9 106.0,190.0 107.7,190.1 109.5,190.1 111.5,190.1 113.4,190.1 115.3,190.1 117.0,190.0 118.5,189.9 119.9,189.8 121.2,189.6 122.4,189.4 123.7,189.2 125.0,189.0 126.3,188.8 127.7,188.5 129.1,188.1 130.4,187.8 131.7,187.6 133.0,187.5 134.3,187.5 135.6,187.6 136.8,187.8 138.0,188.0 139.1,188.2 140.0,188.3 140.7,188.3 141.3,188.3 141.8,188.2 142.1,188.1 142.5,188.1 143.0,188.0 143.5,188.0 144.0,187.9 144.5,187.9 145.0,187.9 145.5,187.8 146.0,187.8 146.5,187.8 147.0,187.7 147.5,187.7 148.0,187.7 148.5,187.6 149.0,187.6 149.5,187.6 150.0,187.6 150.6,187.6 151.1,187.6 151.6,187.6 152.0,187.6 152.4,187.6 152.7,187.6 153.0,187.6 153.3,187.7 153.6,187.7 154.0,187.8 154.4,187.9 154.8,188.0 155.2,188.1 155.6,188.2 156.1,188.5 156.5,189.0 156.9,189.7 157.3,190.5 157.8,191.5 158.2,192.5 158.6,193.5 159.0,194.5 159.4,195.4 159.8,196.4 160.2,197.3 160.7,198.3 161.1,199.3 161.5,200.3 161.9,201.4 162.3,202.4 162.8,203.6 163.2,204.7 163.6,205.8 164.0,206.9 164.4,208.0 164.8,209.2 165.2,210.3 165.7,211.5 166.0,212.5 166.4,213.5 166.7,214.3 167.0,214.9 167.2,215.4 167.5,216.0 167.7,216.8 168.1,218.0 168.5,219.6 169.0,221.6 169.6,223.7 170.1,225.9 170.7,228.1 171.2,230.0 171.7,231.7 172.2,233.3 172.7,234.8 173.2,236.2 173.7,237.6 174.2,239.0 174.7,240.3 175.1,241.4 175.6,242.6 176.1,243.8 176.6,245.1 177.2,246.8 177.9,248.8 178.7,251.2 179.5,253.7 180.3,256.3 181.2,258.8 182.0,261.1 182.8,263.3 183.6,265.5 184.3,267.6 185.1,269.6 185.9,271.5 186.7,273.1 187.5,274.5 188.2,275.7 189.0,276.8 189.8,277.7 190.6,278.4 191.5,279.1 192.0,279.6 191.9,279.9 191.8,280.1 192.4,280.2 194.3,280.2 198.0,280.3 204.6,280.4 213.7,280.5 224.2,280.6 234.5,280.6 243.6,280.6 250.0,280.5 253.5,280.3 255.0,280.1 255.1,279.9 254.6,279.6 254.0,279.3 254.0,279.0 254.5,278.7 255.0,278.4 255.4,278.2 255.8,277.9 256.1,277.7 256.3,277.5 256.3,282.0 248.6,282.1 237.5,282.2 224.6,282.3 211.6,282.4 200.1,282.5 192.0,282.5 187.5,282.5 185.3,282.4 184.8,282.4 185.1,282.2 185.4,281.9 185.0,281.5 184.0,280.8 183.1,280.0 182.3,279.1 181.5,278.0 180.8,277.0 180.0,276.0 179.3,275.1 178.6,274.1 177.9,273.2 177.3,272.2 176.7,271.1 176.0,270.0 175.3,268.8 174.6,267.4 173.9,266.1 173.2,264.7 172.6,263.3 172.0,262.0 171.5,260.8 171.1,259.7 170.7,258.6 170.3,257.4 169.9,256.3 169.5,255.0 169.0,253.6 168.6,252.2 168.1,250.7 167.6,249.1 167.0,247.6 166.5,246.0 165.9,244.4 165.4,242.6 164.8,240.9 164.1,239.2 163.6,237.5 163.0,236.0 162.5,234.6 161.9,233.3 161.4,232.0 160.9,230.8 160.5,229.7 160.0,228.5 159.6,227.4 159.1,226.2 158.7,225.2 158.3,224.1 157.9,223.0 157.5,222.0 157.1,221.0 156.7,220.0 156.4,219.0 156.0,218.0 155.7,217.0 155.3,216.0 154.9,215.0 154.6,214.1 154.3,213.1 153.9,212.1 153.6,211.2 153.2,210.2 152.8,209.2 152.4,208.2 152.0,207.2 151.5,206.3 151.1,205.3 150.7,204.4 150.3,203.5 149.9,202.7 149.6,201.8 149.2,201.0 148.8,200.3 148.3,199.5 147.8,198.8 147.3,198.0 146.8,197.3 146.3,196.6 145.7,196.0 145.0,195.4 144.3,194.8 143.5,194.3 142.7,193.7 141.8,193.3 140.9,193.0 140.0,192.9 139.0,193.0 137.9,193.4 136.8,193.9 135.6,194.5 134.6,195.0 133.6,195.5 132.8,195.9 132.1,196.2 131.5,196.5 130.8,196.8 130.1,197.2 129.3,197.5 128.4,197.9 127.3,198.3 126.3,198.7 125.1,199.1 123.9,199.4 122.7,199.8 121.3,200.1 119.9,200.5 118.3,200.8 116.8,201.0 115.3,201.3 114.0,201.5 112.8,201.7 111.7,201.8 110.6,201.9 109.6,202.0 108.6,202.0 107.5,202.0 106.4,201.9 105.3,201.8 104.2,201.6 103.1,201.3 102.0,201.1 100.9,200.8 99.9,200.5 98.8,200.1 97.8,199.7 96.9,199.2 95.9,198.8 95.0,198.5 94.1,198.2 93.3,197.9 92.5,197.7 91.7,197.4 90.9,197.2 90.0,197.0 89.1,196.8 88.1,196.6 87.1,196.3 86.0,196.2 85.0,196.0 84.0,196.0 83.0,196.0 82.0,196.1 80.9,196.2 79.9,196.3 79.0,196.6 78.1,197.0 77.3,197.5 76.6,198.1 75.9,198.8 75.3,199.6 74.7,200.5 74.0,201.4 73.3,202.4 72.6,203.5 72.0,204.6 71.3,205.9 70.6,207.2 69.8,208.6 69.0,210.1 68.1,211.8 67.3,213.5 66.4,215.3 65.5,217.1 64.7,218.9 63.9,220.6 63.2,222.4 62.5,224.2 61.9,226.0 61.2,227.7 60.5,229.3 59.8,230.9 59.1,232.4 58.4,233.8 57.7,235.2 57.0,236.6 56.4,238.0 55.8,239.4 55.2,240.6 54.6,241.9 54.1,243.2 53.5,244.6 53.0,246.0 52.5,247.6 52.0,249.2 51.5,250.9 51.0,252.6 50.5,254.3 50.0,256.0 49.5,257.7 49.0,259.3 48.5,261.0 48.0,262.7 47.5,264.3 47.0,266.0 46.5,267.8 46.0,269.7 45.5,271.6 45.1,273.4 44.7,274.9 44.4,276.0Z" fill="#d8d8fb"/>
<path d="M44.4,268.0 44.7,266.7 45.1,264.8 45.5,262.6 46.0,260.3 46.5,258.0 47.0,256.0 47.5,254.2 48.0,252.5 48.5,250.9 49.0,249.3 49.5,247.6 50.0,246.0 50.5,244.3 51.0,242.6 51.5,240.9 52.0,239.3 52.5,237.6 53.0,236.0 53.5,234.4 54.0,232.9 54.5,231.4 55.0,229.9 55.5,228.4 56.0,227.0 56.5,225.6 57.0,224.3 57.5,222.9 58.0,221.6 58.5,220.3 59.0,219.0 59.5,217.7 60.0,216.4 60.4,215.1 60.9,213.7 61.4,212.4 62.0,211.0 62.6,209.6 63.3,208.1 63.9,206.6 64.6,205.0 65.3,203.5 66.0,202.0 66.7,200.5 67.4,198.9 68.1,197.4 68.7,195.9 69.4,194.4 70.0,193.0 70.5,191.6 71.0,190.2 71.5,188.9 72.0,187.6 72.4,186.5 73.0,185.6 73.6,184.9 74.3,184.3 75.0,183.8 75.7,183.5 76.4,183.3 77.1,183.1 77.8,183.0 78.4,183.1 79.1,183.2 79.8,183.4 80.5,183.7 81.3,183.9 82.1,184.1 83.0,184.4 84.0,184.7 84.9,184.9 86.0,185.3 87.0,185.6 88.1,186.0 89.3,186.4 90.6,186.8 91.8,187.2 93.0,187.6 94.0,188.0 94.9,188.3 95.6,188.7 96.3,189.0 97.0,189.2 97.8,189.4 98.7,189.5 99.8,189.5 100.9,189.3 102.2,189.0 103.5,188.8 104.9,188.5 106.4,188.4 108.0,188.4 109.8,188.4 111.7,188.5 113.5,188.5 115.4,188.5 117.3,188.4 119.2,188.2 121.1,187.9 123.0,187.6 124.8,187.2 126.6,186.7 128.2,186.2 129.7,185.6 131.0,184.9 132.3,184.1 133.5,183.3 134.6,182.6 135.8,181.8 137.0,181.1 138.2,180.3 139.3,179.6 140.4,178.8 141.4,178.1 142.4,177.5 143.3,176.9 144.1,176.3 144.9,175.8 145.6,175.3 146.2,175.0 146.7,174.7 147.1,174.5 147.3,174.5 147.5,174.5 147.7,174.6 147.8,174.8 148.1,175.0 148.5,175.3 148.9,175.8 149.4,176.3 149.9,176.8 150.3,177.4 150.7,178.0 151.0,178.6 151.3,179.3 151.6,180.0 151.9,180.7 152.1,181.4 152.4,182.1 152.7,182.8 152.9,183.4 153.2,184.1 153.4,184.8 153.7,185.5 154.0,186.3 154.4,187.2 154.8,188.1 155.2,189.1 155.6,190.0 156.1,191.0 156.5,192.0 156.9,193.0 157.3,193.9 157.8,194.8 158.2,195.8 158.6,196.8 159.0,197.8 159.4,198.9 159.8,199.9 160.2,201.0 160.7,202.2 161.1,203.3 161.5,204.4 161.9,205.5 162.4,206.6 162.8,207.7 163.2,208.8 163.6,210.0 164.0,211.1 164.4,212.2 164.7,213.3 165.0,214.5 165.3,215.6 165.6,216.8 166.0,218.0 166.4,219.3 166.8,220.7 167.3,222.1 167.7,223.5 168.1,224.8 168.5,226.0 168.8,226.9 169.1,227.6 169.3,228.2 169.5,228.8 169.9,229.7 170.3,231.0 170.9,232.7 171.6,234.8 172.4,237.1 173.2,239.6 174.0,242.0 174.8,244.4 175.6,246.8 176.4,249.2 177.2,251.6 178.0,254.1 178.8,256.4 179.6,258.7 180.4,260.9 181.2,263.0 182.0,265.1 182.8,267.1 183.6,269.0 184.3,270.7 185.0,272.2 185.6,273.6 186.2,274.9 186.7,276.0 187.3,277.0 188.0,277.9 188.7,278.7 189.4,279.3 190.1,279.8 190.9,280.2 191.8,280.6 192.7,280.9 193.2,281.1 193.1,281.3 193.1,281.4 193.8,281.4 195.9,281.5 200.0,281.5 207.2,281.5 217.2,281.5 228.6,281.5 239.9,281.5 249.6,281.5 256.3,281.5 256.3,282.6 248.6,282.6 237.5,282.6 224.5,282.7 211.5,282.7 200.1,282.7 192.0,282.8 187.6,282.9 185.6,283.0 185.2,283.1 185.7,283.3 186.2,283.4 186.0,283.5 185.2,283.6 184.5,283.8 183.8,283.9 183.2,284.0 182.6,284.0 182.0,283.9 181.4,283.7 180.8,283.5 180.2,283.2 179.6,282.8 179.0,282.3 178.4,281.5 177.8,280.5 177.2,279.4 176.7,278.1 176.1,276.6 175.5,274.9 174.8,273.1 174.1,271.1 173.3,268.8 172.5,266.4 171.6,263.9 170.8,261.3 170.0,258.7 169.2,256.0 168.4,253.1 167.5,250.1 166.7,247.2 165.9,244.5 165.2,242.0 164.5,239.8 163.9,237.7 163.2,235.8 162.6,234.0 162.1,232.4 161.6,231.0 161.2,229.8 160.8,228.9 160.5,228.2 160.2,227.5 159.9,226.8 159.5,226.0 159.1,225.1 158.7,224.1 158.2,223.0 157.8,222.0 157.4,221.0 157.0,220.0 156.6,219.0 156.3,218.1 156.0,217.2 155.6,216.3 155.3,215.3 154.9,214.4 154.5,213.4 154.1,212.5 153.7,211.5 153.2,210.5 152.8,209.6 152.4,208.6 152.0,207.6 151.6,206.6 151.2,205.7 150.7,204.7 150.3,203.7 149.9,202.8 149.5,201.9 149.1,201.0 148.7,200.1 148.3,199.3 147.9,198.5 147.4,197.8 146.9,197.1 146.4,196.5 145.8,195.9 145.3,195.4 144.7,194.9 144.1,194.5 143.5,194.2 142.8,194.0 142.1,193.9 141.4,193.8 140.7,193.8 140.0,193.7 139.3,193.6 138.7,193.6 138.1,193.5 137.4,193.5 136.6,193.6 135.8,193.8 134.9,194.1 133.8,194.5 132.7,195.0 131.6,195.5 130.4,196.0 129.3,196.5 128.2,197.0 127.2,197.4 126.1,197.9 125.1,198.4 123.9,198.9 122.7,199.3 121.3,199.7 119.9,200.1 118.3,200.5 116.8,200.9 115.3,201.2 114.0,201.5 112.8,201.8 111.7,202.0 110.6,202.3 109.6,202.4 108.6,202.5 107.5,202.5 106.4,202.4 105.3,202.1 104.2,201.8 103.1,201.4 102.0,200.9 100.9,200.4 99.8,199.8 98.6,198.9 97.4,198.1 96.3,197.2 95.3,196.5 94.4,196.0 93.7,195.7 93.1,195.6 92.7,195.6 92.2,195.7 91.8,195.7 91.2,195.8 90.6,195.9 89.9,196.0 89.2,196.1 88.4,196.2 87.7,196.3 87.0,196.3 86.3,196.2 85.6,196.0 84.9,195.8 84.3,195.6 83.6,195.5 82.9,195.5 82.2,195.7 81.6,196.1 80.9,196.5 80.2,197.0 79.5,197.5 78.8,198.0 78.0,198.5 77.2,198.9 76.4,199.4 75.6,200.0 74.8,200.6 74.0,201.4 73.3,202.3 72.6,203.4 71.9,204.6 71.2,205.8 70.5,207.2 69.8,208.6 69.0,210.1 68.1,211.8 67.3,213.5 66.4,215.3 65.5,217.1 64.7,218.9 63.9,220.6 63.2,222.3 62.5,224.1 61.9,225.8 61.2,227.5 60.5,229.3 59.8,231.1 59.1,232.9 58.4,234.7 57.7,236.5 57.0,238.3 56.4,240.0 55.8,241.7 55.2,243.4 54.6,245.0 54.1,246.7 53.5,248.3 53.0,250.0 52.5,251.7 52.0,253.4 51.5,255.1 51.0,256.8 50.5,258.4 50.0,260.0 49.5,261.4 49.0,262.8 48.5,264.1 48.0,265.4 47.5,266.7 47.0,268.0 46.5,269.4 46.0,271.0 45.5,272.5 45.1,273.9 44.7,275.1 44.4,276.0Z" fill="#ffd5d6"/>
<g clip-path="url(#bb2)"><path d="M44.4,268.0 44.7,266.7 45.1,264.8 45.5,262.6 46.0,260.3 46.5,258.0 47.0,256.0 47.5,254.2 48.0,252.5 48.5,250.9 49.0,249.3 49.5,247.6 50.0,246.0 50.5,244.3 51.0,242.6 51.5,240.9 52.0,239.3 52.5,237.6 53.0,236.0 53.5,234.4 54.0,232.9 54.5,231.4 55.0,229.9 55.5,228.4 56.0,227.0 56.5,225.6 57.0,224.3 57.5,222.9 58.0,221.6 58.5,220.3 59.0,219.0 59.5,217.7 60.0,216.4 60.4,215.1 60.9,213.7 61.4,212.4 62.0,211.0 62.6,209.6 63.3,208.1 63.9,206.6 64.6,205.0 65.3,203.5 66.0,202.0 66.7,200.5 67.4,198.9 68.1,197.4 68.7,195.9 69.4,194.4 70.0,193.0 70.5,191.6 71.0,190.2 71.5,188.9 72.0,187.6 72.4,186.5 73.0,185.6 73.6,184.9 74.3,184.3 75.0,183.8 75.7,183.5 76.4,183.3 77.1,183.1 77.8,183.0 78.4,183.1 79.1,183.2 79.8,183.4 80.5,183.7 81.3,183.9 82.1,184.1 83.0,184.4 84.0,184.7 84.9,184.9 86.0,185.3 87.0,185.6 88.1,186.0 89.3,186.4 90.6,186.8 91.8,187.2 93.0,187.6 94.0,188.0 94.9,188.3 95.6,188.7 96.3,189.0 97.0,189.2 97.8,189.4 98.7,189.5 99.8,189.5 100.9,189.3 102.2,189.0 103.5,188.8 104.9,188.5 106.4,188.4 108.0,188.4 109.8,188.4 111.7,188.5 113.5,188.5 115.4,188.5 117.3,188.4 119.2,188.2 121.1,187.9 123.0,187.6 124.8,187.2 126.6,186.7 128.2,186.2 129.7,185.6 131.0,184.9 132.3,184.1 133.5,183.3 134.6,182.6 135.8,181.8 137.0,181.1 138.2,180.3 139.3,179.6 140.4,178.8 141.4,178.1 142.4,177.5 143.3,176.9 144.1,176.3 144.9,175.8 145.6,175.3 146.2,175.0 146.7,174.7 147.1,174.5 147.3,174.5 147.5,174.5 147.7,174.6 147.8,174.8 148.1,175.0 148.5,175.3 148.9,175.8 149.4,176.3 149.9,176.8 150.3,177.4 150.7,178.0 151.0,178.6 151.3,179.3 151.6,180.0 151.9,180.7 152.1,181.4 152.4,182.1 152.7,182.8 152.9,183.4 153.2,184.1 153.4,184.8 153.7,185.5 154.0,186.3 154.4,187.2 154.8,188.1 155.2,189.1 155.6,190.0 156.1,191.0 156.5,192.0 156.9,193.0 157.3,193.9 157.8,194.8 158.2,195.8 158.6,196.8 159.0,197.8 159.4,198.9 159.8,199.9 160.2,201.0 160.7,202.2 161.1,203.3 161.5,204.4 161.9,205.5 162.4,206.6 162.8,207.7 163.2,208.8 163.6,210.0 164.0,211.1 164.4,212.2 164.7,213.3 165.0,214.5 165.3,215.6 165.6,216.8 166.0,218.0 166.4,219.3 166.8,220.7 167.3,222.1 167.7,223.5 168.1,224.8 168.5,226.0 168.8,226.9 169.1,227.6 169.3,228.2 169.5,228.8 169.9,229.7 170.3,231.0 170.9,232.7 171.6,234.8 172.4,237.1 173.2,239.6 174.0,242.0 174.8,244.4 175.6,246.8 176.4,249.2 177.2,251.6 178.0,254.1 178.8,256.4 179.6,258.7 180.4,260.9 181.2,263.0 182.0,265.1 182.8,267.1 183.6,269.0 184.3,270.7 185.0,272.2 185.6,273.6 186.2,274.9 186.7,276.0 187.3,277.0 188.0,277.9 188.7,278.7 189.4,279.3 190.1,279.8 190.9,280.2 191.8,280.6 192.7,280.9 193.2,281.1 193.1,281.3 193.1,281.4 193.8,281.4 195.9,281.5 200.0,281.5 207.2,281.5 217.2,281.5 228.6,281.5 239.9,281.5 249.6,281.5 256.3,281.5 256.3,282.6 248.6,282.6 237.5,282.6 224.5,282.7 211.5,282.7 200.1,282.7 192.0,282.8 187.6,282.9 185.6,283.0 185.2,283.1 185.7,283.3 186.2,283.4 186.0,283.5 185.2,283.6 184.5,283.8 183.8,283.9 183.2,284.0 182.6,284.0 182.0,283.9 181.4,283.7 180.8,283.5 180.2,283.2 179.6,282.8 179.0,282.3 178.4,281.5 177.8,280.5 177.2,279.4 176.7,278.1 176.1,276.6 175.5,274.9 174.8,273.1 174.1,271.1 173.3,268.8 172.5,266.4 171.6,263.9 170.8,261.3 170.0,258.7 169.2,256.0 168.4,253.1 167.5,250.1 166.7,247.2 165.9,244.5 165.2,242.0 164.5,239.8 163.9,237.7 163.2,235.8 162.6,234.0 162.1,232.4 161.6,231.0 161.2,229.8 160.8,228.9 160.5,228.2 160.2,227.5 159.9,226.8 159.5,226.0 159.1,225.1 158.7,224.1 158.2,223.0 157.8,222.0 157.4,221.0 157.0,220.0 156.6,219.0 156.3,218.1 156.0,217.2 155.6,216.3 155.3,215.3 154.9,214.4 154.5,213.4 154.1,212.5 153.7,211.5 153.2,210.5 152.8,209.6 152.4,208.6 152.0,207.6 151.6,206.6 151.2,205.7 150.7,204.7 150.3,203.7 149.9,202.8 149.5,201.9 149.1,201.0 148.7,200.1 148.3,199.3 147.9,198.5 147.4,197.8 146.9,197.1 146.4,196.5 145.8,195.9 145.3,195.4 144.7,194.9 144.1,194.5 143.5,194.2 142.8,194.0 142.1,193.9 141.4,193.8 140.7,193.8 140.0,193.7 139.3,193.6 138.7,193.6 138.1,193.5 137.4,193.5 136.6,193.6 135.8,193.8 134.9,194.1 133.8,194.5 132.7,195.0 131.6,195.5 130.4,196.0 129.3,196.5 128.2,197.0 127.2,197.4 126.1,197.9 125.1,198.4 123.9,198.9 122.7,199.3 121.3,199.7 119.9,200.1 118.3,200.5 116.8,200.9 115.3,201.2 114.0,201.5 112.8,201.8 111.7,202.0 110.6,202.3 109.6,202.4 108.6,202.5 107.5,202.5 106.4,202.4 105.3,202.1 104.2,201.8 103.1,201.4 102.0,200.9 100.9,200.4 99.8,199.8 98.6,198.9 97.4,198.1 96.3,197.2 95.3,196.5 94.4,196.0 93.7,195.7 93.1,195.6 92.7,195.6 92.2,195.7 91.8,195.7 91.2,195.8 90.6,195.9 89.9,196.0 89.2,196.1 88.4,196.2 87.7,196.3 87.0,196.3 86.3,196.2 85.6,196.0 84.9,195.8 84.3,195.6 83.6,195.5 82.9,195.5 82.2,195.7 81.6,196.1 80.9,196.5 80.2,197.0 79.5,197.5 78.8,198.0 78.0,198.5 77.2,198.9 76.4,199.4 75.6,200.0 74.8,200.6 74.0,201.4 73.3,202.3 72.6,203.4 71.9,204.6 71.2,205.8 70.5,207.2 69.8,208.6 69.0,210.1 68.1,211.8 67.3,213.5 66.4,215.3 65.5,217.1 64.7,218.9 63.9,220.6 63.2,222.3 62.5,224.1 61.9,225.8 61.2,227.5 60.5,229.3 59.8,231.1 59.1,232.9 58.4,234.7 57.7,236.5 57.0,238.3 56.4,240.0 55.8,241.7 55.2,243.4 54.6,245.0 54.1,246.7 53.5,248.3 53.0,250.0 52.5,251.7 52.0,253.4 51.5,255.1 51.0,256.8 50.5,258.4 50.0,260.0 49.5,261.4 49.0,262.8 48.5,264.1 48.0,265.4 47.5,266.7 47.0,268.0 46.5,269.4 46.0,271.0 45.5,272.5 45.1,273.9 44.7,275.1 44.4,276.0Z" fill="#e9b8d9"/></g>
<path d="M85.15,174.40V286.30M127.94,174.40V286.30M170.72,174.40V286.30M213.51,174.40V286.30M256.30,174.40V286.30M44.50,187.10H256.30M44.50,234.50H256.30M44.50,282.00H256.30" stroke="rgba(0,0,0,0.075)" stroke-width="1" fill="none"/>
<path d="M44.4,272.0 44.6,270.9 44.9,269.4 45.3,267.7 45.7,265.7 46.1,263.8 46.5,262.0 46.8,260.3 47.2,258.5 47.5,256.8 47.9,255.0 48.2,253.3 48.6,251.5 49.0,249.7 49.3,248.0 49.7,246.2 50.0,244.4 50.5,242.7 50.9,241.0 51.4,239.4 51.9,237.9 52.5,236.4 53.1,234.9 53.7,233.4 54.3,231.8 55.0,230.1 55.6,228.3 56.4,226.5 57.1,224.6 57.8,222.8 58.5,221.0 59.2,219.2 59.9,217.5 60.6,215.7 61.2,214.0 61.9,212.3 62.6,210.7 63.3,209.2 64.0,207.8 64.6,206.4 65.3,205.1 66.0,203.7 66.7,202.4 67.4,201.0 68.2,199.5 69.0,198.1 69.7,196.7 70.4,195.5 70.9,194.5 71.3,193.9 71.5,193.5 71.6,193.3 71.7,193.2 71.9,193.0 72.2,192.6 72.7,192.0 73.3,191.2 73.9,190.4 74.6,189.6 75.3,188.8 75.9,188.2 76.5,187.7 77.1,187.4 77.7,187.1 78.3,186.8 78.9,186.6 79.6,186.4 80.3,186.2 81.0,186.1 81.8,185.9 82.5,185.8 83.3,185.8 84.0,185.8 84.7,185.8 85.4,185.9 86.2,186.1 86.9,186.2 87.6,186.4 88.3,186.7 89.0,187.0 89.7,187.4 90.4,187.8 91.2,188.3 91.9,188.8 92.6,189.2 93.3,189.6 94.1,190.1 94.9,190.6 95.6,191.0 96.3,191.5 97.0,191.9 97.6,192.3 98.1,192.7 98.6,193.0 99.0,193.4 99.5,193.7 100.0,194.0 100.5,194.3 101.0,194.6 101.5,194.8 102.0,195.1 102.5,195.3 103.1,195.5 103.8,195.7 104.5,195.9 105.2,196.1 106.0,196.3 106.8,196.4 107.5,196.5 108.2,196.6 108.9,196.6 109.6,196.6 110.4,196.6 111.1,196.5 111.8,196.5 112.5,196.5 113.3,196.4 114.0,196.3 114.7,196.2 115.5,196.1 116.2,196.0 116.9,195.9 117.6,195.7 118.4,195.5 119.1,195.3 119.8,195.1 120.5,194.9 121.2,194.7 122.0,194.5 122.7,194.3 123.4,194.0 124.2,193.8 124.9,193.6 125.6,193.4 126.4,193.1 127.1,192.9 127.8,192.7 128.6,192.4 129.3,192.2 130.0,192.0 130.7,191.7 131.5,191.5 132.2,191.2 132.9,191.0 133.6,190.8 134.4,190.6 135.1,190.4 135.9,190.3 136.7,190.2 137.4,190.1 138.0,190.0 138.5,190.0 138.8,190.1 139.1,190.2 139.3,190.3 139.6,190.3 140.0,190.4 140.5,190.4 141.0,190.4 141.6,190.3 142.2,190.3 142.7,190.3 143.3,190.4 143.9,190.5 144.4,190.6 145.0,190.8 145.5,191.0 146.1,191.3 146.6,191.6 147.2,192.0 147.7,192.4 148.3,192.9 148.9,193.4 149.4,194.0 149.9,194.5 150.4,195.0 150.8,195.6 151.2,196.1 151.6,196.7 152.0,197.2 152.4,197.8 152.8,198.3 153.2,198.9 153.7,199.4 154.1,199.9 154.5,200.5 154.9,201.1 155.3,201.7 155.7,202.4 156.2,203.1 156.6,203.8 157.0,204.5 157.4,205.3 157.8,206.1 158.2,206.9 158.6,207.8 159.0,208.6 159.4,209.4 159.8,210.2 160.2,210.9 160.5,211.6 160.9,212.3 161.2,213.0 161.6,213.7 161.9,214.4 162.2,215.2 162.6,216.0 162.9,216.8 163.2,217.7 163.5,218.6 163.8,219.5 164.1,220.4 164.4,221.4 164.7,222.4 164.9,223.4 165.2,224.5 165.5,225.5 165.8,226.5 166.1,227.6 166.4,228.7 166.7,229.7 167.0,230.9 167.3,232.0 167.6,233.2 167.9,234.4 168.2,235.7 168.6,237.0 168.9,238.2 169.2,239.4 169.5,240.5 169.8,241.6 170.2,242.6 170.5,243.6 170.8,244.6 171.1,245.6 171.4,246.5 171.7,247.5 171.9,248.4 172.2,249.2 172.5,250.1 172.8,251.0 173.1,251.8 173.4,252.6 173.7,253.4 174.0,254.2 174.4,255.2 174.8,256.3 175.2,257.7 175.7,259.2 176.2,260.9 176.8,262.6 177.3,264.3 177.8,265.9 178.3,267.4 178.8,268.9 179.3,270.4 179.8,271.8 180.3,273.1 180.8,274.3 181.3,275.3 181.9,276.3 182.4,277.1 183.0,277.9 183.6,278.5 184.3,279.1 185.0,279.6 185.7,280.0 186.4,280.3 187.1,280.5 188.0,280.7 189.1,280.9 189.8,281.0 190.2,281.1 190.6,281.2 191.7,281.2 194.0,281.2 198.0,281.2 204.7,281.2 213.9,281.2 224.3,281.2 234.7,281.2 243.6,281.2 250.0,281.2 253.4,281.2 254.8,281.2 254.9,281.2 254.2,281.2 253.6,281.1 253.5,281.0 253.9,280.8 254.4,280.6 254.7,280.3 255.1,280.0 255.3,279.8 255.6,279.6 255.8,279.5 256.0,279.4 256.1,279.4 256.2,279.4 256.2,279.4 256.3,279.4" stroke="#0000ff" stroke-width="2.6" fill="none" stroke-linejoin="round"/>
<path d="M44.4,272.0 44.7,271.0 45.1,269.7 45.5,268.2 46.0,266.4 46.5,264.7 47.0,263.0 47.4,261.3 47.9,259.6 48.3,257.8 48.7,256.1 49.2,254.3 49.6,252.5 50.0,250.7 50.5,249.0 50.9,247.2 51.3,245.5 51.8,243.7 52.3,242.0 52.8,240.3 53.4,238.7 54.0,237.0 54.6,235.4 55.3,233.7 55.9,232.0 56.6,230.2 57.2,228.4 57.9,226.5 58.6,224.7 59.3,222.8 60.0,221.0 60.7,219.2 61.4,217.4 62.0,215.7 62.7,214.0 63.4,212.3 64.1,210.7 64.8,209.2 65.5,207.7 66.3,206.3 67.0,204.9 67.7,203.6 68.3,202.4 68.9,201.2 69.4,200.1 69.9,199.0 70.4,198.0 70.9,197.1 71.4,196.2 72.0,195.4 72.6,194.6 73.2,193.8 73.8,193.1 74.4,192.5 75.0,192.0 75.6,191.6 76.3,191.2 76.9,191.0 77.6,190.8 78.2,190.6 78.8,190.5 79.4,190.4 79.9,190.4 80.5,190.4 81.0,190.4 81.6,190.5 82.1,190.5 82.6,190.5 83.2,190.6 83.8,190.7 84.3,190.8 84.8,190.8 85.4,190.9 86.0,191.0 86.6,191.0 87.2,191.1 87.7,191.1 88.3,191.2 88.7,191.2 89.0,191.2 89.2,191.1 89.3,191.1 89.4,191.0 89.6,191.0 90.0,191.1 90.6,191.3 91.2,191.5 92.0,191.8 92.8,192.1 93.6,192.4 94.4,192.7 95.1,193.0 95.8,193.3 96.6,193.6 97.3,193.9 98.0,194.2 98.7,194.4 99.4,194.6 100.2,194.7 100.9,194.8 101.6,194.9 102.4,195.0 103.1,195.1 103.8,195.2 104.6,195.3 105.3,195.4 106.0,195.4 106.8,195.5 107.5,195.5 108.2,195.5 108.9,195.4 109.6,195.4 110.4,195.3 111.1,195.2 111.8,195.1 112.5,195.0 113.3,194.9 114.0,194.8 114.7,194.7 115.5,194.5 116.2,194.4 116.9,194.2 117.6,194.1 118.4,193.9 119.1,193.7 119.8,193.5 120.5,193.3 121.2,193.1 122.0,192.9 122.7,192.7 123.4,192.4 124.2,192.2 124.9,191.9 125.6,191.6 126.4,191.3 127.1,191.0 127.8,190.7 128.6,190.3 129.3,190.0 130.0,189.7 130.7,189.3 131.5,188.9 132.2,188.5 132.9,188.2 133.6,187.8 134.3,187.4 135.0,187.0 135.7,186.7 136.5,186.3 137.2,185.9 138.0,185.6 138.9,185.3 139.8,185.0 140.7,184.7 141.6,184.4 142.5,184.1 143.3,183.9 144.0,183.7 144.6,183.5 145.1,183.3 145.6,183.2 146.1,183.1 146.6,183.1 147.1,183.2 147.5,183.3 147.9,183.4 148.3,183.6 148.7,183.9 149.1,184.2 149.5,184.6 149.8,185.0 150.2,185.4 150.5,185.9 150.9,186.5 151.2,187.1 151.5,187.8 151.9,188.6 152.2,189.4 152.5,190.2 152.9,191.1 153.2,192.0 153.5,192.9 153.9,193.9 154.2,194.8 154.6,195.8 154.9,196.8 155.3,197.8 155.7,198.8 156.0,199.7 156.4,200.7 156.7,201.7 157.1,202.6 157.4,203.6 157.7,204.6 158.1,205.6 158.4,206.5 158.8,207.5 159.1,208.5 159.4,209.4 159.7,210.3 160.0,211.2 160.3,212.0 160.6,212.9 160.8,213.7 161.1,214.4 161.3,215.0 161.5,215.6 161.7,216.1 161.9,216.6 162.1,217.2 162.3,218.0 162.6,219.0 162.8,220.0 163.2,221.2 163.5,222.5 163.8,223.7 164.1,225.0 164.4,226.2 164.7,227.5 165.0,228.8 165.3,230.1 165.7,231.6 166.1,233.2 166.6,235.0 167.2,237.1 167.9,239.3 168.5,241.5 169.2,243.6 169.8,245.6 170.4,247.5 170.9,249.2 171.4,251.0 171.9,252.6 172.4,254.3 172.9,256.0 173.4,257.7 173.9,259.4 174.5,261.1 175.0,262.7 175.5,264.3 176.0,265.9 176.5,267.4 177.0,268.9 177.5,270.4 178.0,271.8 178.5,273.1 179.0,274.3 179.6,275.4 180.1,276.4 180.7,277.4 181.3,278.3 182.0,279.0 182.6,279.7 183.2,280.2 183.7,280.7 184.2,281.0 184.8,281.3 185.6,281.5 186.7,281.7 187.6,281.9 188.2,282.0 189.0,282.0 190.5,282.0 193.3,282.1 198.0,282.1 205.7,282.1 216.1,282.2 227.9,282.2 239.4,282.3 249.4,282.3 256.3,282.3" stroke="#ff0000" stroke-width="1.8" fill="none" stroke-linejoin="round"/>
</g>
<path d="M44.50,174.40V286.30H256.30" stroke="#858585" stroke-width="1" fill="none"/>
<path d="M85.15,286.30V284.30M127.94,286.30V284.30M170.72,286.30V284.30M213.51,286.30V284.30M256.30,286.30V284.30M44.50,187.10H46.50M44.50,234.50H46.50M44.50,282.00H46.50" stroke="#858585" stroke-width="1" fill="none"/>
<text x="85.15" y="302.20" font-size="10.5" text-anchor="middle">20</text>
<text x="127.94" y="302.20" font-size="10.5" text-anchor="middle">40</text>
<text x="170.72" y="302.20" font-size="10.5" text-anchor="middle">60</text>
<text x="213.51" y="302.20" font-size="10.5" text-anchor="middle">80</text>
<text x="256.30" y="302.20" font-size="10.5" text-anchor="middle">100</text>
<text x="39.60" y="191.70" font-size="10.5" text-anchor="end">1</text>
<text x="39.60" y="239.10" font-size="10.5" text-anchor="end">0.5</text>
<text x="39.60" y="286.60" font-size="10.5" text-anchor="end">0</text>
<text x="150.40" y="171.70" font-size="11" font-weight="bold" text-anchor="middle">GRF vertifcal</text>
<text transform="translate(19.60,230.35) rotate(-90)" font-size="11.1" text-anchor="middle">BW</text>
<g clip-path="url(#c3)">
<path d="M323.3,177.0 323.8,177.1 324.5,177.2 325.4,177.3 326.3,177.4 327.2,177.5 328.0,177.5 328.7,177.4 329.4,177.3 330.1,177.1 330.7,176.9 331.4,176.7 332.0,176.5 332.6,176.3 333.2,176.0 333.8,175.7 334.3,175.4 334.9,175.1 335.4,175.0 335.9,175.0 336.4,175.0 336.9,175.0 337.4,175.2 337.9,175.3 338.5,175.5 339.1,175.7 339.8,175.8 340.5,175.9 341.2,176.2 341.9,176.6 342.7,177.2 343.5,178.1 344.3,179.2 345.2,180.5 346.1,181.9 346.9,183.2 347.8,184.4 348.7,185.5 349.5,186.6 350.4,187.6 351.3,188.7 352.1,189.7 353.0,190.6 353.9,191.5 354.7,192.4 355.6,193.3 356.4,194.1 357.2,194.8 358.0,195.5 358.7,196.0 359.4,196.5 360.1,196.8 360.7,197.2 361.4,197.6 362.0,198.0 362.6,198.5 363.2,199.1 363.7,199.7 364.3,200.3 364.8,200.9 365.4,201.5 366.0,202.1 366.6,202.7 367.3,203.3 367.9,203.9 368.5,204.5 369.0,205.0 369.5,205.5 369.9,206.0 370.3,206.4 370.7,206.8 371.1,207.2 371.5,207.5 371.9,207.8 372.2,208.0 372.5,208.2 372.9,208.4 373.4,208.6 374.0,208.8 374.8,209.0 375.6,209.2 376.5,209.4 377.6,209.5 378.7,209.7 380.0,209.8 381.5,209.9 383.1,209.9 384.9,210.0 386.7,210.0 388.4,210.0 390.0,210.0 391.5,210.0 392.9,209.9 394.2,209.9 395.6,209.9 396.8,209.9 398.0,210.0 399.1,210.2 399.9,210.4 400.8,210.7 401.7,211.0 402.7,211.5 404.0,212.0 405.6,212.7 407.5,213.5 409.6,214.3 411.7,215.2 413.7,216.1 415.4,216.9 416.9,217.6 418.3,218.3 419.6,219.0 420.8,219.6 421.9,220.2 423.0,220.7 424.0,221.2 424.9,221.6 425.8,221.9 426.6,222.3 427.3,222.5 428.0,222.8 428.6,223.0 429.1,223.3 429.5,223.4 429.9,223.6 430.2,223.6 430.6,223.6 430.9,223.5 431.2,223.5 431.5,223.3 431.8,223.0 432.1,222.5 432.5,221.7 433.0,220.5 433.6,219.0 434.2,217.2 434.9,215.4 435.6,213.5 436.2,211.8 436.8,210.2 437.4,208.5 438.0,206.9 438.7,205.2 439.3,203.6 439.9,201.9 440.5,200.2 441.2,198.5 441.8,196.8 442.4,195.2 443.0,193.5 443.6,192.0 444.1,190.5 444.6,189.0 445.1,187.6 445.6,186.3 446.0,185.1 446.5,184.0 447.0,183.1 447.5,182.3 447.9,181.7 448.4,181.1 448.8,180.6 449.1,180.2 449.3,179.8 449.4,179.5 449.5,179.2 449.6,179.0 449.7,178.8 450.0,178.8 450.4,178.9 451.0,179.1 451.6,179.3 452.2,179.6 452.9,179.9 453.6,180.2 454.3,180.4 454.9,180.7 455.6,180.9 456.3,181.1 457.2,181.3 458.2,181.5 459.5,181.6 460.9,181.7 462.5,181.8 464.1,181.9 465.7,181.9 467.3,182.0 468.8,182.1 470.2,182.2 471.6,182.3 473.0,182.3 474.6,182.4 476.4,182.5 478.3,182.6 480.3,182.7 482.4,182.7 484.7,182.8 487.2,182.9 490.0,182.9 493.2,182.9 496.9,182.9 500.9,182.9 504.8,182.9 508.6,182.8 512.0,182.8 515.2,182.8 518.3,182.8 521.2,182.8 523.8,182.8 526.1,182.7 528.0,182.4 529.3,181.9 530.1,181.3 530.5,180.5 530.7,179.7 530.9,179.0 531.2,178.4 531.6,177.8 531.9,177.2 532.3,176.7 532.6,176.3 532.9,176.0 533.2,176.0 533.6,176.3 534.0,177.0 534.4,177.8 534.8,178.7 535.2,179.5 535.4,180.0 535.4,195.2 535.3,195.5 535.2,196.1 535.0,196.7 534.9,197.2 534.7,197.5 534.4,197.6 534.1,197.3 533.8,196.7 533.4,195.8 533.0,195.0 532.5,194.2 532.0,193.6 531.6,193.2 531.2,192.8 530.9,192.6 530.3,192.3 529.4,192.1 528.0,192.0 526.0,191.9 523.6,191.9 520.8,191.9 517.8,191.9 514.8,191.9 512.0,192.0 509.3,192.1 506.6,192.2 503.9,192.3 501.3,192.4 498.6,192.6 496.0,192.8 493.4,193.1 490.7,193.4 488.0,193.8 485.5,194.2 483.1,194.5 480.9,194.7 479.0,194.8 477.4,194.7 476.0,194.6 474.6,194.4 473.2,194.3 471.8,194.3 470.2,194.4 468.5,194.5 466.8,194.6 465.3,194.8 463.8,195.0 462.7,195.2 461.9,195.4 461.3,195.7 461.0,196.0 460.7,196.3 460.4,196.7 460.0,197.0 459.6,197.3 459.1,197.6 458.7,197.8 458.3,198.2 457.8,198.7 457.3,199.4 456.7,200.3 456.1,201.4 455.4,202.7 454.8,204.0 454.1,205.5 453.5,206.9 452.9,208.4 452.4,209.9 451.9,211.5 451.4,213.2 450.9,215.0 450.4,216.8 449.9,218.7 449.4,220.7 448.9,222.8 448.4,225.0 447.9,227.1 447.3,229.2 446.7,231.3 446.1,233.4 445.5,235.5 444.8,237.5 444.2,239.6 443.6,241.6 443.0,243.5 442.5,245.3 442.0,247.1 441.5,249.0 441.0,250.9 440.5,253.0 440.1,255.4 439.7,257.9 439.3,260.6 439.0,263.3 438.6,265.8 438.2,268.2 437.8,270.4 437.3,272.5 436.9,274.5 436.4,276.4 435.9,278.2 435.4,279.7 434.8,281.1 434.2,282.2 433.6,283.3 433.0,284.1 432.3,284.8 431.6,285.4 430.9,285.8 430.2,286.0 429.4,286.1 428.6,286.0 427.8,285.8 426.8,285.4 425.7,284.8 424.5,284.1 423.2,283.3 421.8,282.2 420.5,281.1 419.2,279.7 417.9,278.1 416.7,276.3 415.4,274.3 414.1,272.2 412.9,270.2 411.6,268.2 410.3,266.2 409.0,264.1 407.7,262.0 406.4,260.0 405.2,258.3 404.0,256.8 402.9,255.7 401.8,254.9 400.8,254.2 399.8,253.8 398.8,253.4 397.7,253.1 396.5,252.9 395.3,252.9 394.1,253.0 392.8,253.1 391.6,253.2 390.3,253.1 389.0,252.8 387.7,252.4 386.4,251.9 385.1,251.4 383.9,251.0 382.8,250.8 381.8,250.8 381.0,251.1 380.2,251.4 379.5,251.7 378.8,252.1 378.0,252.3 377.2,252.5 376.3,252.6 375.5,252.7 374.7,252.8 373.8,252.8 373.0,252.8 372.2,252.7 371.3,252.5 370.5,252.2 369.7,252.0 368.8,251.7 368.0,251.5 367.2,251.3 366.3,251.2 365.5,251.1 364.7,250.9 363.8,250.8 363.0,250.5 362.1,250.2 361.2,249.9 360.3,249.5 359.4,249.1 358.7,248.6 358.0,248.0 357.5,247.4 357.2,246.7 357.0,245.9 356.7,245.1 356.4,244.1 356.0,243.0 355.4,241.7 354.8,240.2 354.0,238.6 353.2,236.9 352.5,235.4 351.7,234.0 350.9,232.8 350.1,231.8 349.3,230.8 348.5,229.9 347.7,229.0 347.0,228.0 346.4,227.0 345.8,226.0 345.2,225.0 344.7,224.0 344.2,223.0 343.7,222.0 343.3,221.1 342.9,220.2 342.6,219.3 342.3,218.4 342.0,217.5 341.6,216.4 341.1,215.2 340.6,213.8 340.1,212.4 339.6,211.0 339.0,209.5 338.5,208.2 338.0,206.9 337.5,205.5 336.9,204.2 336.4,203.0 335.9,201.9 335.4,200.9 334.9,200.1 334.4,199.4 333.9,198.8 333.4,198.3 332.9,198.0 332.3,197.8 331.7,197.9 331.0,198.2 330.4,198.7 329.7,199.2 328.9,199.6 328.2,199.9 327.4,200.0 326.4,200.1 325.5,200.1 324.6,200.0 323.8,200.0 323.3,200.0Z" fill="#d8d8fb"/>
<path d="M323.3,173.0 323.8,173.0 324.6,173.0 325.5,173.0 326.4,173.0 327.4,173.0 328.2,173.0 328.9,173.0 329.7,173.1 330.4,173.2 331.0,173.2 331.7,173.3 332.3,173.5 332.9,173.7 333.4,174.0 333.9,174.3 334.4,174.6 334.9,174.9 335.4,175.1 335.9,175.2 336.4,175.3 336.9,175.3 337.5,175.3 338.0,175.4 338.5,175.6 339.0,175.9 339.5,176.3 340.1,176.7 340.6,177.1 341.1,177.7 341.6,178.2 342.1,178.8 342.6,179.5 343.2,180.2 343.7,180.9 344.2,181.6 344.7,182.3 345.2,183.0 345.7,183.7 346.2,184.4 346.8,185.1 347.3,185.8 347.8,186.5 348.3,187.1 348.8,187.8 349.3,188.4 349.8,189.0 350.3,189.6 350.9,190.1 351.5,190.6 352.2,191.0 352.9,191.4 353.7,191.8 354.4,192.2 355.1,192.7 355.8,193.2 356.5,193.8 357.2,194.3 357.9,194.9 358.6,195.4 359.2,195.8 359.7,196.1 360.2,196.3 360.6,196.5 361.1,196.7 361.5,196.9 362.0,197.3 362.5,197.8 363.1,198.3 363.6,198.9 364.2,199.6 364.8,200.3 365.4,201.0 366.0,201.8 366.7,202.6 367.4,203.5 368.0,204.3 368.6,205.1 369.2,205.9 369.7,206.6 370.1,207.3 370.5,208.0 370.9,208.6 371.2,209.1 371.6,209.6 371.9,210.0 372.3,210.4 372.6,210.7 372.9,211.0 373.2,211.2 373.5,211.3 373.8,211.3 373.9,211.1 374.1,210.9 374.4,210.7 374.8,210.4 375.4,210.3 376.3,210.2 377.5,210.2 378.7,210.2 380.1,210.3 381.5,210.3 382.8,210.3 384.0,210.3 385.3,210.3 386.6,210.3 387.8,210.3 389.1,210.3 390.3,210.3 391.6,210.3 392.8,210.3 394.1,210.2 395.3,210.2 396.5,210.2 397.7,210.3 398.8,210.4 399.9,210.6 401.0,210.8 402.0,211.0 403.0,211.1 404.0,211.2 405.0,211.2 405.9,211.1 406.9,210.9 407.8,210.7 408.8,210.5 409.7,210.3 410.6,210.0 411.6,209.6 412.5,209.1 413.5,208.7 414.4,208.5 415.4,208.4 416.3,208.5 417.3,208.8 418.2,209.2 419.2,209.7 420.1,210.4 421.1,211.2 422.1,212.2 423.1,213.5 424.1,214.9 425.0,216.3 426.0,217.6 426.8,218.8 427.5,219.9 428.2,220.9 428.8,221.9 429.4,222.7 430.0,223.3 430.6,223.6 431.2,223.6 431.9,223.4 432.5,223.0 433.1,222.4 433.8,221.7 434.4,220.7 435.0,219.5 435.7,218.0 436.3,216.4 436.9,214.6 437.6,212.9 438.2,211.2 438.8,209.6 439.5,207.9 440.2,206.3 440.8,204.7 441.4,203.1 442.0,201.7 442.5,200.4 443.1,199.2 443.6,198.1 444.0,197.0 444.5,196.0 445.0,195.0 445.5,194.0 446.0,193.1 446.4,192.2 446.9,191.4 447.5,190.7 448.0,190.0 448.6,189.4 449.1,189.0 449.7,188.6 450.3,188.2 451.0,187.9 451.8,187.5 452.7,187.1 453.6,186.8 454.7,186.4 455.8,186.1 456.9,185.8 458.2,185.6 459.4,185.5 460.5,185.5 461.7,185.5 463.2,185.5 465.0,185.6 467.3,185.6 470.0,185.6 473.0,185.6 476.4,185.5 480.2,185.5 484.7,185.5 490.0,185.5 496.8,185.5 505.1,185.5 514.1,185.5 522.8,185.6 530.2,185.6 535.4,185.6 535.4,188.5 530.2,188.5 522.8,188.6 514.1,188.7 505.1,188.7 496.8,188.8 490.0,189.0 484.7,189.2 480.2,189.5 476.3,189.8 472.9,190.1 469.9,190.4 467.3,190.6 465.2,190.8 463.6,190.9 462.5,191.0 461.7,191.1 460.9,191.3 460.0,191.5 459.1,191.8 458.3,192.1 457.5,192.5 456.8,193.0 456.2,193.4 455.5,193.8 454.8,194.2 454.2,194.6 453.6,195.0 453.0,195.5 452.5,195.9 452.0,196.5 451.6,197.1 451.2,197.8 450.8,198.5 450.5,199.2 450.2,200.1 449.8,201.0 449.4,202.0 449.0,203.0 448.7,204.2 448.3,205.4 447.9,206.6 447.5,208.0 447.1,209.5 446.7,211.1 446.3,212.7 445.8,214.5 445.4,216.2 445.0,218.0 444.6,219.8 444.1,221.7 443.7,223.6 443.2,225.5 442.8,227.4 442.4,229.2 442.0,230.9 441.6,232.5 441.3,234.1 440.9,235.7 440.5,237.6 440.1,239.7 439.7,242.2 439.2,245.0 438.7,248.0 438.3,251.0 437.8,254.0 437.3,256.8 436.8,259.5 436.3,262.3 435.9,265.0 435.4,267.6 434.9,269.9 434.4,272.0 434.0,273.8 433.5,275.4 433.1,276.8 432.7,278.0 432.2,278.9 431.6,279.7 430.9,280.2 430.2,280.5 429.4,280.5 428.5,280.4 427.7,280.1 426.8,279.7 425.9,279.1 425.0,278.3 424.0,277.3 423.0,276.3 422.1,275.1 421.1,274.0 420.1,272.8 419.2,271.6 418.2,270.3 417.3,268.9 416.3,267.6 415.4,266.3 414.4,265.0 413.5,263.7 412.5,262.4 411.6,261.1 410.6,259.9 409.7,258.7 408.7,257.6 407.8,256.6 406.8,255.6 405.9,254.7 404.9,253.8 404.0,253.0 403.1,252.2 402.3,251.5 401.5,250.9 400.7,250.3 399.8,249.7 398.9,249.3 397.9,248.9 396.9,248.7 395.9,248.5 394.8,248.3 393.7,248.2 392.7,248.1 391.7,248.0 390.6,248.0 389.5,247.9 388.5,248.0 387.5,248.0 386.5,248.1 385.6,248.2 384.7,248.4 383.9,248.5 383.1,248.8 382.3,249.0 381.6,249.3 380.9,249.7 380.3,250.1 379.8,250.6 379.2,251.1 378.6,251.5 377.9,251.8 377.1,252.0 376.3,252.2 375.5,252.3 374.6,252.4 373.7,252.4 372.9,252.3 372.1,252.1 371.2,251.8 370.4,251.5 369.6,251.1 368.7,250.7 367.9,250.3 367.1,249.9 366.3,249.5 365.4,249.1 364.6,248.6 363.8,248.1 363.0,247.5 362.1,246.8 361.2,245.9 360.3,245.0 359.4,244.1 358.7,243.2 358.0,242.5 357.5,242.0 357.2,241.6 356.9,241.3 356.7,241.0 356.4,240.6 356.0,240.0 355.4,239.2 354.8,238.3 354.1,237.2 353.4,236.1 352.7,235.0 352.0,234.0 351.3,233.0 350.6,232.0 350.0,231.0 349.3,230.0 348.6,229.0 348.0,228.0 347.4,227.0 346.8,226.0 346.2,225.0 345.7,224.0 345.2,223.0 344.7,222.0 344.3,221.0 344.0,219.9 343.7,218.9 343.4,217.8 343.1,216.7 342.7,215.4 342.2,214.0 341.7,212.4 341.2,210.8 340.7,209.1 340.1,207.6 339.6,206.1 339.1,204.7 338.6,203.4 338.1,202.1 337.5,200.9 337.0,199.8 336.5,198.9 336.0,198.1 335.5,197.4 334.9,196.8 334.4,196.4 333.9,196.0 333.4,195.8 332.9,195.7 332.4,195.8 331.9,196.0 331.3,196.2 330.8,196.5 330.3,196.8 329.8,197.1 329.3,197.5 328.8,197.8 328.3,198.2 327.8,198.6 327.2,198.9 326.6,199.2 325.8,199.4 325.1,199.6 324.3,199.8 323.7,199.9 323.3,200.0Z" fill="#ffd5d6"/>
<g clip-path="url(#bb3)"><path d="M323.3,173.0 323.8,173.0 324.6,173.0 325.5,173.0 326.4,173.0 327.4,173.0 328.2,173.0 328.9,173.0 329.7,173.1 330.4,173.2 331.0,173.2 331.7,173.3 332.3,173.5 332.9,173.7 333.4,174.0 333.9,174.3 334.4,174.6 334.9,174.9 335.4,175.1 335.9,175.2 336.4,175.3 336.9,175.3 337.5,175.3 338.0,175.4 338.5,175.6 339.0,175.9 339.5,176.3 340.1,176.7 340.6,177.1 341.1,177.7 341.6,178.2 342.1,178.8 342.6,179.5 343.2,180.2 343.7,180.9 344.2,181.6 344.7,182.3 345.2,183.0 345.7,183.7 346.2,184.4 346.8,185.1 347.3,185.8 347.8,186.5 348.3,187.1 348.8,187.8 349.3,188.4 349.8,189.0 350.3,189.6 350.9,190.1 351.5,190.6 352.2,191.0 352.9,191.4 353.7,191.8 354.4,192.2 355.1,192.7 355.8,193.2 356.5,193.8 357.2,194.3 357.9,194.9 358.6,195.4 359.2,195.8 359.7,196.1 360.2,196.3 360.6,196.5 361.1,196.7 361.5,196.9 362.0,197.3 362.5,197.8 363.1,198.3 363.6,198.9 364.2,199.6 364.8,200.3 365.4,201.0 366.0,201.8 366.7,202.6 367.4,203.5 368.0,204.3 368.6,205.1 369.2,205.9 369.7,206.6 370.1,207.3 370.5,208.0 370.9,208.6 371.2,209.1 371.6,209.6 371.9,210.0 372.3,210.4 372.6,210.7 372.9,211.0 373.2,211.2 373.5,211.3 373.8,211.3 373.9,211.1 374.1,210.9 374.4,210.7 374.8,210.4 375.4,210.3 376.3,210.2 377.5,210.2 378.7,210.2 380.1,210.3 381.5,210.3 382.8,210.3 384.0,210.3 385.3,210.3 386.6,210.3 387.8,210.3 389.1,210.3 390.3,210.3 391.6,210.3 392.8,210.3 394.1,210.2 395.3,210.2 396.5,210.2 397.7,210.3 398.8,210.4 399.9,210.6 401.0,210.8 402.0,211.0 403.0,211.1 404.0,211.2 405.0,211.2 405.9,211.1 406.9,210.9 407.8,210.7 408.8,210.5 409.7,210.3 410.6,210.0 411.6,209.6 412.5,209.1 413.5,208.7 414.4,208.5 415.4,208.4 416.3,208.5 417.3,208.8 418.2,209.2 419.2,209.7 420.1,210.4 421.1,211.2 422.1,212.2 423.1,213.5 424.1,214.9 425.0,216.3 426.0,217.6 426.8,218.8 427.5,219.9 428.2,220.9 428.8,221.9 429.4,222.7 430.0,223.3 430.6,223.6 431.2,223.6 431.9,223.4 432.5,223.0 433.1,222.4 433.8,221.7 434.4,220.7 435.0,219.5 435.7,218.0 436.3,216.4 436.9,214.6 437.6,212.9 438.2,211.2 438.8,209.6 439.5,207.9 440.2,206.3 440.8,204.7 441.4,203.1 442.0,201.7 442.5,200.4 443.1,199.2 443.6,198.1 444.0,197.0 444.5,196.0 445.0,195.0 445.5,194.0 446.0,193.1 446.4,192.2 446.9,191.4 447.5,190.7 448.0,190.0 448.6,189.4 449.1,189.0 449.7,188.6 450.3,188.2 451.0,187.9 451.8,187.5 452.7,187.1 453.6,186.8 454.7,186.4 455.8,186.1 456.9,185.8 458.2,185.6 459.4,185.5 460.5,185.5 461.7,185.5 463.2,185.5 465.0,185.6 467.3,185.6 470.0,185.6 473.0,185.6 476.4,185.5 480.2,185.5 484.7,185.5 490.0,185.5 496.8,185.5 505.1,185.5 514.1,185.5 522.8,185.6 530.2,185.6 535.4,185.6 535.4,188.5 530.2,188.5 522.8,188.6 514.1,188.7 505.1,188.7 496.8,188.8 490.0,189.0 484.7,189.2 480.2,189.5 476.3,189.8 472.9,190.1 469.9,190.4 467.3,190.6 465.2,190.8 463.6,190.9 462.5,191.0 461.7,191.1 460.9,191.3 460.0,191.5 459.1,191.8 458.3,192.1 457.5,192.5 456.8,193.0 456.2,193.4 455.5,193.8 454.8,194.2 454.2,194.6 453.6,195.0 453.0,195.5 452.5,195.9 452.0,196.5 451.6,197.1 451.2,197.8 450.8,198.5 450.5,199.2 450.2,200.1 449.8,201.0 449.4,202.0 449.0,203.0 448.7,204.2 448.3,205.4 447.9,206.6 447.5,208.0 447.1,209.5 446.7,211.1 446.3,212.7 445.8,214.5 445.4,216.2 445.0,218.0 444.6,219.8 444.1,221.7 443.7,223.6 443.2,225.5 442.8,227.4 442.4,229.2 442.0,230.9 441.6,232.5 441.3,234.1 440.9,235.7 440.5,237.6 440.1,239.7 439.7,242.2 439.2,245.0 438.7,248.0 438.3,251.0 437.8,254.0 437.3,256.8 436.8,259.5 436.3,262.3 435.9,265.0 435.4,267.6 434.9,269.9 434.4,272.0 434.0,273.8 433.5,275.4 433.1,276.8 432.7,278.0 432.2,278.9 431.6,279.7 430.9,280.2 430.2,280.5 429.4,280.5 428.5,280.4 427.7,280.1 426.8,279.7 425.9,279.1 425.0,278.3 424.0,277.3 423.0,276.3 422.1,275.1 421.1,274.0 420.1,272.8 419.2,271.6 418.2,270.3 417.3,268.9 416.3,267.6 415.4,266.3 414.4,265.0 413.5,263.7 412.5,262.4 411.6,261.1 410.6,259.9 409.7,258.7 408.7,257.6 407.8,256.6 406.8,255.6 405.9,254.7 404.9,253.8 404.0,253.0 403.1,252.2 402.3,251.5 401.5,250.9 400.7,250.3 399.8,249.7 398.9,249.3 397.9,248.9 396.9,248.7 395.9,248.5 394.8,248.3 393.7,248.2 392.7,248.1 391.7,248.0 390.6,248.0 389.5,247.9 388.5,248.0 387.5,248.0 386.5,248.1 385.6,248.2 384.7,248.4 383.9,248.5 383.1,248.8 382.3,249.0 381.6,249.3 380.9,249.7 380.3,250.1 379.8,250.6 379.2,251.1 378.6,251.5 377.9,251.8 377.1,252.0 376.3,252.2 375.5,252.3 374.6,252.4 373.7,252.4 372.9,252.3 372.1,252.1 371.2,251.8 370.4,251.5 369.6,251.1 368.7,250.7 367.9,250.3 367.1,249.9 366.3,249.5 365.4,249.1 364.6,248.6 363.8,248.1 363.0,247.5 362.1,246.8 361.2,245.9 360.3,245.0 359.4,244.1 358.7,243.2 358.0,242.5 357.5,242.0 357.2,241.6 356.9,241.3 356.7,241.0 356.4,240.6 356.0,240.0 355.4,239.2 354.8,238.3 354.1,237.2 353.4,236.1 352.7,235.0 352.0,234.0 351.3,233.0 350.6,232.0 350.0,231.0 349.3,230.0 348.6,229.0 348.0,228.0 347.4,227.0 346.8,226.0 346.2,225.0 345.7,224.0 345.2,223.0 344.7,222.0 344.3,221.0 344.0,219.9 343.7,218.9 343.4,217.8 343.1,216.7 342.7,215.4 342.2,214.0 341.7,212.4 341.2,210.8 340.7,209.1 340.1,207.6 339.6,206.1 339.1,204.7 338.6,203.4 338.1,202.1 337.5,200.9 337.0,199.8 336.5,198.9 336.0,198.1 335.5,197.4 334.9,196.8 334.4,196.4 333.9,196.0 333.4,195.8 332.9,195.7 332.4,195.8 331.9,196.0 331.3,196.2 330.8,196.5 330.3,196.8 329.8,197.1 329.3,197.5 328.8,197.8 328.3,198.2 327.8,198.6 327.2,198.9 326.6,199.2 325.8,199.4 325.1,199.6 324.3,199.8 323.7,199.9 323.3,200.0Z" fill="#e9b8d9"/></g>
<path d="M364.01,174.40V286.30M406.85,174.40V286.30M449.70,174.40V286.30M492.55,174.40V286.30M535.40,174.40V286.30M323.30,187.20H535.40M323.30,208.70H535.40M323.30,230.50H535.40M323.30,252.10H535.40M323.30,273.70H535.40" stroke="rgba(0,0,0,0.075)" stroke-width="1" fill="none"/>
<path d="M323.3,192.1 323.6,192.1 324.0,192.2 324.5,192.3 325.0,192.3 325.6,192.2 326.1,192.1 326.6,191.8 327.1,191.4 327.7,191.0 328.2,190.5 328.7,190.0 329.2,189.6 329.7,189.2 330.2,188.8 330.6,188.4 331.1,188.1 331.6,187.8 332.0,187.6 332.4,187.5 332.8,187.5 333.2,187.5 333.7,187.6 334.1,187.8 334.5,188.0 334.9,188.3 335.4,188.7 335.8,189.2 336.3,189.8 336.8,190.4 337.3,191.0 337.8,191.7 338.4,192.5 338.9,193.3 339.5,194.1 340.0,195.0 340.6,195.9 341.2,196.8 341.7,197.8 342.3,198.8 342.9,199.9 343.4,200.8 343.9,201.7 344.4,202.5 344.8,203.2 345.2,203.8 345.6,204.5 346.0,205.1 346.4,205.8 346.8,206.5 347.2,207.2 347.6,207.9 348.0,208.6 348.4,209.3 348.9,210.0 349.4,210.7 349.9,211.4 350.4,212.1 351.0,212.7 351.6,213.4 352.2,214.1 352.8,214.8 353.5,215.5 354.2,216.2 354.9,216.8 355.6,217.5 356.3,218.2 357.0,218.9 357.6,219.6 358.2,220.2 358.9,220.9 359.5,221.6 360.2,222.2 360.9,222.8 361.6,223.4 362.3,224.0 363.0,224.5 363.7,225.1 364.4,225.6 365.1,226.1 365.8,226.6 366.6,227.1 367.3,227.6 368.0,228.1 368.7,228.5 369.3,228.9 369.9,229.3 370.5,229.6 371.0,229.9 371.7,230.2 372.4,230.4 373.2,230.6 374.1,230.7 375.1,230.8 376.1,230.9 377.1,231.0 378.2,231.1 379.3,231.2 380.5,231.3 381.8,231.3 383.0,231.4 384.3,231.4 385.5,231.5 386.7,231.6 388.0,231.6 389.2,231.6 390.4,231.7 391.6,231.7 392.7,231.8 393.7,231.9 394.7,232.0 395.6,232.1 396.4,232.3 397.2,232.4 398.0,232.6 398.7,232.8 399.4,232.9 400.0,233.1 400.6,233.3 401.3,233.5 401.9,233.8 402.6,234.1 403.2,234.4 403.9,234.8 404.6,235.2 405.2,235.6 405.9,236.1 406.6,236.6 407.2,237.2 407.9,237.8 408.5,238.4 409.2,239.1 409.8,239.7 410.4,240.3 411.1,241.0 411.8,241.7 412.4,242.3 413.1,243.0 413.7,243.6 414.3,244.2 415.0,244.8 415.6,245.4 416.3,246.0 416.9,246.5 417.6,247.1 418.3,247.7 418.9,248.2 419.6,248.8 420.3,249.3 420.9,249.8 421.6,250.3 422.3,250.8 422.9,251.3 423.6,251.8 424.2,252.2 424.9,252.6 425.5,253.0 426.2,253.3 426.8,253.6 427.5,253.8 428.2,254.0 428.8,254.2 429.4,254.2 430.0,254.2 430.5,254.1 431.0,253.9 431.6,253.7 432.1,253.4 432.6,253.0 433.1,252.6 433.7,252.1 434.2,251.5 434.8,250.8 435.3,250.1 435.7,249.2 436.1,248.2 436.4,247.1 436.6,245.9 436.9,244.6 437.2,243.2 437.6,241.6 438.1,239.8 438.7,237.8 439.3,235.7 439.9,233.5 440.6,231.3 441.2,229.2 441.8,227.1 442.4,225.1 443.0,223.0 443.7,220.9 444.3,218.9 444.9,216.8 445.5,214.7 446.2,212.4 446.9,210.2 447.5,208.0 448.1,206.1 448.6,204.4 449.0,203.1 449.3,202.0 449.5,201.2 449.7,200.5 450.0,199.8 450.2,199.0 450.5,198.2 450.7,197.4 450.9,196.6 451.2,195.9 451.5,195.2 451.8,194.5 452.2,193.8 452.6,193.1 453.0,192.4 453.5,191.8 454.0,191.3 454.5,190.8 455.0,190.4 455.6,190.2 456.2,189.9 456.9,189.8 457.5,189.6 458.2,189.5 458.9,189.4 459.5,189.3 460.1,189.2 460.8,189.2 461.7,189.1 462.7,189.1 464.0,189.1 465.4,189.1 467.0,189.1 468.6,189.1 470.2,189.1 471.8,189.1 473.2,189.1 474.6,189.1 476.0,189.0 477.4,189.0 479.0,189.0 480.9,188.9 483.1,188.8 485.5,188.8 488.0,188.7 490.7,188.6 493.4,188.5 496.0,188.4 498.7,188.3 501.4,188.2 504.2,188.0 506.9,187.9 509.6,187.7 512.0,187.6 514.3,187.5 516.5,187.3 518.6,187.2 520.6,187.1 522.4,187.0 524.0,186.8 525.3,186.6 526.5,186.4 527.4,186.2 528.2,186.0 528.9,185.8 529.6,185.6 530.2,185.4 530.7,185.3 531.0,185.2 531.3,185.1 531.7,185.0 532.0,185.0 532.4,185.1 532.7,185.1 533.1,185.3 533.4,185.5 533.7,185.7 534.0,186.0 534.2,186.4 534.4,186.9 534.5,187.4 534.6,188.0 534.7,188.5 534.8,188.8 534.9,189.0 535.0,189.1 535.1,189.2 535.3,189.2 535.3,189.2 535.4,189.2" stroke="#0000ff" stroke-width="2.6" fill="none" stroke-linejoin="round"/>
<path d="M323.3,189.6 323.6,189.4 324.0,189.1 324.5,188.7 325.0,188.3 325.6,187.9 326.1,187.5 326.6,187.1 327.1,186.7 327.6,186.3 328.2,186.0 328.7,185.7 329.2,185.4 329.7,185.2 330.2,185.0 330.8,184.9 331.3,184.9 331.8,184.8 332.3,184.9 332.8,185.0 333.3,185.2 333.9,185.4 334.4,185.7 334.9,186.1 335.4,186.5 335.9,187.0 336.4,187.5 336.9,188.1 337.5,188.7 338.0,189.4 338.5,190.1 339.0,190.9 339.5,191.7 340.1,192.5 340.6,193.4 341.1,194.3 341.6,195.2 342.1,196.1 342.6,196.9 343.2,197.8 343.7,198.6 344.2,199.5 344.7,200.4 345.2,201.3 345.7,202.3 346.2,203.3 346.8,204.3 347.3,205.2 347.8,206.1 348.3,206.9 348.8,207.8 349.4,208.6 349.9,209.3 350.4,210.0 350.9,210.7 351.4,211.3 351.9,211.9 352.4,212.4 353.0,212.9 353.5,213.4 354.0,213.8 354.5,214.2 355.0,214.5 355.5,214.8 356.0,215.1 356.5,215.4 357.1,215.8 357.8,216.2 358.5,216.7 359.2,217.2 360.0,217.7 360.7,218.2 361.3,218.6 361.8,219.0 362.2,219.4 362.5,219.7 362.8,220.1 363.2,220.5 363.6,220.9 364.1,221.4 364.8,221.9 365.4,222.5 366.1,223.1 366.7,223.6 367.3,224.2 367.8,224.8 368.4,225.3 368.8,225.9 369.3,226.4 369.8,227.0 370.2,227.5 370.6,228.0 371.0,228.6 371.3,229.1 371.7,229.7 372.0,230.1 372.4,230.5 372.7,230.8 373.1,231.1 373.4,231.3 373.7,231.5 374.1,231.6 374.5,231.6 374.9,231.6 375.4,231.5 375.9,231.3 376.4,231.1 376.9,230.9 377.5,230.7 378.1,230.5 378.8,230.2 379.5,230.0 380.2,229.7 381.0,229.5 381.8,229.3 382.7,229.1 383.6,228.9 384.6,228.8 385.6,228.7 386.6,228.6 387.6,228.5 388.6,228.5 389.6,228.5 390.6,228.6 391.6,228.6 392.6,228.7 393.5,228.8 394.3,228.9 395.1,229.0 395.9,229.1 396.6,229.2 397.3,229.3 398.0,229.5 398.7,229.7 399.3,229.9 400.0,230.2 400.6,230.4 401.3,230.7 401.9,231.0 402.6,231.3 403.2,231.6 403.9,232.0 404.6,232.3 405.2,232.7 405.9,233.0 406.5,233.3 407.2,233.7 407.8,234.0 408.4,234.3 409.1,234.7 409.8,235.0 410.6,235.3 411.4,235.6 412.2,235.9 413.0,236.2 413.8,236.6 414.5,236.9 415.1,237.2 415.6,237.6 416.1,237.9 416.6,238.3 417.0,238.8 417.6,239.3 418.2,240.0 418.9,240.7 419.6,241.6 420.2,242.4 420.9,243.2 421.6,244.0 422.3,244.7 422.9,245.4 423.6,246.1 424.2,246.7 424.9,247.3 425.5,247.9 426.2,248.5 426.9,249.0 427.5,249.5 428.2,250.0 428.8,250.4 429.4,250.7 429.9,251.0 430.3,251.3 430.7,251.5 431.1,251.6 431.4,251.6 431.8,251.5 432.2,251.2 432.6,250.7 432.9,250.1 433.3,249.5 433.7,248.7 434.1,247.9 434.5,247.1 434.9,246.2 435.2,245.3 435.6,244.3 436.0,243.0 436.5,241.6 437.0,239.9 437.5,237.9 438.1,235.8 438.7,233.6 439.3,231.3 439.9,229.2 440.5,227.1 441.1,225.1 441.7,223.0 442.4,220.9 443.0,218.9 443.6,216.8 444.2,214.7 444.9,212.5 445.5,210.3 446.2,208.1 446.8,206.1 447.3,204.4 447.8,202.9 448.1,201.6 448.5,200.5 448.8,199.5 449.1,198.5 449.5,197.5 449.9,196.5 450.2,195.6 450.6,194.8 450.9,194.0 451.3,193.2 451.8,192.5 452.3,191.8 452.9,191.2 453.5,190.7 454.2,190.1 454.8,189.7 455.5,189.3 456.2,189.0 456.8,188.8 457.5,188.6 458.3,188.5 459.1,188.3 460.0,188.2 461.0,188.1 462.2,187.9 463.4,187.8 464.6,187.7 465.9,187.7 467.3,187.6 468.6,187.6 469.8,187.6 471.1,187.6 472.5,187.6 474.3,187.5 476.4,187.5 479.1,187.4 482.3,187.3 485.8,187.2 489.3,187.0 492.8,186.9 496.0,186.8 498.9,186.7 501.6,186.7 504.2,186.7 506.8,186.6 509.4,186.6 512.0,186.6 514.8,186.6 517.7,186.5 520.5,186.5 523.3,186.4 525.8,186.4 528.0,186.4 529.8,186.4 531.4,186.5 532.7,186.6 533.8,186.7 534.7,186.7 535.4,186.8" stroke="#ff0000" stroke-width="1.8" fill="none" stroke-linejoin="round"/>
</g>
<path d="M323.30,174.40V286.30H535.40" stroke="#858585" stroke-width="1" fill="none"/>
<path d="M364.01,286.30V284.30M406.85,286.30V284.30M449.70,286.30V284.30M492.55,286.30V284.30M535.40,286.30V284.30M323.30,187.20H325.30M323.30,208.70H325.30M323.30,230.50H325.30M323.30,252.10H325.30M323.30,273.70H325.30" stroke="#858585" stroke-width="1" fill="none"/>
<text x="364.01" y="302.20" font-size="10.5" text-anchor="middle">20</text>
<text x="406.85" y="302.20" font-size="10.5" text-anchor="middle">40</text>
<text x="449.70" y="302.20" font-size="10.5" text-anchor="middle">60</text>
<text x="492.55" y="302.20" font-size="10.5" text-anchor="middle">80</text>
<text x="535.40" y="302.20" font-size="10.5" text-anchor="middle">100</text>
<text x="318.40" y="191.80" font-size="10.5" text-anchor="end">0</text>
<text x="318.40" y="213.30" font-size="10.5" text-anchor="end"><tspan font-size="12">−</tspan><tspan dx="1.1">0.05</tspan></text>
<text x="318.40" y="235.10" font-size="10.5" text-anchor="end"><tspan font-size="12">−</tspan><tspan dx="1.1">0.1</tspan></text>
<text x="318.40" y="256.70" font-size="10.5" text-anchor="end"><tspan font-size="12">−</tspan><tspan dx="1.1">0.15</tspan></text>
<text x="318.40" y="278.30" font-size="10.5" text-anchor="end"><tspan font-size="12">−</tspan><tspan dx="1.1">0.2</tspan></text>
<text x="429.35" y="171.70" font-size="11" font-weight="bold" text-anchor="middle">GRM tranversal</text>
<text transform="translate(282.80,230.35) rotate(-90)" font-size="11.1" text-anchor="middle">Nm/kg</text>
<g clip-path="url(#c4)">
<path d="M44.4,415.5 44.6,416.0 44.8,416.6 45.1,417.4 45.4,418.2 45.8,419.0 46.1,419.6 46.4,420.2 46.7,420.9 47.1,421.5 47.4,422.0 47.8,422.3 48.1,422.3 48.4,422.1 48.8,421.7 49.1,421.1 49.5,420.3 49.8,419.4 50.2,418.2 50.6,416.8 51.1,415.1 51.5,413.2 52.0,411.2 52.4,409.2 52.9,407.3 53.4,405.4 53.8,403.5 54.3,401.6 54.8,399.7 55.2,398.0 55.6,396.4 55.9,395.1 56.2,394.1 56.5,393.2 56.8,392.3 57.1,391.2 57.4,390.0 57.8,388.5 58.2,386.9 58.6,385.2 59.0,383.4 59.5,381.5 59.9,379.6 60.3,377.6 60.7,375.6 61.1,373.5 61.6,371.4 62.0,369.3 62.4,367.2 62.8,365.1 63.2,363.0 63.7,360.8 64.1,358.7 64.5,356.7 64.9,354.8 65.3,353.0 65.7,351.2 66.1,349.5 66.5,347.8 66.9,346.3 67.3,344.9 67.7,343.6 68.1,342.5 68.5,341.5 68.9,340.5 69.3,339.6 69.8,338.7 70.3,337.8 70.9,337.0 71.6,336.2 72.2,335.5 72.9,334.9 73.5,334.3 74.1,333.8 74.8,333.5 75.5,333.2 76.1,333.0 76.7,332.8 77.3,332.7 77.8,332.6 78.3,332.6 78.7,332.6 79.1,332.7 79.5,332.8 80.0,333.0 80.5,333.2 81.0,333.5 81.5,333.8 82.1,334.2 82.7,334.6 83.3,335.0 84.0,335.4 84.7,335.9 85.5,336.5 86.3,337.0 87.2,337.6 88.0,338.1 88.8,338.6 89.7,339.2 90.6,339.8 91.5,340.4 92.3,340.9 93.2,341.5 94.0,342.1 94.9,342.7 95.7,343.3 96.5,343.8 97.4,344.4 98.2,344.9 99.1,345.4 99.9,345.8 100.8,346.2 101.7,346.6 102.6,347.0 103.5,347.4 104.4,347.9 105.2,348.4 106.1,349.0 107.0,349.5 107.8,350.0 108.7,350.5 109.6,350.9 110.5,351.3 111.4,351.7 112.2,352.1 113.1,352.4 113.9,352.6 114.6,352.8 115.3,352.9 115.9,353.0 116.6,353.0 117.2,353.1 118.0,353.1 118.8,353.1 119.8,353.2 120.7,353.2 121.7,353.2 122.7,353.1 123.6,353.0 124.5,352.8 125.4,352.6 126.2,352.4 127.1,352.1 128.1,351.8 129.1,351.5 130.3,351.1 131.6,350.7 133.0,350.2 134.3,349.8 135.6,349.4 136.7,349.0 137.6,348.7 138.4,348.4 139.1,348.1 139.8,347.9 140.4,347.7 141.1,347.6 141.8,347.5 142.6,347.5 143.3,347.4 144.0,347.5 144.8,347.5 145.5,347.5 146.2,347.5 147.0,347.6 147.8,347.6 148.5,347.7 149.2,347.7 149.8,347.8 150.3,347.9 150.7,347.9 151.0,348.0 151.3,348.1 151.7,348.3 152.0,348.5 152.4,348.8 152.7,349.1 153.1,349.5 153.5,349.9 153.8,350.4 154.2,351.0 154.6,351.6 154.9,352.3 155.2,353.0 155.6,353.8 156.0,354.7 156.4,355.8 156.9,357.0 157.4,358.3 157.9,359.8 158.5,361.3 159.0,362.9 159.6,364.5 160.2,366.3 160.7,368.2 161.3,370.2 161.9,372.1 162.4,373.9 162.9,375.5 163.3,376.7 163.6,377.5 163.9,378.3 164.2,379.0 164.5,379.9 164.9,381.2 165.4,382.9 166.0,384.9 166.6,387.1 167.3,389.3 168.0,391.5 168.6,393.6 169.2,395.6 169.8,397.5 170.4,399.5 171.1,401.3 171.7,403.1 172.3,404.7 172.9,406.2 173.5,407.6 174.1,408.8 174.7,410.0 175.4,411.1 176.1,412.2 176.8,413.2 177.6,414.1 178.4,415.0 179.2,415.8 180.1,416.5 181.0,417.1 181.9,417.6 182.7,418.0 183.6,418.3 184.6,418.6 185.8,418.8 187.2,419.0 188.4,419.2 189.4,419.3 190.5,419.4 192.3,419.4 195.3,419.5 200.0,419.5 207.5,419.6 217.6,419.6 228.9,419.6 240.1,419.7 249.7,419.7 256.3,419.7 256.3,421.7 248.4,421.7 236.9,421.7 223.6,421.7 210.2,421.7 198.4,421.8 190.0,421.8 185.3,421.8 183.0,421.9 182.3,421.9 182.5,421.9 182.7,422.0 182.3,422.1 181.3,422.3 180.4,422.5 179.6,422.7 178.9,423.0 178.1,423.2 177.3,423.3 176.4,423.4 175.5,423.5 174.6,423.5 173.8,423.5 173.0,423.5 172.3,423.3 171.8,423.1 171.3,422.9 170.9,422.6 170.6,422.2 170.3,421.6 169.9,420.9 169.5,420.0 169.1,418.9 168.7,417.6 168.3,416.3 167.9,414.8 167.4,413.4 166.8,411.9 166.2,410.3 165.6,408.6 164.9,406.9 164.2,405.2 163.6,403.5 163.0,401.7 162.3,399.8 161.7,397.9 161.0,396.1 160.4,394.4 159.9,393.0 159.4,391.8 159.0,390.9 158.6,390.2 158.3,389.5 157.9,388.8 157.5,388.0 157.1,387.1 156.7,386.3 156.3,385.4 155.8,384.6 155.4,383.7 155.0,383.0 154.6,382.3 154.2,381.7 153.8,381.1 153.3,380.5 152.9,380.0 152.5,379.5 152.1,379.0 151.7,378.6 151.3,378.2 150.8,377.8 150.3,377.4 149.8,377.1 149.2,376.8 148.5,376.6 147.8,376.4 147.1,376.2 146.3,376.1 145.5,376.0 144.7,376.0 143.9,375.9 143.0,376.0 142.1,376.1 141.1,376.2 140.0,376.5 138.7,376.9 137.3,377.5 135.8,378.1 134.2,378.8 132.7,379.3 131.3,379.8 129.9,380.1 128.6,380.4 127.3,380.6 126.0,380.7 124.8,380.8 123.6,380.9 122.5,380.9 121.5,380.9 120.6,380.8 119.7,380.7 118.8,380.6 118.0,380.5 117.2,380.4 116.6,380.4 115.9,380.3 115.3,380.2 114.6,380.1 113.9,380.0 113.1,379.8 112.2,379.6 111.4,379.3 110.5,379.0 109.6,378.8 108.7,378.5 107.8,378.2 107.0,378.0 106.1,377.7 105.2,377.4 104.4,377.2 103.5,376.9 102.6,376.6 101.8,376.4 100.9,376.1 100.0,375.9 99.2,375.6 98.3,375.4 97.4,375.2 96.5,374.9 95.6,374.7 94.7,374.4 93.8,374.2 93.0,374.0 92.2,373.8 91.4,373.5 90.6,373.3 89.8,373.1 89.1,373.0 88.5,373.0 88.0,373.1 87.5,373.3 87.1,373.6 86.7,373.9 86.3,374.3 85.8,374.7 85.2,375.2 84.6,375.8 83.9,376.5 83.3,377.2 82.6,377.8 82.1,378.4 81.7,378.9 81.4,379.3 81.1,379.8 80.8,380.1 80.4,380.5 80.0,380.8 79.4,381.1 78.8,381.3 78.1,381.5 77.4,381.6 76.7,381.8 76.0,382.0 75.4,382.2 74.7,382.4 74.1,382.6 73.5,382.8 72.9,383.0 72.3,383.3 71.7,383.6 71.2,384.0 70.6,384.4 70.1,384.9 69.5,385.4 69.0,386.0 68.5,386.6 68.0,387.3 67.5,388.1 67.0,388.9 66.5,389.9 66.0,391.0 65.5,392.3 64.9,393.6 64.3,395.1 63.7,396.8 63.1,398.5 62.5,400.5 61.9,402.7 61.2,405.1 60.5,407.7 59.8,410.3 59.1,412.9 58.4,415.5 57.7,418.1 57.0,420.7 56.3,423.3 55.6,425.9 54.9,428.3 54.3,430.5 53.7,432.5 53.2,434.3 52.8,436.0 52.3,437.5 51.9,438.8 51.5,440.0 51.1,441.0 50.8,441.8 50.4,442.5 50.1,443.0 49.8,443.3 49.5,443.4 49.2,443.2 48.8,442.8 48.5,442.2 48.1,441.4 47.8,440.7 47.5,440.0 47.2,439.4 47.0,438.7 46.7,438.1 46.5,437.4 46.2,436.7 46.0,436.0 45.7,435.3 45.4,434.5 45.1,433.7 44.8,432.9 44.6,432.3 44.4,431.8Z" fill="#d8d8fb"/>
<path d="M44.4,418.2 44.8,418.7 45.2,419.4 45.8,420.2 46.4,421.0 47.0,421.7 47.5,422.3 47.9,422.7 48.2,423.1 48.6,423.4 48.9,423.6 49.2,423.7 49.5,423.7 49.8,423.5 50.1,423.3 50.5,422.9 50.8,422.4 51.1,421.8 51.5,421.0 51.9,420.0 52.3,418.9 52.7,417.6 53.1,416.2 53.5,414.6 54.0,413.0 54.5,411.2 55.0,409.3 55.5,407.3 56.0,405.2 56.5,403.1 57.0,401.0 57.5,398.9 58.0,396.8 58.5,394.6 59.0,392.4 59.5,390.2 60.0,388.0 60.5,385.7 61.0,383.4 61.5,381.0 62.0,378.6 62.5,376.3 63.0,374.0 63.5,371.8 64.0,369.6 64.6,367.4 65.1,365.3 65.6,363.1 66.1,361.0 66.6,358.8 67.0,356.6 67.4,354.4 67.8,352.3 68.2,350.3 68.6,348.6 69.0,347.2 69.4,346.0 69.8,344.9 70.2,344.0 70.6,343.2 71.1,342.4 71.6,341.7 72.2,341.0 72.8,340.5 73.4,340.0 74.1,339.6 74.8,339.3 75.5,339.0 76.3,338.9 77.2,338.8 78.0,338.7 78.8,338.7 79.7,338.7 80.6,338.8 81.5,338.9 82.5,339.0 83.4,339.2 84.2,339.4 85.0,339.5 85.6,339.7 86.1,339.8 86.6,340.0 87.0,340.2 87.5,340.2 88.0,340.2 88.6,340.0 89.4,339.6 90.1,339.2 90.8,338.8 91.5,338.4 92.1,338.1 92.6,337.9 92.9,337.7 93.3,337.5 93.6,337.4 93.9,337.4 94.2,337.6 94.5,338.0 94.9,338.5 95.2,339.1 95.5,339.8 95.9,340.5 96.3,341.2 96.7,341.9 97.2,342.6 97.7,343.3 98.3,344.0 98.8,344.7 99.4,345.4 100.0,346.1 100.7,346.8 101.3,347.5 102.0,348.2 102.7,348.9 103.5,349.5 104.3,350.1 105.2,350.7 106.0,351.2 106.9,351.7 107.8,352.2 108.7,352.6 109.6,353.0 110.5,353.3 111.4,353.6 112.2,353.8 113.1,354.0 113.9,354.2 114.6,354.4 115.3,354.5 115.9,354.6 116.6,354.6 117.2,354.7 118.0,354.7 118.8,354.8 119.8,354.8 120.7,354.9 121.7,354.9 122.7,354.8 123.6,354.7 124.5,354.5 125.5,354.2 126.4,353.8 127.4,353.4 128.2,353.0 129.1,352.5 129.9,351.9 130.7,351.2 131.4,350.4 132.2,349.7 132.8,349.1 133.5,348.7 134.1,348.5 134.6,348.6 135.1,348.7 135.6,348.9 136.1,349.1 136.7,349.3 137.4,349.5 138.1,349.7 138.8,349.9 139.6,350.1 140.4,350.3 141.1,350.4 141.8,350.4 142.6,350.4 143.3,350.3 144.0,350.1 144.8,350.0 145.5,349.8 146.2,349.6 147.0,349.2 147.8,348.9 148.5,348.6 149.2,348.3 149.8,348.2 150.3,348.2 150.7,348.2 151.0,348.3 151.3,348.5 151.7,348.8 152.0,349.3 152.4,349.9 152.7,350.7 153.1,351.7 153.5,352.7 153.8,353.7 154.2,354.7 154.6,355.7 154.9,356.7 155.3,357.8 155.7,358.9 156.0,360.1 156.4,361.3 156.7,362.6 157.0,364.0 157.3,365.4 157.7,366.9 158.0,368.5 158.5,370.0 159.0,371.6 159.7,373.2 160.3,374.8 161.0,376.5 161.7,378.2 162.4,379.9 163.0,381.7 163.6,383.5 164.3,385.4 164.9,387.3 165.5,389.2 166.1,391.1 166.7,393.0 167.4,394.9 168.0,396.9 168.6,398.8 169.3,400.6 169.9,402.3 170.5,403.9 171.1,405.5 171.8,407.0 172.4,408.4 173.0,409.7 173.6,410.9 174.2,412.0 174.8,413.1 175.4,414.0 176.0,414.9 176.6,415.7 177.3,416.5 178.0,417.2 178.8,417.8 179.6,418.3 180.4,418.8 181.3,419.2 182.3,419.6 182.7,419.9 182.5,420.1 182.3,420.3 183.0,420.4 185.3,420.5 190.0,420.6 198.4,420.7 210.2,420.8 223.6,420.9 236.9,420.9 248.4,421.0 256.3,421.0 256.3,422.3 248.5,422.3 237.1,422.3 223.9,422.3 210.5,422.3 198.6,422.3 190.0,422.3 184.9,422.4 181.9,422.5 180.5,422.6 179.9,422.7 179.5,422.8 178.5,422.7 177.1,422.6 175.9,422.4 174.9,422.1 174.0,421.8 173.1,421.4 172.3,420.9 171.5,420.3 170.9,419.6 170.3,418.8 169.7,418.0 169.2,417.0 168.6,415.9 168.0,414.7 167.4,413.3 166.8,411.9 166.1,410.3 165.5,408.8 164.9,407.2 164.3,405.6 163.7,404.0 163.1,402.4 162.4,400.7 161.8,399.0 161.2,397.3 160.6,395.5 159.9,393.5 159.3,391.5 158.7,389.5 158.0,387.7 157.4,386.1 156.8,384.8 156.1,383.6 155.5,382.6 154.9,381.6 154.3,380.8 153.7,379.9 153.2,379.0 152.7,378.2 152.3,377.4 151.8,376.7 151.4,376.1 150.9,375.5 150.4,375.0 149.9,374.6 149.4,374.3 148.9,374.1 148.3,373.9 147.6,373.8 146.8,373.8 146.0,373.8 145.0,373.9 144.1,374.0 143.1,374.2 142.2,374.4 141.3,374.6 140.4,374.9 139.5,375.1 138.6,375.4 137.7,375.7 136.7,376.0 135.7,376.3 134.6,376.6 133.5,376.8 132.4,377.1 131.3,377.4 130.2,377.6 129.1,377.8 128.0,378.1 126.8,378.3 125.7,378.5 124.6,378.6 123.6,378.7 122.6,378.7 121.6,378.6 120.6,378.5 119.7,378.3 118.8,378.1 118.0,378.0 117.2,377.9 116.6,377.8 115.9,377.8 115.3,377.7 114.6,377.6 113.9,377.4 113.1,377.2 112.2,376.9 111.4,376.6 110.5,376.2 109.6,375.8 108.7,375.4 107.8,374.9 107.0,374.4 106.1,373.9 105.2,373.4 104.4,372.8 103.5,372.3 102.6,371.8 101.7,371.3 100.8,370.8 100.0,370.2 99.1,369.7 98.3,369.2 97.5,368.7 96.8,368.2 96.1,367.6 95.4,367.1 94.8,366.6 94.2,366.1 93.7,365.6 93.2,365.0 92.7,364.5 92.3,363.9 91.9,363.5 91.5,363.2 91.2,363.0 90.9,362.8 90.7,362.8 90.4,362.8 90.2,362.9 89.8,363.2 89.3,363.7 88.8,364.4 88.2,365.2 87.7,366.1 87.1,366.9 86.5,367.5 86.0,368.0 85.4,368.5 84.9,368.9 84.4,369.3 83.9,369.5 83.3,369.5 82.7,369.3 82.1,368.9 81.5,368.4 80.9,367.9 80.3,367.4 79.6,367.0 78.9,366.7 78.0,366.4 77.2,366.1 76.4,365.9 75.5,365.9 74.8,366.0 74.1,366.3 73.4,366.8 72.8,367.4 72.2,368.1 71.6,368.9 71.1,369.7 70.6,370.6 70.2,371.5 69.8,372.5 69.4,373.6 69.0,374.8 68.6,376.0 68.2,377.3 67.9,378.8 67.6,380.4 67.2,381.9 66.9,383.5 66.5,385.0 66.1,386.4 65.7,387.7 65.3,389.0 64.8,390.4 64.3,391.9 63.8,393.6 63.2,395.6 62.5,397.8 61.8,400.1 61.1,402.6 60.4,405.0 59.7,407.3 59.0,409.6 58.3,411.8 57.7,414.1 57.0,416.4 56.3,418.6 55.6,420.9 54.9,423.3 54.2,425.9 53.5,428.4 52.8,430.8 52.1,433.0 51.5,434.6 51.0,435.8 50.5,436.6 50.1,437.1 49.6,437.4 49.2,437.5 48.8,437.3 48.3,436.9 47.9,436.2 47.4,435.2 46.9,434.1 46.5,432.9 46.1,431.8 45.7,430.5 45.4,429.1 45.1,427.6 44.8,426.1 44.6,424.9 44.4,424.0Z" fill="#ffd5d6"/>
<g clip-path="url(#bb4)"><path d="M44.4,418.2 44.8,418.7 45.2,419.4 45.8,420.2 46.4,421.0 47.0,421.7 47.5,422.3 47.9,422.7 48.2,423.1 48.6,423.4 48.9,423.6 49.2,423.7 49.5,423.7 49.8,423.5 50.1,423.3 50.5,422.9 50.8,422.4 51.1,421.8 51.5,421.0 51.9,420.0 52.3,418.9 52.7,417.6 53.1,416.2 53.5,414.6 54.0,413.0 54.5,411.2 55.0,409.3 55.5,407.3 56.0,405.2 56.5,403.1 57.0,401.0 57.5,398.9 58.0,396.8 58.5,394.6 59.0,392.4 59.5,390.2 60.0,388.0 60.5,385.7 61.0,383.4 61.5,381.0 62.0,378.6 62.5,376.3 63.0,374.0 63.5,371.8 64.0,369.6 64.6,367.4 65.1,365.3 65.6,363.1 66.1,361.0 66.6,358.8 67.0,356.6 67.4,354.4 67.8,352.3 68.2,350.3 68.6,348.6 69.0,347.2 69.4,346.0 69.8,344.9 70.2,344.0 70.6,343.2 71.1,342.4 71.6,341.7 72.2,341.0 72.8,340.5 73.4,340.0 74.1,339.6 74.8,339.3 75.5,339.0 76.3,338.9 77.2,338.8 78.0,338.7 78.8,338.7 79.7,338.7 80.6,338.8 81.5,338.9 82.5,339.0 83.4,339.2 84.2,339.4 85.0,339.5 85.6,339.7 86.1,339.8 86.6,340.0 87.0,340.2 87.5,340.2 88.0,340.2 88.6,340.0 89.4,339.6 90.1,339.2 90.8,338.8 91.5,338.4 92.1,338.1 92.6,337.9 92.9,337.7 93.3,337.5 93.6,337.4 93.9,337.4 94.2,337.6 94.5,338.0 94.9,338.5 95.2,339.1 95.5,339.8 95.9,340.5 96.3,341.2 96.7,341.9 97.2,342.6 97.7,343.3 98.3,344.0 98.8,344.7 99.4,345.4 100.0,346.1 100.7,346.8 101.3,347.5 102.0,348.2 102.7,348.9 103.5,349.5 104.3,350.1 105.2,350.7 106.0,351.2 106.9,351.7 107.8,352.2 108.7,352.6 109.6,353.0 110.5,353.3 111.4,353.6 112.2,353.8 113.1,354.0 113.9,354.2 114.6,354.4 115.3,354.5 115.9,354.6 116.6,354.6 117.2,354.7 118.0,354.7 118.8,354.8 119.8,354.8 120.7,354.9 121.7,354.9 122.7,354.8 123.6,354.7 124.5,354.5 125.5,354.2 126.4,353.8 127.4,353.4 128.2,353.0 129.1,352.5 129.9,351.9 130.7,351.2 131.4,350.4 132.2,349.7 132.8,349.1 133.5,348.7 134.1,348.5 134.6,348.6 135.1,348.7 135.6,348.9 136.1,349.1 136.7,349.3 137.4,349.5 138.1,349.7 138.8,349.9 139.6,350.1 140.4,350.3 141.1,350.4 141.8,350.4 142.6,350.4 143.3,350.3 144.0,350.1 144.8,350.0 145.5,349.8 146.2,349.6 147.0,349.2 147.8,348.9 148.5,348.6 149.2,348.3 149.8,348.2 150.3,348.2 150.7,348.2 151.0,348.3 151.3,348.5 151.7,348.8 152.0,349.3 152.4,349.9 152.7,350.7 153.1,351.7 153.5,352.7 153.8,353.7 154.2,354.7 154.6,355.7 154.9,356.7 155.3,357.8 155.7,358.9 156.0,360.1 156.4,361.3 156.7,362.6 157.0,364.0 157.3,365.4 157.7,366.9 158.0,368.5 158.5,370.0 159.0,371.6 159.7,373.2 160.3,374.8 161.0,376.5 161.7,378.2 162.4,379.9 163.0,381.7 163.6,383.5 164.3,385.4 164.9,387.3 165.5,389.2 166.1,391.1 166.7,393.0 167.4,394.9 168.0,396.9 168.6,398.8 169.3,400.6 169.9,402.3 170.5,403.9 171.1,405.5 171.8,407.0 172.4,408.4 173.0,409.7 173.6,410.9 174.2,412.0 174.8,413.1 175.4,414.0 176.0,414.9 176.6,415.7 177.3,416.5 178.0,417.2 178.8,417.8 179.6,418.3 180.4,418.8 181.3,419.2 182.3,419.6 182.7,419.9 182.5,420.1 182.3,420.3 183.0,420.4 185.3,420.5 190.0,420.6 198.4,420.7 210.2,420.8 223.6,420.9 236.9,420.9 248.4,421.0 256.3,421.0 256.3,422.3 248.5,422.3 237.1,422.3 223.9,422.3 210.5,422.3 198.6,422.3 190.0,422.3 184.9,422.4 181.9,422.5 180.5,422.6 179.9,422.7 179.5,422.8 178.5,422.7 177.1,422.6 175.9,422.4 174.9,422.1 174.0,421.8 173.1,421.4 172.3,420.9 171.5,420.3 170.9,419.6 170.3,418.8 169.7,418.0 169.2,417.0 168.6,415.9 168.0,414.7 167.4,413.3 166.8,411.9 166.1,410.3 165.5,408.8 164.9,407.2 164.3,405.6 163.7,404.0 163.1,402.4 162.4,400.7 161.8,399.0 161.2,397.3 160.6,395.5 159.9,393.5 159.3,391.5 158.7,389.5 158.0,387.7 157.4,386.1 156.8,384.8 156.1,383.6 155.5,382.6 154.9,381.6 154.3,380.8 153.7,379.9 153.2,379.0 152.7,378.2 152.3,377.4 151.8,376.7 151.4,376.1 150.9,375.5 150.4,375.0 149.9,374.6 149.4,374.3 148.9,374.1 148.3,373.9 147.6,373.8 146.8,373.8 146.0,373.8 145.0,373.9 144.1,374.0 143.1,374.2 142.2,374.4 141.3,374.6 140.4,374.9 139.5,375.1 138.6,375.4 137.7,375.7 136.7,376.0 135.7,376.3 134.6,376.6 133.5,376.8 132.4,377.1 131.3,377.4 130.2,377.6 129.1,377.8 128.0,378.1 126.8,378.3 125.7,378.5 124.6,378.6 123.6,378.7 122.6,378.7 121.6,378.6 120.6,378.5 119.7,378.3 118.8,378.1 118.0,378.0 117.2,377.9 116.6,377.8 115.9,377.8 115.3,377.7 114.6,377.6 113.9,377.4 113.1,377.2 112.2,376.9 111.4,376.6 110.5,376.2 109.6,375.8 108.7,375.4 107.8,374.9 107.0,374.4 106.1,373.9 105.2,373.4 104.4,372.8 103.5,372.3 102.6,371.8 101.7,371.3 100.8,370.8 100.0,370.2 99.1,369.7 98.3,369.2 97.5,368.7 96.8,368.2 96.1,367.6 95.4,367.1 94.8,366.6 94.2,366.1 93.7,365.6 93.2,365.0 92.7,364.5 92.3,363.9 91.9,363.5 91.5,363.2 91.2,363.0 90.9,362.8 90.7,362.8 90.4,362.8 90.2,362.9 89.8,363.2 89.3,363.7 88.8,364.4 88.2,365.2 87.7,366.1 87.1,366.9 86.5,367.5 86.0,368.0 85.4,368.5 84.9,368.9 84.4,369.3 83.9,369.5 83.3,369.5 82.7,369.3 82.1,368.9 81.5,368.4 80.9,367.9 80.3,367.4 79.6,367.0 78.9,366.7 78.0,366.4 77.2,366.1 76.4,365.9 75.5,365.9 74.8,366.0 74.1,366.3 73.4,366.8 72.8,367.4 72.2,368.1 71.6,368.9 71.1,369.7 70.6,370.6 70.2,371.5 69.8,372.5 69.4,373.6 69.0,374.8 68.6,376.0 68.2,377.3 67.9,378.8 67.6,380.4 67.2,381.9 66.9,383.5 66.5,385.0 66.1,386.4 65.7,387.7 65.3,389.0 64.8,390.4 64.3,391.9 63.8,393.6 63.2,395.6 62.5,397.8 61.8,400.1 61.1,402.6 60.4,405.0 59.7,407.3 59.0,409.6 58.3,411.8 57.7,414.1 57.0,416.4 56.3,418.6 55.6,420.9 54.9,423.3 54.2,425.9 53.5,428.4 52.8,430.8 52.1,433.0 51.5,434.6 51.0,435.8 50.5,436.6 50.1,437.1 49.6,437.4 49.2,437.5 48.8,437.3 48.3,436.9 47.9,436.2 47.4,435.2 46.9,434.1 46.5,432.9 46.1,431.8 45.7,430.5 45.4,429.1 45.1,427.6 44.8,426.1 44.6,424.9 44.4,424.0Z" fill="#e9b8d9"/></g>
<path d="M85.15,332.50V444.60M127.94,332.50V444.60M170.72,332.50V444.60M213.51,332.50V444.60M256.30,332.50V444.60M44.50,344.20H256.30M44.50,383.00H256.30M44.50,422.20H256.30" stroke="rgba(0,0,0,0.075)" stroke-width="1" fill="none"/>
<path d="M44.4,423.7 44.6,424.2 44.8,425.0 45.1,425.8 45.4,426.8 45.8,427.6 46.1,428.4 46.4,429.1 46.7,429.8 47.1,430.5 47.4,431.1 47.8,431.5 48.1,431.8 48.4,431.9 48.8,431.9 49.1,431.8 49.5,431.5 49.9,431.1 50.2,430.5 50.5,429.7 50.8,428.8 51.2,427.7 51.5,426.5 51.8,425.1 52.2,423.7 52.6,422.1 53.1,420.3 53.6,418.5 54.0,416.5 54.5,414.6 55.0,412.7 55.5,410.9 55.9,409.1 56.4,407.3 56.8,405.5 57.3,403.7 57.7,401.8 58.1,399.9 58.5,397.9 58.8,395.9 59.2,393.9 59.5,391.9 59.9,390.0 60.3,388.2 60.7,386.4 61.1,384.7 61.5,383.0 61.9,381.3 62.3,379.6 62.7,377.9 63.2,376.1 63.6,374.4 64.0,372.7 64.5,371.1 64.9,369.7 65.3,368.4 65.7,367.3 66.0,366.2 66.4,365.3 66.8,364.4 67.3,363.5 67.9,362.7 68.5,362.0 69.1,361.3 69.8,360.7 70.5,360.2 71.1,359.7 71.7,359.3 72.3,359.0 72.9,358.7 73.4,358.5 74.0,358.3 74.6,358.1 75.2,357.9 75.8,357.7 76.4,357.5 77.1,357.3 77.7,357.2 78.3,357.0 78.9,356.9 79.6,356.7 80.2,356.6 80.8,356.5 81.5,356.4 82.1,356.3 82.7,356.2 83.4,356.2 84.0,356.2 84.7,356.1 85.3,356.1 85.8,356.1 86.2,356.1 86.5,356.1 86.8,356.0 87.1,356.0 87.5,356.1 88.0,356.2 88.7,356.4 89.5,356.6 90.4,356.8 91.4,357.1 92.3,357.4 93.2,357.8 94.1,358.2 94.9,358.7 95.8,359.3 96.6,359.8 97.4,360.4 98.3,360.9 99.2,361.4 100.0,362.0 100.9,362.5 101.8,363.0 102.6,363.5 103.5,364.0 104.4,364.4 105.2,364.8 106.1,365.2 107.0,365.5 107.8,365.8 108.7,366.1 109.6,366.3 110.5,366.5 111.4,366.7 112.2,366.8 113.1,367.0 113.9,367.1 114.7,367.2 115.4,367.3 116.1,367.4 116.7,367.5 117.4,367.6 118.0,367.6 118.6,367.6 119.2,367.6 119.7,367.6 120.3,367.5 120.9,367.4 121.5,367.3 122.2,367.2 122.9,367.0 123.6,366.8 124.3,366.6 125.1,366.4 125.8,366.2 126.5,366.0 127.3,365.8 128.0,365.5 128.7,365.3 129.5,365.0 130.2,364.8 130.9,364.6 131.6,364.4 132.3,364.1 133.1,363.9 133.8,363.7 134.5,363.5 135.2,363.3 136.0,363.1 136.7,362.9 137.4,362.7 138.2,362.6 138.9,362.4 139.6,362.3 140.4,362.2 141.1,362.0 141.8,362.0 142.6,361.9 143.3,361.8 144.0,361.7 144.8,361.6 145.5,361.6 146.2,361.5 146.9,361.5 147.6,361.5 148.2,361.5 148.8,361.6 149.4,361.6 149.9,361.7 150.4,361.9 150.9,362.1 151.3,362.4 151.7,362.7 152.1,363.1 152.4,363.5 152.7,364.0 153.1,364.5 153.5,365.1 153.8,365.8 154.2,366.6 154.6,367.4 154.9,368.2 155.3,368.9 155.7,369.6 156.0,370.2 156.3,370.9 156.7,371.5 157.0,372.2 157.4,373.0 157.8,373.8 158.2,374.7 158.6,375.6 159.0,376.5 159.4,377.5 159.8,378.6 160.2,379.7 160.7,380.9 161.1,382.2 161.5,383.4 162.0,384.8 162.4,386.1 162.8,387.5 163.2,388.9 163.7,390.4 164.1,391.9 164.5,393.3 164.9,394.8 165.3,396.3 165.7,397.7 166.2,399.2 166.6,400.7 167.0,402.1 167.4,403.5 167.8,404.8 168.2,406.2 168.6,407.4 169.0,408.7 169.4,409.8 169.9,410.9 170.4,411.9 170.8,412.8 171.3,413.7 171.9,414.5 172.4,415.2 173.0,415.9 173.6,416.5 174.3,417.1 175.0,417.7 175.8,418.2 176.5,418.6 177.3,419.0 178.1,419.3 178.8,419.6 179.6,419.8 180.4,419.9 181.3,420.1 182.3,420.2 182.7,420.3 182.4,420.4 182.2,420.5 182.8,420.5 185.0,420.6 189.7,420.6 198.1,420.6 210.0,420.7 223.5,420.7 236.8,420.7 248.4,420.7 256.3,420.7" stroke="#0000ff" stroke-width="2.6" fill="none" stroke-linejoin="round"/>
<path d="M44.4,420.9 44.6,421.3 44.8,421.9 45.1,422.6 45.4,423.4 45.8,424.2 46.1,425.0 46.4,425.9 46.8,426.9 47.1,428.0 47.5,429.0 47.8,429.8 48.1,430.5 48.4,430.9 48.6,431.3 48.8,431.4 49.0,431.5 49.2,431.4 49.5,431.2 49.8,430.9 50.1,430.4 50.4,429.8 50.8,429.1 51.1,428.2 51.5,427.1 51.9,425.7 52.4,424.1 52.9,422.4 53.3,420.5 53.8,418.6 54.3,416.8 54.8,415.0 55.2,413.2 55.7,411.4 56.1,409.6 56.6,407.7 57.0,405.9 57.5,404.0 57.9,402.0 58.4,400.1 58.9,398.2 59.3,396.5 59.7,395.0 60.0,393.9 60.3,393.1 60.5,392.5 60.7,391.8 60.9,391.1 61.2,390.0 61.5,388.6 61.9,386.9 62.3,385.1 62.7,383.2 63.1,381.4 63.5,379.6 63.9,377.9 64.3,376.2 64.8,374.5 65.2,372.9 65.7,371.2 66.1,369.7 66.5,368.2 66.9,366.8 67.3,365.4 67.7,364.1 68.1,362.8 68.6,361.5 69.1,360.2 69.7,359.0 70.4,357.8 71.0,356.6 71.7,355.6 72.3,354.8 72.9,354.1 73.6,353.7 74.2,353.3 74.9,353.0 75.5,352.8 76.0,352.6 76.5,352.5 76.9,352.4 77.4,352.4 77.7,352.4 78.1,352.4 78.5,352.5 78.9,352.6 79.2,352.7 79.5,352.8 79.8,352.9 80.1,353.1 80.5,353.3 80.9,353.5 81.4,353.8 81.8,354.1 82.3,354.3 82.8,354.6 83.3,354.8 83.8,355.0 84.4,355.1 84.9,355.3 85.5,355.4 86.0,355.5 86.4,355.5 86.7,355.5 87.0,355.6 87.2,355.6 87.4,355.5 87.7,355.4 88.0,355.2 88.4,354.8 88.8,354.3 89.2,353.7 89.7,353.1 90.2,352.6 90.6,352.1 91.0,351.7 91.5,351.3 91.9,351.0 92.3,350.7 92.8,350.5 93.2,350.5 93.6,350.6 94.1,350.8 94.5,351.2 94.9,351.6 95.4,352.1 95.8,352.6 96.2,353.2 96.6,353.8 97.0,354.6 97.4,355.3 97.8,356.1 98.3,356.8 98.8,357.5 99.2,358.2 99.7,358.9 100.3,359.5 100.8,360.2 101.4,360.9 102.0,361.6 102.7,362.3 103.4,363.0 104.2,363.7 104.9,364.4 105.6,365.0 106.3,365.5 107.0,366.0 107.7,366.5 108.3,366.9 109.0,367.3 109.7,367.6 110.4,367.9 111.1,368.1 111.8,368.2 112.5,368.4 113.2,368.5 113.9,368.6 114.6,368.7 115.3,368.8 116.0,368.8 116.7,368.9 117.4,368.9 118.0,368.9 118.6,368.9 119.2,368.8 119.7,368.8 120.3,368.7 120.9,368.6 121.5,368.4 122.2,368.2 122.9,367.9 123.6,367.6 124.3,367.3 125.1,367.0 125.8,366.7 126.5,366.4 127.3,366.1 128.0,365.9 128.7,365.6 129.5,365.3 130.2,365.1 130.9,364.9 131.6,364.7 132.3,364.5 133.1,364.3 133.8,364.2 134.5,364.0 135.2,363.8 136.0,363.7 136.7,363.5 137.4,363.4 138.2,363.3 138.9,363.2 139.6,363.1 140.4,363.1 141.1,363.0 141.8,363.0 142.6,362.9 143.3,362.9 144.0,362.9 144.8,362.8 145.6,362.8 146.3,362.7 147.0,362.7 147.6,362.6 148.2,362.5 148.7,362.3 149.1,362.1 149.6,361.9 150.0,361.8 150.4,361.8 150.8,361.9 151.2,362.0 151.5,362.1 151.9,362.3 152.2,362.6 152.5,362.9 152.8,363.2 153.1,363.6 153.3,364.0 153.6,364.5 153.9,365.0 154.2,365.6 154.5,366.3 154.9,367.0 155.2,367.8 155.6,368.6 155.9,369.5 156.3,370.5 156.7,371.5 157.0,372.6 157.4,373.7 157.8,374.9 158.2,376.1 158.6,377.4 159.0,378.7 159.5,380.2 159.9,381.6 160.3,383.1 160.8,384.6 161.2,386.1 161.6,387.6 162.0,389.0 162.4,390.5 162.8,391.9 163.2,393.4 163.6,394.8 164.0,396.3 164.4,397.7 164.8,399.2 165.3,400.7 165.7,402.1 166.1,403.5 166.5,404.8 166.9,406.2 167.3,407.4 167.7,408.7 168.1,409.8 168.6,410.9 169.1,411.9 169.5,412.8 170.0,413.6 170.5,414.4 171.1,415.2 171.7,415.9 172.3,416.6 173.0,417.3 173.7,417.9 174.5,418.5 175.2,419.1 176.1,419.6 177.0,420.0 178.0,420.4 179.0,420.8 180.1,421.0 181.2,421.3 182.3,421.5 182.8,421.7 182.5,421.8 182.2,421.8 182.8,421.9 185.0,421.9 189.7,421.9 198.1,421.9 210.0,421.9 223.5,421.9 236.8,421.9 248.4,421.9 256.3,421.9" stroke="#ff0000" stroke-width="1.8" fill="none" stroke-linejoin="round"/>
</g>
<path d="M44.50,332.50V444.60H256.30" stroke="#858585" stroke-width="1" fill="none"/>
<path d="M85.15,444.60V442.60M127.94,444.60V442.60M170.72,444.60V442.60M213.51,444.60V442.60M256.30,444.60V442.60M44.50,344.20H46.50M44.50,383.00H46.50M44.50,422.20H46.50" stroke="#858585" stroke-width="1" fill="none"/>
<text x="85.15" y="460.50" font-size="10.5" text-anchor="middle">20</text>
<text x="127.94" y="460.50" font-size="10.5" text-anchor="middle">40</text>
<text x="170.72" y="460.50" font-size="10.5" text-anchor="middle">60</text>
<text x="213.51" y="460.50" font-size="10.5" text-anchor="middle">80</text>
<text x="256.30" y="460.50" font-size="10.5" text-anchor="middle">100</text>
<text x="39.60" y="348.80" font-size="10.5" text-anchor="end">0.1</text>
<text x="39.60" y="387.60" font-size="10.5" text-anchor="end">0.05</text>
<text x="39.60" y="426.80" font-size="10.5" text-anchor="end">0</text>
<text x="150.40" y="329.80" font-size="11" font-weight="bold" text-anchor="middle">GRF medio-lateral</text>
<text transform="translate(12.90,388.55) rotate(-90)" font-size="11.1" text-anchor="middle">BW</text>
<text x="150.40" y="475.80" font-size="11.3" text-anchor="middle">gait cycle (%)</text>
<g clip-path="url(#c5)">
<path d="M323.3,435.0 323.4,435.0 323.5,435.1 323.6,435.2 323.8,435.1 324.1,434.8 324.6,434.2 325.2,433.2 326.0,431.8 326.9,430.2 327.9,428.5 328.9,426.7 329.9,425.0 330.9,423.2 332.0,421.2 333.1,419.2 334.2,417.2 335.2,415.4 336.0,414.0 336.6,412.9 337.1,412.2 337.4,411.6 337.8,411.2 338.1,410.7 338.5,410.0 339.0,409.2 339.5,408.3 340.0,407.5 340.5,406.6 341.0,405.7 341.5,404.8 341.9,404.0 342.3,403.1 342.7,402.3 343.1,401.5 343.5,400.7 343.9,399.9 344.3,399.1 344.7,398.2 345.1,397.4 345.6,396.5 346.0,395.7 346.4,394.9 346.8,394.1 347.3,393.3 347.7,392.6 348.1,391.8 348.5,391.1 348.9,390.5 349.3,389.9 349.6,389.5 349.9,389.0 350.2,388.6 350.6,388.1 350.9,387.5 351.2,386.8 351.6,386.1 351.9,385.4 352.3,384.6 352.6,383.8 353.0,383.0 353.4,382.1 353.8,381.2 354.2,380.3 354.7,379.3 355.2,378.4 355.7,377.5 356.3,376.6 356.9,375.7 357.5,374.8 358.2,374.0 358.9,373.2 359.5,372.5 360.1,371.9 360.8,371.4 361.4,371.0 362.0,370.6 362.6,370.3 363.2,370.0 363.7,369.8 364.1,369.6 364.5,369.5 364.9,369.4 365.4,369.2 366.0,369.0 366.7,368.7 367.5,368.3 368.3,367.9 369.2,367.5 370.1,367.2 370.9,366.9 371.7,366.7 372.5,366.5 373.3,366.4 374.2,366.3 375.0,366.2 375.8,366.1 376.6,365.9 377.5,365.8 378.3,365.6 379.1,365.5 380.0,365.3 380.8,365.1 381.6,364.9 382.4,364.7 383.2,364.5 384.1,364.3 384.9,364.1 385.7,363.8 386.5,363.5 387.4,363.1 388.2,362.6 389.0,362.2 389.9,361.7 390.7,361.3 391.5,360.9 392.4,360.5 393.2,360.1 394.0,359.7 394.9,359.3 395.7,358.9 396.5,358.5 397.3,358.1 398.2,357.7 399.0,357.3 399.8,356.9 400.6,356.4 401.4,355.9 402.3,355.4 403.1,354.9 404.0,354.4 404.8,353.8 405.6,353.3 406.4,352.7 407.1,352.2 407.8,351.6 408.5,351.0 409.2,350.4 410.0,349.8 410.8,349.2 411.6,348.6 412.5,348.0 413.3,347.3 414.2,346.7 415.0,346.1 415.8,345.5 416.6,344.8 417.4,344.2 418.3,343.5 419.1,342.9 419.9,342.4 420.7,341.9 421.6,341.4 422.4,341.0 423.2,340.6 424.1,340.3 424.9,340.0 425.7,339.7 426.5,339.5 427.3,339.3 428.2,339.2 429.0,339.2 429.8,339.3 430.6,339.5 431.5,339.8 432.4,340.2 433.2,340.7 434.0,341.2 434.8,341.8 435.5,342.4 436.1,343.0 436.7,343.6 437.3,344.4 437.9,345.2 438.5,346.1 439.1,347.1 439.7,348.2 440.4,349.4 441.0,350.7 441.6,352.1 442.2,353.5 442.8,355.0 443.5,356.7 444.1,358.4 444.7,360.2 445.3,361.9 445.9,363.5 446.4,365.0 446.9,366.4 447.3,367.8 447.7,369.1 448.1,370.5 448.5,372.0 448.9,373.6 449.3,375.1 449.7,376.8 450.1,378.5 450.6,380.2 451.0,382.0 451.5,383.9 451.9,385.9 452.4,388.0 452.9,390.1 453.4,392.1 454.0,394.0 454.6,395.8 455.2,397.5 455.8,399.2 456.5,400.8 457.2,402.4 457.8,404.0 458.4,405.6 459.1,407.1 459.7,408.6 460.3,410.1 461.0,411.5 461.6,413.0 462.2,414.5 462.9,415.9 463.6,417.4 464.2,418.8 464.9,420.2 465.5,421.5 466.1,422.7 466.7,423.9 467.2,425.0 467.8,426.1 468.4,427.1 469.0,428.0 469.6,428.9 470.3,429.7 470.9,430.5 471.6,431.2 472.3,431.9 473.0,432.5 473.7,433.1 474.3,433.6 475.0,434.2 475.8,434.6 476.8,435.1 478.0,435.5 479.2,435.9 480.2,436.3 481.5,436.6 483.3,436.9 486.0,437.2 490.0,437.5 496.2,437.7 504.3,437.9 513.5,438.1 522.4,438.3 530.1,438.4 535.4,438.5 535.4,440.5 528.4,440.5 518.1,440.4 506.3,440.4 494.3,440.4 483.7,440.3 476.0,440.3 471.5,440.3 469.1,440.4 468.0,440.5 467.7,440.5 467.5,440.5 466.8,440.4 465.7,440.2 464.7,440.0 463.9,439.7 463.1,439.4 462.3,439.0 461.6,438.5 460.9,438.0 460.2,437.4 459.6,436.7 459.0,435.9 458.4,435.0 457.8,434.0 457.2,432.8 456.5,431.5 455.9,430.0 455.3,428.4 454.6,426.8 454.0,425.0 453.4,423.1 452.7,421.1 452.1,419.0 451.4,416.8 450.7,414.5 450.1,412.2 449.5,409.7 448.8,407.0 448.2,404.3 447.6,401.6 446.9,399.1 446.3,397.0 445.7,395.2 445.0,393.8 444.3,392.5 443.7,391.3 443.1,390.2 442.5,389.0 442.0,387.8 441.5,386.6 441.1,385.4 440.6,384.3 440.2,383.1 439.7,382.0 439.2,380.9 438.7,379.7 438.2,378.6 437.6,377.5 437.1,376.4 436.6,375.5 436.1,374.7 435.6,373.9 435.1,373.2 434.6,372.6 434.1,372.0 433.5,371.5 432.9,371.0 432.4,370.7 431.8,370.3 431.1,370.0 430.5,369.8 429.8,369.6 429.1,369.4 428.3,369.3 427.4,369.3 426.6,369.3 425.7,369.3 424.9,369.3 424.1,369.3 423.2,369.4 422.4,369.5 421.6,369.6 420.7,369.8 419.9,370.0 419.1,370.3 418.3,370.5 417.4,370.9 416.6,371.2 415.8,371.6 415.0,372.1 414.2,372.6 413.3,373.2 412.5,373.9 411.6,374.6 410.8,375.2 410.0,375.8 409.2,376.3 408.5,376.8 407.8,377.2 407.1,377.7 406.4,378.2 405.6,378.7 404.8,379.3 404.0,379.9 403.1,380.6 402.3,381.2 401.4,381.8 400.6,382.4 399.8,382.9 399.0,383.3 398.2,383.7 397.3,384.1 396.5,384.5 395.7,384.9 394.9,385.3 394.0,385.7 393.2,386.2 392.4,386.6 391.5,387.0 390.7,387.4 389.9,387.8 389.0,388.2 388.2,388.7 387.4,389.1 386.5,389.5 385.7,389.8 384.9,390.1 384.1,390.3 383.2,390.5 382.4,390.7 381.6,390.9 380.8,391.1 380.0,391.3 379.1,391.5 378.3,391.7 377.5,391.9 376.6,392.1 375.8,392.3 375.0,392.4 374.2,392.6 373.3,392.7 372.5,392.8 371.7,392.9 370.9,393.0 370.1,393.1 369.2,393.1 368.4,393.2 367.6,393.2 366.7,393.4 365.9,393.6 365.1,394.0 364.3,394.4 363.4,394.9 362.6,395.5 361.8,396.0 361.0,396.5 360.1,396.9 359.2,397.3 358.3,397.7 357.5,398.1 356.7,398.6 356.0,399.0 355.5,399.4 355.1,399.8 354.9,400.2 354.6,400.7 354.2,401.3 353.7,402.0 353.0,402.9 352.2,403.8 351.3,404.9 350.3,406.0 349.4,407.2 348.5,408.5 347.6,409.9 346.7,411.4 345.9,413.0 345.0,414.6 344.1,416.1 343.2,417.5 342.3,418.8 341.4,420.0 340.5,421.1 339.7,422.2 338.8,423.3 337.9,424.5 337.0,425.7 336.1,427.0 335.3,428.2 334.4,429.5 333.5,430.8 332.6,432.0 331.7,433.3 330.7,434.6 329.7,435.9 328.7,437.1 327.8,438.2 327.0,439.0 326.2,439.5 325.5,439.8 324.8,439.9 324.2,440.0 323.7,440.0 323.3,440.0Z" fill="#d8d8fb"/>
<path d="M323.3,436.0 323.7,435.5 324.2,434.8 324.9,433.9 325.6,433.0 326.3,432.0 327.0,431.0 327.6,429.9 328.3,428.8 329.0,427.6 329.6,426.4 330.3,425.2 331.0,424.0 331.7,422.9 332.3,421.7 333.0,420.6 333.7,419.5 334.4,418.3 335.2,417.0 336.0,415.6 336.9,414.1 337.8,412.6 338.7,411.1 339.6,409.4 340.5,407.8 341.4,406.1 342.3,404.3 343.1,402.4 344.0,400.6 344.9,398.8 345.8,397.2 346.7,395.7 347.6,394.2 348.5,392.8 349.4,391.5 350.2,390.3 351.1,389.3 351.9,388.5 352.8,387.9 353.6,387.4 354.4,387.0 355.2,386.5 356.0,386.0 356.8,385.4 357.7,384.7 358.5,384.0 359.3,383.3 360.2,382.6 361.0,382.0 361.8,381.4 362.6,380.8 363.4,380.3 364.3,379.7 365.1,379.2 365.9,378.8 366.7,378.4 367.6,378.1 368.4,377.8 369.2,377.5 370.1,377.3 370.9,377.0 371.7,376.7 372.5,376.5 373.3,376.2 374.2,376.0 375.0,375.8 375.8,375.5 376.6,375.2 377.5,375.0 378.3,374.7 379.1,374.4 380.0,374.1 380.8,373.8 381.6,373.4 382.4,373.0 383.2,372.6 384.1,372.2 384.9,371.7 385.7,371.3 386.5,370.9 387.4,370.5 388.2,370.1 389.0,369.6 389.9,369.2 390.7,368.8 391.5,368.4 392.4,368.0 393.2,367.6 394.0,367.2 394.9,366.8 395.7,366.3 396.5,365.8 397.3,365.4 398.2,364.9 399.0,364.3 399.8,363.8 400.6,363.2 401.4,362.6 402.3,361.8 403.1,361.1 404.0,360.4 404.8,359.6 405.6,358.9 406.4,358.2 407.1,357.6 407.8,356.9 408.5,356.2 409.2,355.5 410.0,354.8 410.8,354.0 411.6,353.2 412.5,352.4 413.3,351.5 414.2,350.6 415.0,349.8 415.9,349.0 416.7,348.2 417.6,347.3 418.4,346.5 419.2,345.7 419.9,344.9 420.4,344.1 420.9,343.3 421.3,342.5 421.6,341.7 422.0,340.8 422.4,339.9 422.9,338.9 423.4,337.7 423.9,336.5 424.5,335.4 425.0,334.4 425.5,333.7 426.0,333.2 426.4,332.9 426.8,332.7 427.2,332.7 427.6,332.9 428.0,333.1 428.4,333.5 428.8,334.1 429.2,334.7 429.6,335.5 430.0,336.4 430.4,337.4 430.8,338.4 431.2,339.6 431.6,340.8 432.0,342.1 432.4,343.5 432.9,344.9 433.4,346.4 433.9,348.1 434.4,349.9 434.9,351.6 435.5,353.3 436.0,354.8 436.6,356.2 437.2,357.4 437.8,358.6 438.4,359.7 438.9,360.8 439.5,362.0 440.0,363.2 440.5,364.3 441.0,365.4 441.5,366.6 442.0,367.8 442.5,369.0 443.0,370.3 443.5,371.6 444.0,372.9 444.5,374.2 445.0,375.6 445.5,377.0 446.0,378.5 446.5,380.0 447.0,381.5 447.5,383.0 448.0,384.5 448.5,386.0 449.0,387.4 449.5,388.8 450.0,390.2 450.5,391.5 451.0,392.8 451.5,394.0 451.9,395.1 452.4,396.2 452.8,397.2 453.2,398.2 453.6,399.1 454.0,400.0 454.4,400.7 454.8,401.3 455.2,401.9 455.5,402.4 455.9,403.1 456.4,404.0 456.9,405.1 457.4,406.5 458.0,407.9 458.6,409.4 459.1,410.9 459.7,412.3 460.2,413.7 460.8,415.1 461.4,416.5 461.9,417.9 462.4,419.2 463.0,420.5 463.5,421.7 464.1,422.9 464.6,424.0 465.1,425.1 465.7,426.1 466.3,427.1 466.9,428.1 467.6,429.0 468.3,429.9 469.0,430.7 469.7,431.4 470.4,432.1 471.0,432.7 471.5,433.1 472.1,433.5 472.6,433.9 473.3,434.2 474.0,434.6 474.3,435.0 474.0,435.4 473.8,435.8 474.3,436.2 476.1,436.6 480.0,437.0 487.0,437.4 496.9,437.7 508.1,438.1 519.2,438.4 528.8,438.6 535.4,438.8 535.4,440.0 528.3,440.0 518.1,440.0 506.2,440.0 494.2,440.1 483.6,440.1 476.0,440.2 471.7,440.3 469.4,440.3 468.6,440.4 468.5,440.5 468.6,440.7 468.0,441.0 467.0,441.5 466.0,442.2 465.2,442.9 464.4,443.6 463.6,444.2 462.9,444.5 462.2,444.6 461.5,444.6 460.9,444.4 460.3,444.0 459.7,443.6 459.1,443.0 458.5,442.3 458.0,441.4 457.5,440.4 457.0,439.2 456.5,437.9 455.9,436.6 455.3,435.2 454.6,433.6 454.0,431.9 453.3,430.2 452.7,428.3 452.0,426.3 451.4,424.2 450.7,421.9 450.1,419.6 449.5,417.1 448.8,414.7 448.2,412.2 447.5,409.6 446.8,406.8 446.1,404.0 445.4,401.3 444.8,398.9 444.3,396.8 443.9,395.2 443.6,393.9 443.3,392.9 443.0,392.0 442.8,391.1 442.5,390.0 442.2,388.7 441.8,387.4 441.5,386.0 441.1,384.7 440.8,383.3 440.4,382.0 440.0,380.7 439.6,379.5 439.2,378.3 438.8,377.1 438.4,375.9 437.9,374.6 437.4,373.2 436.9,371.7 436.4,370.2 435.9,368.7 435.3,367.2 434.8,365.9 434.3,364.7 433.8,363.5 433.2,362.4 432.7,361.4 432.2,360.5 431.7,359.7 431.2,359.0 430.7,358.3 430.2,357.7 429.7,357.2 429.2,356.8 428.6,356.6 428.0,356.5 427.5,356.6 426.9,356.8 426.3,357.1 425.6,357.5 424.9,357.9 424.1,358.4 423.3,358.9 422.5,359.6 421.6,360.2 420.7,360.9 419.9,361.6 419.1,362.3 418.3,363.0 417.4,363.7 416.6,364.5 415.8,365.2 415.0,365.9 414.2,366.6 413.3,367.2 412.5,367.9 411.6,368.5 410.8,369.2 410.0,370.0 409.2,370.8 408.5,371.8 407.8,372.7 407.1,373.7 406.4,374.6 405.6,375.5 404.8,376.3 404.0,377.1 403.1,377.8 402.3,378.6 401.4,379.3 400.6,379.9 399.8,380.5 399.0,381.0 398.2,381.5 397.3,382.0 396.5,382.5 395.7,383.0 394.9,383.5 394.0,384.1 393.2,384.6 392.4,385.1 391.5,385.6 390.7,386.1 389.9,386.6 389.0,387.0 388.2,387.4 387.4,387.8 386.5,388.2 385.7,388.6 384.9,389.0 384.1,389.4 383.2,389.9 382.4,390.3 381.6,390.7 380.8,391.1 380.0,391.5 379.1,392.0 378.3,392.4 377.5,392.8 376.6,393.2 375.8,393.6 375.0,393.9 374.2,394.2 373.3,394.5 372.5,394.8 371.7,395.1 370.9,395.4 370.0,395.7 369.1,396.1 368.2,396.4 367.3,396.7 366.5,397.0 365.9,397.3 365.5,397.5 365.4,397.6 365.3,397.8 365.3,397.9 365.2,398.0 364.8,398.2 364.2,398.4 363.4,398.7 362.5,399.0 361.6,399.3 360.7,399.6 360.0,399.9 359.4,400.2 358.9,400.5 358.5,400.8 358.1,401.2 357.7,401.5 357.3,401.9 356.9,402.3 356.4,402.7 356.0,403.1 355.6,403.6 355.2,404.2 354.8,404.8 354.4,405.6 354.0,406.4 353.6,407.4 353.2,408.3 352.8,409.2 352.4,410.0 352.1,410.6 351.9,411.0 351.8,411.3 351.5,411.7 351.1,412.2 350.5,413.0 349.6,414.1 348.4,415.3 347.1,416.8 345.7,418.2 344.4,419.7 343.2,421.0 342.2,422.2 341.3,423.4 340.4,424.6 339.6,425.8 338.8,426.9 337.9,428.0 337.0,429.1 336.1,430.1 335.2,431.1 334.4,432.1 333.5,433.0 332.6,434.0 331.7,435.0 330.8,436.1 329.9,437.1 329.0,438.1 328.1,438.9 327.3,439.5 326.5,439.9 325.7,440.1 325.0,440.1 324.3,440.1 323.7,440.0 323.3,440.0Z" fill="#ffd5d6"/>
<g clip-path="url(#bb5)"><path d="M323.3,436.0 323.7,435.5 324.2,434.8 324.9,433.9 325.6,433.0 326.3,432.0 327.0,431.0 327.6,429.9 328.3,428.8 329.0,427.6 329.6,426.4 330.3,425.2 331.0,424.0 331.7,422.9 332.3,421.7 333.0,420.6 333.7,419.5 334.4,418.3 335.2,417.0 336.0,415.6 336.9,414.1 337.8,412.6 338.7,411.1 339.6,409.4 340.5,407.8 341.4,406.1 342.3,404.3 343.1,402.4 344.0,400.6 344.9,398.8 345.8,397.2 346.7,395.7 347.6,394.2 348.5,392.8 349.4,391.5 350.2,390.3 351.1,389.3 351.9,388.5 352.8,387.9 353.6,387.4 354.4,387.0 355.2,386.5 356.0,386.0 356.8,385.4 357.7,384.7 358.5,384.0 359.3,383.3 360.2,382.6 361.0,382.0 361.8,381.4 362.6,380.8 363.4,380.3 364.3,379.7 365.1,379.2 365.9,378.8 366.7,378.4 367.6,378.1 368.4,377.8 369.2,377.5 370.1,377.3 370.9,377.0 371.7,376.7 372.5,376.5 373.3,376.2 374.2,376.0 375.0,375.8 375.8,375.5 376.6,375.2 377.5,375.0 378.3,374.7 379.1,374.4 380.0,374.1 380.8,373.8 381.6,373.4 382.4,373.0 383.2,372.6 384.1,372.2 384.9,371.7 385.7,371.3 386.5,370.9 387.4,370.5 388.2,370.1 389.0,369.6 389.9,369.2 390.7,368.8 391.5,368.4 392.4,368.0 393.2,367.6 394.0,367.2 394.9,366.8 395.7,366.3 396.5,365.8 397.3,365.4 398.2,364.9 399.0,364.3 399.8,363.8 400.6,363.2 401.4,362.6 402.3,361.8 403.1,361.1 404.0,360.4 404.8,359.6 405.6,358.9 406.4,358.2 407.1,357.6 407.8,356.9 408.5,356.2 409.2,355.5 410.0,354.8 410.8,354.0 411.6,353.2 412.5,352.4 413.3,351.5 414.2,350.6 415.0,349.8 415.9,349.0 416.7,348.2 417.6,347.3 418.4,346.5 419.2,345.7 419.9,344.9 420.4,344.1 420.9,343.3 421.3,342.5 421.6,341.7 422.0,340.8 422.4,339.9 422.9,338.9 423.4,337.7 423.9,336.5 424.5,335.4 425.0,334.4 425.5,333.7 426.0,333.2 426.4,332.9 426.8,332.7 427.2,332.7 427.6,332.9 428.0,333.1 428.4,333.5 428.8,334.1 429.2,334.7 429.6,335.5 430.0,336.4 430.4,337.4 430.8,338.4 431.2,339.6 431.6,340.8 432.0,342.1 432.4,343.5 432.9,344.9 433.4,346.4 433.9,348.1 434.4,349.9 434.9,351.6 435.5,353.3 436.0,354.8 436.6,356.2 437.2,357.4 437.8,358.6 438.4,359.7 438.9,360.8 439.5,362.0 440.0,363.2 440.5,364.3 441.0,365.4 441.5,366.6 442.0,367.8 442.5,369.0 443.0,370.3 443.5,371.6 444.0,372.9 444.5,374.2 445.0,375.6 445.5,377.0 446.0,378.5 446.5,380.0 447.0,381.5 447.5,383.0 448.0,384.5 448.5,386.0 449.0,387.4 449.5,388.8 450.0,390.2 450.5,391.5 451.0,392.8 451.5,394.0 451.9,395.1 452.4,396.2 452.8,397.2 453.2,398.2 453.6,399.1 454.0,400.0 454.4,400.7 454.8,401.3 455.2,401.9 455.5,402.4 455.9,403.1 456.4,404.0 456.9,405.1 457.4,406.5 458.0,407.9 458.6,409.4 459.1,410.9 459.7,412.3 460.2,413.7 460.8,415.1 461.4,416.5 461.9,417.9 462.4,419.2 463.0,420.5 463.5,421.7 464.1,422.9 464.6,424.0 465.1,425.1 465.7,426.1 466.3,427.1 466.9,428.1 467.6,429.0 468.3,429.9 469.0,430.7 469.7,431.4 470.4,432.1 471.0,432.7 471.5,433.1 472.1,433.5 472.6,433.9 473.3,434.2 474.0,434.6 474.3,435.0 474.0,435.4 473.8,435.8 474.3,436.2 476.1,436.6 480.0,437.0 487.0,437.4 496.9,437.7 508.1,438.1 519.2,438.4 528.8,438.6 535.4,438.8 535.4,440.0 528.3,440.0 518.1,440.0 506.2,440.0 494.2,440.1 483.6,440.1 476.0,440.2 471.7,440.3 469.4,440.3 468.6,440.4 468.5,440.5 468.6,440.7 468.0,441.0 467.0,441.5 466.0,442.2 465.2,442.9 464.4,443.6 463.6,444.2 462.9,444.5 462.2,444.6 461.5,444.6 460.9,444.4 460.3,444.0 459.7,443.6 459.1,443.0 458.5,442.3 458.0,441.4 457.5,440.4 457.0,439.2 456.5,437.9 455.9,436.6 455.3,435.2 454.6,433.6 454.0,431.9 453.3,430.2 452.7,428.3 452.0,426.3 451.4,424.2 450.7,421.9 450.1,419.6 449.5,417.1 448.8,414.7 448.2,412.2 447.5,409.6 446.8,406.8 446.1,404.0 445.4,401.3 444.8,398.9 444.3,396.8 443.9,395.2 443.6,393.9 443.3,392.9 443.0,392.0 442.8,391.1 442.5,390.0 442.2,388.7 441.8,387.4 441.5,386.0 441.1,384.7 440.8,383.3 440.4,382.0 440.0,380.7 439.6,379.5 439.2,378.3 438.8,377.1 438.4,375.9 437.9,374.6 437.4,373.2 436.9,371.7 436.4,370.2 435.9,368.7 435.3,367.2 434.8,365.9 434.3,364.7 433.8,363.5 433.2,362.4 432.7,361.4 432.2,360.5 431.7,359.7 431.2,359.0 430.7,358.3 430.2,357.7 429.7,357.2 429.2,356.8 428.6,356.6 428.0,356.5 427.5,356.6 426.9,356.8 426.3,357.1 425.6,357.5 424.9,357.9 424.1,358.4 423.3,358.9 422.5,359.6 421.6,360.2 420.7,360.9 419.9,361.6 419.1,362.3 418.3,363.0 417.4,363.7 416.6,364.5 415.8,365.2 415.0,365.9 414.2,366.6 413.3,367.2 412.5,367.9 411.6,368.5 410.8,369.2 410.0,370.0 409.2,370.8 408.5,371.8 407.8,372.7 407.1,373.7 406.4,374.6 405.6,375.5 404.8,376.3 404.0,377.1 403.1,377.8 402.3,378.6 401.4,379.3 400.6,379.9 399.8,380.5 399.0,381.0 398.2,381.5 397.3,382.0 396.5,382.5 395.7,383.0 394.9,383.5 394.0,384.1 393.2,384.6 392.4,385.1 391.5,385.6 390.7,386.1 389.9,386.6 389.0,387.0 388.2,387.4 387.4,387.8 386.5,388.2 385.7,388.6 384.9,389.0 384.1,389.4 383.2,389.9 382.4,390.3 381.6,390.7 380.8,391.1 380.0,391.5 379.1,392.0 378.3,392.4 377.5,392.8 376.6,393.2 375.8,393.6 375.0,393.9 374.2,394.2 373.3,394.5 372.5,394.8 371.7,395.1 370.9,395.4 370.0,395.7 369.1,396.1 368.2,396.4 367.3,396.7 366.5,397.0 365.9,397.3 365.5,397.5 365.4,397.6 365.3,397.8 365.3,397.9 365.2,398.0 364.8,398.2 364.2,398.4 363.4,398.7 362.5,399.0 361.6,399.3 360.7,399.6 360.0,399.9 359.4,400.2 358.9,400.5 358.5,400.8 358.1,401.2 357.7,401.5 357.3,401.9 356.9,402.3 356.4,402.7 356.0,403.1 355.6,403.6 355.2,404.2 354.8,404.8 354.4,405.6 354.0,406.4 353.6,407.4 353.2,408.3 352.8,409.2 352.4,410.0 352.1,410.6 351.9,411.0 351.8,411.3 351.5,411.7 351.1,412.2 350.5,413.0 349.6,414.1 348.4,415.3 347.1,416.8 345.7,418.2 344.4,419.7 343.2,421.0 342.2,422.2 341.3,423.4 340.4,424.6 339.6,425.8 338.8,426.9 337.9,428.0 337.0,429.1 336.1,430.1 335.2,431.1 334.4,432.1 333.5,433.0 332.6,434.0 331.7,435.0 330.8,436.1 329.9,437.1 329.0,438.1 328.1,438.9 327.3,439.5 326.5,439.9 325.7,440.1 325.0,440.1 324.3,440.1 323.7,440.0 323.3,440.0Z" fill="#e9b8d9"/></g>
<path d="M364.01,332.50V444.60M406.85,332.50V444.60M449.70,332.50V444.60M492.55,332.50V444.60M535.40,332.50V444.60M323.30,339.30H535.40M323.30,364.20H535.40M323.30,389.20H535.40M323.30,414.20H535.40M323.30,439.20H535.40" stroke="rgba(0,0,0,0.075)" stroke-width="1" fill="none"/>
<path d="M323.3,436.9 323.6,436.6 324.0,436.2 324.5,435.8 325.0,435.3 325.5,434.8 326.0,434.2 326.4,433.7 326.8,433.1 327.2,432.5 327.6,431.8 328.1,431.1 328.6,430.3 329.2,429.3 329.8,428.3 330.5,427.1 331.2,425.9 331.9,424.8 332.6,423.7 333.3,422.7 334.0,421.7 334.7,420.7 335.3,419.8 336.0,418.9 336.6,418.0 337.2,417.2 337.7,416.4 338.2,415.6 338.6,414.9 339.1,414.2 339.5,413.5 339.9,412.9 340.3,412.3 340.7,411.8 341.1,411.3 341.5,410.7 341.9,410.0 342.4,409.2 342.9,408.4 343.4,407.5 343.9,406.6 344.4,405.7 344.9,404.8 345.4,404.0 345.9,403.1 346.4,402.3 346.9,401.5 347.4,400.7 347.9,399.9 348.4,399.1 348.9,398.3 349.4,397.6 349.9,396.8 350.4,396.1 350.9,395.4 351.4,394.7 351.9,394.0 352.3,393.4 352.8,392.7 353.3,392.1 353.8,391.5 354.3,390.9 354.8,390.4 355.3,389.8 355.8,389.3 356.3,388.8 356.8,388.3 357.3,387.8 357.7,387.3 358.2,386.8 358.6,386.4 359.1,385.9 359.5,385.5 360.0,385.1 360.4,384.7 360.9,384.3 361.3,384.0 361.8,383.6 362.2,383.3 362.6,383.0 363.0,382.7 363.4,382.5 363.8,382.2 364.3,381.9 364.8,381.7 365.4,381.4 366.1,381.2 366.8,380.9 367.5,380.7 368.2,380.5 368.9,380.3 369.6,380.2 370.2,380.1 370.8,380.1 371.5,380.0 372.2,380.0 373.1,379.9 374.1,379.8 375.2,379.7 376.5,379.5 377.7,379.4 378.9,379.2 380.0,379.0 381.0,378.8 382.0,378.6 383.0,378.3 383.9,378.1 384.8,377.8 385.7,377.5 386.6,377.2 387.4,376.9 388.2,376.6 389.1,376.3 389.9,376.0 390.7,375.6 391.5,375.2 392.4,374.8 393.2,374.4 394.0,374.0 394.9,373.6 395.7,373.1 396.5,372.6 397.3,372.1 398.2,371.6 399.0,371.1 399.8,370.6 400.6,370.0 401.4,369.4 402.3,368.8 403.1,368.2 404.0,367.5 404.8,366.9 405.6,366.3 406.4,365.7 407.1,365.1 407.9,364.6 408.6,364.0 409.3,363.5 410.0,363.0 410.7,362.5 411.3,362.1 411.9,361.6 412.5,361.2 413.1,360.8 413.7,360.4 414.3,360.0 414.9,359.5 415.5,359.1 416.2,358.7 416.8,358.3 417.4,357.9 418.0,357.5 418.7,357.1 419.3,356.8 419.9,356.4 420.6,356.1 421.2,355.8 421.8,355.5 422.4,355.3 423.1,355.0 423.7,354.8 424.3,354.6 424.9,354.5 425.5,354.4 426.2,354.3 426.8,354.2 427.4,354.2 428.0,354.2 428.6,354.2 429.2,354.2 429.7,354.3 430.2,354.3 430.7,354.4 431.2,354.6 431.7,354.8 432.2,355.1 432.7,355.5 433.3,355.9 433.8,356.3 434.3,356.8 434.8,357.3 435.3,357.8 435.7,358.3 436.2,358.8 436.6,359.3 437.0,359.9 437.5,360.6 438.0,361.3 438.4,362.1 438.9,363.0 439.4,363.9 439.8,364.8 440.3,365.8 440.8,366.8 441.2,367.8 441.7,368.9 442.1,370.0 442.6,371.2 443.0,372.3 443.4,373.5 443.9,374.7 444.3,376.0 444.8,377.2 445.2,378.5 445.6,379.6 446.0,380.6 446.3,381.6 446.7,382.5 447.0,383.4 447.3,384.4 447.7,385.5 448.1,386.7 448.5,388.1 448.8,389.5 449.2,391.0 449.6,392.5 450.0,394.0 450.4,395.6 450.8,397.3 451.1,399.0 451.5,400.7 451.9,402.4 452.3,404.0 452.7,405.5 453.1,406.9 453.5,408.3 453.9,409.6 454.3,410.9 454.7,412.3 455.1,413.7 455.5,415.1 455.9,416.5 456.4,417.9 456.8,419.2 457.2,420.5 457.6,421.7 458.0,422.9 458.4,424.0 458.8,425.0 459.3,426.1 459.7,427.1 460.2,428.1 460.6,429.1 461.1,430.0 461.6,430.9 462.1,431.7 462.6,432.5 463.2,433.2 463.8,433.8 464.4,434.4 465.0,434.9 465.7,435.4 466.3,435.8 466.9,436.1 467.6,436.4 468.2,436.6 468.9,436.8 469.6,436.9 470.4,437.1 471.1,437.2 471.7,437.4 472.3,437.4 473.1,437.5 474.3,437.7 476.0,437.8 478.1,438.0 480.5,438.2 483.3,438.4 486.6,438.7 490.4,438.9 495.0,439.1 501.0,439.3 508.4,439.4 516.4,439.6 524.1,439.7 530.8,439.8 535.4,439.9" stroke="#0000ff" stroke-width="2.6" fill="none" stroke-linejoin="round"/>
<path d="M323.3,438.2 323.6,437.9 324.0,437.6 324.5,437.1 325.0,436.6 325.5,436.1 326.0,435.6 326.4,435.1 326.8,434.6 327.2,434.1 327.6,433.5 328.1,432.9 328.6,432.2 329.2,431.4 329.8,430.4 330.5,429.4 331.2,428.4 331.9,427.3 332.6,426.3 333.3,425.2 334.0,424.1 334.7,423.0 335.3,421.9 336.0,420.9 336.6,420.0 337.2,419.2 337.7,418.6 338.2,418.0 338.7,417.4 339.2,416.8 339.8,416.0 340.4,415.1 341.1,414.1 341.9,413.1 342.6,412.0 343.3,411.0 343.9,410.0 344.5,409.1 345.0,408.2 345.5,407.3 345.9,406.5 346.4,405.6 346.9,404.8 347.4,404.0 347.9,403.1 348.4,402.3 348.9,401.5 349.4,400.7 349.9,399.9 350.4,399.1 350.9,398.3 351.4,397.5 351.9,396.8 352.4,396.1 352.9,395.4 353.4,394.8 353.9,394.2 354.3,393.7 354.8,393.2 355.3,392.8 355.8,392.4 356.3,392.0 356.8,391.7 357.3,391.4 357.8,391.1 358.3,390.9 358.8,390.7 359.3,390.5 359.7,390.4 360.2,390.3 360.6,390.2 361.1,390.1 361.5,390.0 361.9,389.9 362.3,389.9 362.7,389.9 363.1,389.9 363.5,389.9 364.0,389.8 364.6,389.7 365.3,389.6 366.0,389.4 366.7,389.3 367.4,389.1 368.1,388.9 368.7,388.7 369.2,388.4 369.8,388.2 370.3,387.9 370.8,387.6 371.4,387.3 372.0,387.0 372.7,386.6 373.4,386.3 374.1,385.9 374.8,385.6 375.5,385.2 376.2,384.9 376.9,384.5 377.6,384.2 378.4,383.9 379.2,383.6 380.0,383.2 380.9,382.8 381.8,382.4 382.8,381.9 383.8,381.5 384.8,381.0 385.7,380.6 386.6,380.2 387.4,379.8 388.2,379.3 389.1,378.9 389.9,378.5 390.7,378.1 391.5,377.7 392.4,377.3 393.2,376.9 394.0,376.5 394.9,376.1 395.7,375.6 396.5,375.1 397.3,374.6 398.2,374.1 399.0,373.6 399.8,373.1 400.6,372.5 401.4,371.9 402.3,371.3 403.1,370.7 404.0,370.1 404.8,369.5 405.6,368.8 406.4,368.1 407.1,367.4 407.9,366.6 408.6,365.9 409.3,365.2 410.0,364.5 410.7,363.9 411.3,363.3 411.9,362.8 412.5,362.2 413.1,361.7 413.7,361.0 414.3,360.3 414.9,359.4 415.5,358.6 416.2,357.7 416.8,356.8 417.4,356.0 418.0,355.2 418.7,354.3 419.3,353.5 419.9,352.7 420.6,351.9 421.2,351.1 421.8,350.3 422.5,349.5 423.1,348.7 423.7,347.9 424.3,347.2 424.9,346.7 425.5,346.3 426.0,346.0 426.5,345.7 427.0,345.6 427.5,345.5 428.0,345.5 428.4,345.6 428.9,345.7 429.3,346.0 429.6,346.3 430.0,346.7 430.4,347.3 430.8,348.0 431.1,348.8 431.4,349.7 431.8,350.7 432.2,351.8 432.6,353.0 433.1,354.3 433.6,355.6 434.2,357.1 434.8,358.6 435.3,360.1 435.9,361.5 436.4,362.9 437.0,364.3 437.5,365.6 438.1,367.0 438.6,368.4 439.2,369.8 439.8,371.3 440.3,372.8 440.9,374.4 441.4,375.9 442.0,377.4 442.5,378.8 443.0,380.1 443.6,381.4 444.1,382.6 444.6,383.8 445.1,385.0 445.6,386.3 446.1,387.6 446.6,388.9 447.0,390.3 447.5,391.6 447.9,393.1 448.4,394.5 448.8,396.0 449.3,397.6 449.7,399.2 450.1,400.9 450.6,402.5 451.0,404.0 451.4,405.5 451.8,406.9 452.3,408.2 452.7,409.6 453.1,410.9 453.5,412.3 453.9,413.7 454.3,415.1 454.8,416.5 455.2,417.8 455.6,419.2 456.0,420.5 456.4,421.8 456.8,423.1 457.2,424.4 457.6,425.7 458.1,426.9 458.5,428.0 459.0,429.1 459.4,430.2 459.9,431.2 460.4,432.1 460.9,433.0 461.4,433.8 461.9,434.5 462.4,435.1 463.0,435.7 463.5,436.2 464.1,436.7 464.7,437.1 465.3,437.5 466.0,437.8 466.6,438.1 467.3,438.3 468.0,438.5 468.8,438.7 469.0,438.8 468.4,438.9 467.8,439.0 468.1,439.0 469.9,439.1 474.0,439.1 481.7,439.1 492.6,439.2 505.0,439.2 517.4,439.2 528.1,439.2 535.4,439.2" stroke="#ff0000" stroke-width="1.8" fill="none" stroke-linejoin="round"/>
</g>
<path d="M323.30,332.50V444.60H535.40" stroke="#858585" stroke-width="1" fill="none"/>
<path d="M364.01,444.60V442.60M406.85,444.60V442.60M449.70,444.60V442.60M492.55,444.60V442.60M535.40,444.60V442.60M323.30,339.30H325.30M323.30,364.20H325.30M323.30,389.20H325.30M323.30,414.20H325.30M323.30,439.20H325.30" stroke="#858585" stroke-width="1" fill="none"/>
<text x="364.01" y="460.50" font-size="10.5" text-anchor="middle">20</text>
<text x="406.85" y="460.50" font-size="10.5" text-anchor="middle">40</text>
<text x="449.70" y="460.50" font-size="10.5" text-anchor="middle">60</text>
<text x="492.55" y="460.50" font-size="10.5" text-anchor="middle">80</text>
<text x="535.40" y="460.50" font-size="10.5" text-anchor="middle">100</text>
<text x="318.40" y="343.90" font-size="10.5" text-anchor="end">2</text>
<text x="318.40" y="368.80" font-size="10.5" text-anchor="end">1.5</text>
<text x="318.40" y="393.80" font-size="10.5" text-anchor="end">1</text>
<text x="318.40" y="418.80" font-size="10.5" text-anchor="end">0.5</text>
<text x="318.40" y="443.80" font-size="10.5" text-anchor="end">0</text>
<text x="429.35" y="329.80" font-size="11" font-weight="bold" text-anchor="middle">GRM sagittal</text>
<text transform="translate(297.60,388.55) rotate(-90)" font-size="11.1" text-anchor="middle">Nm/kg</text>
<text x="429.35" y="475.80" font-size="11.3" text-anchor="middle">gait cycle (%)</text>
</svg></body></html>
